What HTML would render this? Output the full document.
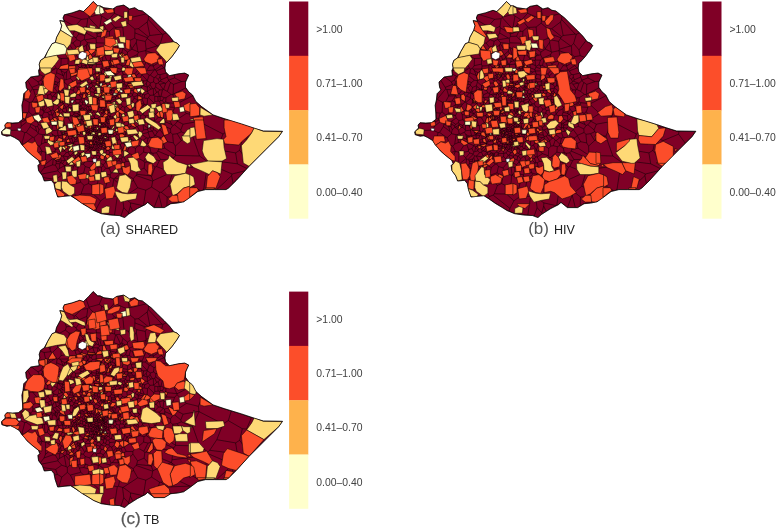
<!DOCTYPE html>
<html lang="en"><head><meta charset="utf-8"><title>Relative risk maps</title>
<style>
html,body{margin:0;padding:0;background:#fff;}
body{width:778px;height:529px;overflow:hidden;}
svg{display:block;}
text{font-family:"Liberation Sans",Arial,Helvetica,sans-serif;}
.lab{font-size:10.4px;fill:#424242;}
.cap1{font-size:17px;fill:#555;}
.cap2{font-size:12.6px;fill:#222;}
.bd{stroke:#555;stroke-width:0.25;}
.pp polygon{stroke:#000;stroke-width:0.5;stroke-linejoin:round;}
</style></head><body>
<svg width="778" height="529" viewBox="0 0 778 529">
<defs>
<clipPath id="clipEth"><polygon points="93.2,1.5 97.7,5.8 100.0,5.8 103.9,7.7 112.9,9.0 116.7,6.4 123.8,5.1 129.6,9.0 134.7,7.7 138.6,10.3 142.4,10.9 151.4,18.0 157.8,24.4 164.3,30.8 169.4,36.0 173.9,41.8 177.1,43.1 179.4,45.6 177.1,49.5 172.0,56.6 166.8,62.3 165.6,63.0 164.9,68.0 165.6,71.9 169.4,75.7 178.4,73.8 184.8,73.1 188.7,75.1 185.5,82.1 185.5,87.3 188.7,91.8 192.5,95.0 195.8,101.4 201.6,106.6 213.1,114.9 224.7,118.8 241.4,123.9 253.0,127.8 263.3,131.0 282.5,131.3 278.7,136.7 265.8,149.6 249.1,166.3 236.3,180.4 228.6,188.0 226.1,189.6 214.6,189.6 205.6,189.6 197.8,191.5 190.1,197.3 183.7,201.8 177.3,203.1 170.8,203.7 164.4,207.6 154.1,207.6 147.7,202.4 145.1,204.7 137.4,208.6 128.4,214.3 124.6,217.6 119.4,215.6 110.4,215.0 101.4,213.7 93.7,210.5 88.6,207.3 82.1,203.4 75.7,198.9 70.6,195.7 64.1,196.3 57.7,197.0 55.1,189.3 54.0,183.6 51.4,180.3 44.3,181.0 42.4,175.8 38.6,170.7 37.9,165.6 39.8,163.6 38.6,160.4 32.1,155.3 27.0,150.8 25.0,148.2 21.7,144.4 19.3,140.5 14.5,137.6 10.6,135.7 6.8,136.2 1.9,134.7 1.4,131.8 5.3,128.0 4.8,125.1 6.8,122.7 12.5,123.1 18.3,122.7 22.7,119.3 22.5,113.0 21.9,105.3 23.1,100.1 23.8,93.7 27.6,89.9 26.3,87.3 25.7,82.1 30.8,77.0 39.2,75.7 38.6,70.6 39.8,68.0 39.2,64.3 40.5,60.4 44.3,57.8 47.6,51.4 52.0,43.7 55.3,42.4 56.6,37.3 60.4,30.2 61.7,25.7 59.8,20.6 64.3,21.2 63.0,18.0 64.3,14.8 72.0,12.9 79.7,10.3 83.5,11.6 88.7,6.4"/></clipPath>
<path id="mesh" d="M119.3 165.7L121.8 163.1M119.3 165.7L120.5 167.2M120.5 167.2L124.8 166.2M124.0 162.7L124.8 166.2M122.5 162.8L124.0 162.7M121.8 163.1L122.5 162.8M124.0 157.0L129.2 153.6M124.0 157.0L126.2 161.4M126.2 161.4L132.9 161.6M132.9 161.6L135.8 157.3M135.0 155.8L135.8 157.3M129.2 153.6L135.0 155.8M63.1 90.7L63.9 91.8M62.8 90.5L63.1 90.7M58.2 91.8L62.8 90.5M57.7 92.4L58.2 91.8M57.6 92.6L57.7 92.4M57.6 92.6L57.8 92.8M57.8 92.8L62.3 93.4M62.3 93.4L63.9 92.1M63.9 91.8L63.9 92.1M64.2 97.6L66.1 96.5M65.6 95.3L66.1 96.5M64.3 94.6L65.6 95.3M63.1 94.9L64.3 94.6M63.0 95.0L63.1 94.9M61.8 97.3L63.0 95.0M61.8 97.3L61.9 97.7M61.9 97.7L64.2 97.6M63.5 49.9L67.7 49.1M63.5 49.9L67.8 58.2M67.8 58.2L68.2 58.3M68.2 58.3L69.4 57.7M68.0 49.5L69.4 57.7M67.7 49.1L68.0 49.5M132.6 61.8L134.3 67.0M130.5 60.4L132.6 61.8M129.2 65.4L130.5 60.4M129.2 65.4L132.6 67.7M132.6 67.7L134.3 67.0M163.6 89.4L167.3 91.4M167.3 91.4L170.5 82.5M168.6 80.7L170.5 82.5M165.7 83.3L168.6 80.7M163.6 89.4L165.7 83.3M162.4 100.4L164.3 97.7M162.4 100.4L164.1 103.1M164.1 103.1L164.5 102.9M164.5 102.9L165.7 101.9M165.7 101.9L166.0 97.7M164.3 97.7L166.0 97.7M159.4 96.5L160.1 96.6M160.1 96.6L161.0 96.2M161.0 96.2L162.5 89.8M160.0 89.9L162.5 89.8M158.1 91.6L160.0 89.9M158.1 91.6L159.4 96.5M54.7 111.3L58.1 108.5M54.7 111.3L54.8 111.6M54.8 111.6L55.5 112.2M55.5 112.2L56.7 112.1M56.7 112.1L58.5 111.0M58.1 108.5L58.5 111.0M102.6 77.1L103.2 76.3M100.7 74.7L103.2 76.3M100.2 75.2L100.7 74.7M100.2 75.2L100.4 76.1M100.4 76.1L102.6 77.1M94.2 103.0L94.2 103.1M90.7 103.6L94.2 103.0M90.7 103.6L91.0 105.1M91.0 105.1L94.2 104.0M94.2 103.1L94.2 104.0M107.4 93.1L107.5 92.5M107.4 93.1L109.7 93.5M109.7 93.5L111.4 92.3M110.7 90.4L111.4 92.3M110.6 90.3L110.7 90.4M107.5 92.5L110.6 90.3M66.7 142.5L66.8 142.3M66.2 140.4L66.8 142.3M64.7 138.8L66.2 140.4M63.1 138.9L64.7 138.8M62.7 139.1L63.1 138.9M62.0 141.6L62.7 139.1M62.0 141.6L62.1 142.5M62.1 142.5L65.4 143.1M65.4 143.1L66.7 142.5M113.0 54.0L113.8 52.7M113.0 54.0L116.7 59.0M116.7 59.0L119.8 56.7M118.8 54.5L119.8 56.7M113.8 52.7L118.8 54.5M147.2 80.7L147.5 81.0M143.5 80.9L147.2 80.7M143.0 85.9L143.5 80.9M143.0 85.9L143.6 85.8M143.6 85.8L146.1 83.3M146.1 83.3L147.5 81.0M164.3 30.8L166.3 32.8M157.8 24.4L164.3 30.8M151.4 18.0L157.8 24.4M148.6 15.8L151.4 18.0M148.3 19.5L148.6 15.8M148.3 19.5L161.9 34.1M161.9 34.1L163.0 34.3M163.0 34.3L166.3 32.8M161.2 56.7L166.9 55.7M165.7 49.9L166.9 55.7M160.3 43.5L165.7 49.9M158.1 45.8L160.3 43.5M158.1 45.8L158.6 54.6M158.6 54.6L161.2 56.7M66.7 160.9L66.9 164.1M66.9 164.1L69.1 164.6M69.1 164.6L70.4 162.5M67.3 160.5L70.4 162.5M66.7 160.9L67.3 160.5M24.3 143.9L32.8 137.1M24.3 143.9L32.7 146.4M32.7 146.4L36.0 144.5M34.0 137.5L36.0 144.5M32.8 137.1L34.0 137.5M85.4 130.2L85.4 130.3M84.5 128.9L85.4 130.2M83.0 129.3L84.5 128.9M82.2 130.8L83.0 129.3M82.2 130.8L82.6 131.3M82.6 131.3L84.6 131.6M84.6 131.6L85.4 130.3M71.9 122.7L73.4 117.7M71.9 122.7L72.4 122.9M72.4 122.9L74.2 123.0M74.2 123.0L75.7 121.7M75.4 118.2L75.7 121.7M74.2 117.8L75.4 118.2M73.4 117.7L74.2 117.8M110.3 68.3L110.7 68.6M110.7 68.6L112.8 68.6M112.8 68.3L112.8 68.6M110.8 66.4L112.8 68.3M110.3 68.3L110.8 66.4M85.4 73.8L88.2 75.3M85.9 72.3L88.2 75.3M85.4 73.8L85.9 72.3M164.2 135.3L170.8 132.5M170.5 128.9L170.8 132.5M165.1 126.4L170.5 128.9M161.0 127.7L165.1 126.4M160.0 128.7L161.0 127.7M160.0 128.7L160.0 129.7M160.0 129.7L164.2 135.3M22.7 118.1L25.1 119.1M22.7 118.1L22.7 119.3M20.0 121.4L22.7 119.3M20.0 121.4L20.8 122.2M20.8 122.2L25.7 120.1M25.1 119.1L25.7 120.1M137.6 170.9L144.1 168.1M136.7 174.3L137.6 170.9M136.7 174.3L150.8 175.9M144.1 168.1L150.8 175.9M110.6 72.4L111.2 74.7M111.2 74.7L112.1 76.0M112.1 76.0L115.9 74.9M114.8 73.5L115.9 74.9M111.9 72.0L114.8 73.5M110.6 72.4L111.9 72.0M118.3 122.0L121.0 123.7M114.8 122.6L118.3 122.0M114.8 122.6L115.1 123.6M115.1 123.6L116.7 125.7M116.7 125.7L116.8 125.7M116.8 125.7L120.8 124.0M120.8 124.0L121.0 123.7M98.6 28.1L99.6 28.0M96.9 33.4L98.6 28.1M96.9 33.4L97.0 34.0M97.0 34.0L104.4 31.4M101.3 27.8L104.4 31.4M99.6 28.0L101.3 27.8M115.1 135.8L116.6 134.5M115.4 131.5L116.6 134.5M113.4 132.9L115.4 131.5M113.0 134.3L113.4 132.9M113.0 134.3L114.2 136.2M114.2 136.2L115.1 135.8M143.9 105.1L144.5 104.5M144.3 104.3L144.5 104.5M140.9 103.4L144.3 104.3M138.0 105.4L140.9 103.4M138.0 105.4L138.2 106.1M138.2 106.1L143.9 105.1M47.9 54.6L50.0 59.2M50.0 59.2L52.8 52.8M50.2 53.1L52.8 52.8M47.9 54.6L50.2 53.1M156.5 166.5L159.4 160.6M156.5 166.5L171.2 172.5M171.2 172.5L171.5 172.5M171.5 172.5L172.0 169.8M172.0 169.8L173.0 159.3M160.7 159.6L173.0 159.3M159.4 160.6L160.7 159.6M49.5 76.3L49.7 73.7M47.3 70.0L49.7 73.7M46.7 76.8L47.3 70.0M46.7 76.8L47.2 76.8M47.2 76.8L49.5 76.3M73.7 164.6L73.8 164.2M72.6 162.5L73.8 164.2M71.4 161.9L72.6 162.5M70.4 162.5L71.4 161.9M69.1 164.6L69.9 165.3M69.9 165.3L73.7 164.6M53.2 96.2L57.1 97.5M57.1 97.5L57.6 92.6M56.1 92.9L57.6 92.6M53.2 96.2L56.1 92.9M78.7 126.6L80.0 127.0M77.1 128.5L78.7 126.6M77.1 128.5L78.3 129.5M78.3 129.5L79.4 129.7M79.4 129.7L80.0 127.0M159.7 84.3L163.2 89.4M163.2 89.4L163.6 89.4M164.9 83.1L165.7 83.3M159.7 84.3L164.9 83.1M87.5 110.4L89.0 108.9M87.5 110.4L87.7 111.1M87.7 111.1L90.5 109.8M89.0 108.9L90.5 109.8M123.8 100.9L126.8 101.6M126.8 101.6L128.5 100.1M128.5 99.2L128.5 100.1M126.8 97.2L128.5 99.2M126.5 97.1L126.8 97.2M124.1 97.4L126.5 97.1M123.8 100.9L124.1 97.4M140.0 145.7L141.9 140.3M139.9 137.9L141.9 140.3M139.5 138.0L139.9 137.9M139.0 138.1L139.5 138.0M136.5 140.9L139.0 138.1M136.4 141.4L136.5 140.9M136.4 141.4L137.6 146.1M137.6 146.1L140.0 145.7M150.4 82.9L153.5 82.0M153.5 82.0L154.0 77.7M150.3 75.1L154.0 77.7M149.2 75.2L150.3 75.1M147.3 80.5L149.2 75.2M147.2 80.7L147.3 80.5M147.5 81.0L150.4 82.9M109.7 93.5L111.2 95.1M111.2 95.1L113.2 94.3M113.2 94.3L113.3 94.0M111.4 92.3L113.3 94.0M137.4 100.6L138.6 102.4M134.9 103.4L137.4 100.6M134.9 103.4L137.6 104.8M137.6 104.8L138.6 102.4M100.4 143.0L101.0 144.4M101.0 144.4L102.0 144.8M102.0 144.8L102.4 143.8M101.6 143.3L102.4 143.8M100.4 143.0L101.6 143.3M76.2 132.9L76.8 135.0M76.8 135.0L78.6 134.3M77.8 132.7L78.6 134.3M77.3 132.2L77.8 132.7M76.2 132.9L77.3 132.2M55.3 135.9L56.3 135.9M53.3 137.0L55.3 135.9M53.3 137.0L53.4 139.2M53.4 139.2L53.4 139.3M53.4 139.3L56.3 135.9M39.4 146.2L41.9 151.1M36.0 144.5L39.4 146.2M29.6 153.1L32.7 146.4M29.6 153.1L31.9 155.1M31.9 155.1L41.9 151.1M111.3 107.7L111.6 109.3M111.6 109.3L115.8 109.3M115.7 108.9L115.8 109.3M114.8 107.9L115.7 108.9M111.3 107.7L114.8 107.9M130.9 129.9L134.1 128.6M134.1 128.6L135.3 127.3M131.6 125.7L135.3 127.3M128.7 127.7L131.6 125.7M128.7 127.7L129.6 130.1M129.6 130.1L130.9 129.9M86.7 26.4L87.8 18.7M81.3 19.3L87.8 18.7M75.5 25.5L81.3 19.3M75.5 25.5L79.6 29.5M79.6 29.5L86.7 26.4M156.2 114.4L158.5 117.0M158.5 117.0L160.5 117.1M159.5 111.7L160.5 117.1M158.5 111.5L159.5 111.7M156.2 114.4L158.5 111.5M98.9 91.7L99.1 92.1M99.1 92.1L101.7 90.4M100.4 89.4L101.7 90.4M99.5 90.2L100.4 89.4M98.9 91.7L99.5 90.2M111.7 157.1L112.9 161.6M110.0 156.5L111.7 157.1M107.3 158.8L110.0 156.5M106.0 161.3L107.3 158.8M106.0 161.3L112.9 161.6M84.9 79.8L87.6 76.8M84.9 76.7L87.6 76.8M83.7 77.3L84.9 76.7M83.5 78.2L83.7 77.3M83.5 78.2L84.1 79.7M84.1 79.7L84.9 79.8M92.8 69.5L96.2 69.0M91.2 71.0L92.8 69.5M91.2 71.0L92.6 74.0M92.6 74.0L93.4 74.4M93.4 74.4L95.0 73.9M95.0 73.9L96.3 69.4M96.2 69.0L96.3 69.4M159.3 61.2L161.2 56.7M156.5 54.6L158.6 54.6M153.0 58.6L156.5 54.6M153.0 58.6L153.3 60.0M153.3 60.0L159.3 61.2M73.5 136.8L75.2 139.9M75.2 139.9L76.6 138.7M76.6 138.7L77.3 138.0M76.5 136.8L77.3 138.0M73.5 136.8L76.5 136.8M112.7 138.7L113.1 140.6M113.1 140.6L117.5 140.3M117.5 140.3L118.8 139.9M115.1 135.8L118.8 139.9M112.7 138.7L114.2 136.2M84.8 112.9L85.0 111.0M84.8 112.9L86.3 113.7M86.3 113.7L86.6 113.7M86.6 113.7L87.7 113.1M87.7 111.7L87.7 113.1M87.7 111.1L87.7 111.7M86.5 109.6L87.5 110.4M85.0 111.0L86.5 109.6M98.0 100.7L98.7 99.7M98.4 98.8L98.7 99.7M98.2 98.8L98.4 98.8M95.4 99.1L98.2 98.8M92.9 100.0L95.4 99.1M92.9 100.0L93.1 100.2M93.1 100.2L98.0 100.7M103.1 91.1L103.1 91.9M103.1 90.8L103.1 91.1M101.7 90.4L103.1 90.8M99.1 92.1L99.5 93.1M99.5 93.1L101.3 93.3M101.3 93.3L101.7 93.0M101.7 93.0L103.1 91.9M154.1 115.8L155.4 114.4M154.1 115.8L154.7 121.0M154.7 121.0L158.5 117.0M155.4 114.4L156.2 114.4M110.1 148.7L111.4 148.6M111.4 148.6L112.4 144.6M112.1 141.9L112.4 144.6M110.8 142.2L112.1 141.9M110.1 142.8L110.8 142.2M109.1 146.5L110.1 142.8M109.1 146.5L110.1 148.7M75.7 121.7L76.9 121.3M76.9 121.3L78.2 119.5M77.8 118.8L78.2 119.5M76.4 116.9L77.8 118.8M76.2 116.8L76.4 116.9M75.4 118.2L76.2 116.8M151.7 131.2L152.5 131.2M148.4 131.9L151.7 131.2M148.2 132.5L148.4 131.9M148.2 132.5L149.8 137.3M149.8 137.3L152.6 137.7M152.6 137.7L154.8 135.7M152.5 131.2L154.8 135.7M88.1 106.5L90.6 106.2M88.1 106.5L89.0 108.9M90.5 109.8L91.1 110.0M91.1 110.0L92.3 109.2M91.5 107.1L92.3 109.2M90.6 106.2L91.5 107.1M86.0 133.0L88.5 134.7M84.7 135.3L86.0 133.0M84.7 135.3L84.9 135.3M84.9 135.3L88.5 136.4M88.5 134.7L88.5 136.4M96.9 131.8L97.3 131.3M96.9 131.8L98.1 132.2M97.3 131.3L98.1 132.2M86.1 9.0L89.1 17.2M83.5 11.6L86.1 9.0M79.7 10.3L83.5 11.6M72.0 12.9L79.7 10.3M65.5 14.5L72.0 12.9M65.5 14.5L81.3 19.3M87.8 18.7L88.9 17.6M88.9 17.6L89.1 17.2M122.3 119.2L123.3 118.6M122.3 119.2L122.8 120.2M122.8 120.2L123.2 120.3M123.2 120.3L124.4 119.5M123.3 118.6L124.4 119.5M78.3 114.3L78.8 115.0M76.1 116.6L78.3 114.3M76.1 116.6L76.2 116.8M76.4 116.9L78.0 116.7M78.0 116.7L79.4 116.2M79.4 116.2L79.5 116.1M79.2 115.7L79.5 116.1M78.8 115.0L79.2 115.7M141.9 74.8L147.3 80.5M140.3 77.9L141.9 74.8M140.3 77.9L141.7 80.0M141.7 80.0L143.5 80.9M160.0 76.8L161.0 79.8M158.3 79.4L160.0 76.8M158.3 79.4L159.2 81.7M159.2 81.7L160.3 81.2M160.3 81.2L161.0 79.8M122.6 81.0L124.3 81.9M121.4 82.7L122.6 81.0M121.4 82.7L124.2 84.1M124.2 84.1L124.3 81.9M127.5 117.7L127.6 117.3M125.6 116.7L127.6 117.3M124.7 117.5L125.6 116.7M124.7 117.5L124.8 119.5M124.8 119.5L124.9 119.6M124.9 119.6L127.5 117.7M44.2 83.5L44.3 83.3M43.1 81.5L44.3 83.3M42.8 81.7L43.1 81.5M41.2 84.6L42.8 81.7M41.2 84.6L44.2 83.5M152.4 88.6L153.3 88.8M153.3 88.8L154.5 88.0M154.5 88.0L155.7 87.1M155.7 87.1L155.9 83.7M153.5 82.0L155.9 83.7M150.0 84.6L150.4 82.9M150.0 84.6L152.4 88.6M82.3 90.8L82.4 90.5M82.0 89.5L82.4 90.5M78.2 89.8L82.0 89.5M76.1 93.6L78.2 89.8M76.1 93.6L76.5 94.2M76.5 94.2L78.8 94.6M78.8 94.6L82.3 90.8M89.6 116.5L90.0 115.9M89.6 116.5L90.0 118.0M90.0 118.0L90.8 118.4M90.8 118.4L93.3 118.8M93.3 118.8L94.6 117.9M94.3 116.4L94.6 117.9M92.7 115.5L94.3 116.4M90.0 115.9L92.7 115.5M142.5 93.7L145.3 91.1M141.3 88.0L145.3 91.1M141.0 88.2L141.3 88.0M140.4 90.9L141.0 88.2M140.4 90.9L141.2 93.0M141.2 93.0L142.5 93.7M110.9 84.3L111.1 84.1M110.9 84.3L113.2 87.1M113.2 87.1L113.9 87.2M113.9 87.2L114.5 83.7M114.0 83.3L114.5 83.7M111.4 83.8L114.0 83.3M111.1 84.1L111.4 83.8M101.7 64.1L101.8 63.7M101.8 63.7L102.2 61.5M100.6 60.8L102.2 61.5M97.4 61.7L100.6 60.8M96.0 64.4L97.4 61.7M96.0 64.4L96.2 64.7M96.2 64.7L101.7 64.1M42.3 115.5L42.8 118.0M41.4 115.3L42.3 115.5M32.9 119.2L41.4 115.3M32.7 121.0L32.9 119.2M32.7 121.0L37.2 121.8M37.2 121.8L38.2 121.3M38.2 121.3L42.8 118.0M70.3 78.5L72.9 81.0M66.1 79.6L70.3 78.5M64.4 80.1L66.1 79.6M64.0 80.6L64.4 80.1M64.0 80.6L64.1 82.0M64.1 82.0L68.2 85.7M68.2 85.7L68.6 85.6M68.6 85.6L72.9 81.0M59.4 99.3L59.6 99.3M59.1 103.2L59.4 99.3M59.1 103.2L60.7 102.8M59.7 99.5L60.7 102.8M59.6 99.3L59.7 99.5M60.4 113.7L60.9 113.6M60.9 113.6L62.8 111.3M62.1 109.4L62.8 111.3M61.7 109.2L62.1 109.4M58.9 111.2L61.7 109.2M58.9 111.2L60.4 113.7M134.1 135.1L135.9 135.8M135.9 135.8L137.8 134.1M137.8 134.1L138.4 132.1M135.2 132.9L138.4 132.1M134.3 134.1L135.2 132.9M134.1 135.1L134.3 134.1M21.8 144.2L24.3 143.9M21.6 144.3L21.8 144.2M21.6 144.3L21.7 144.4M21.7 144.4L25.0 148.2M25.0 148.2L27.0 150.8M27.0 150.8L29.6 153.1M120.1 130.9L121.3 127.5M120.1 130.9L123.1 129.9M123.1 129.9L123.8 128.0M123.8 127.6L123.8 128.0M121.3 127.5L123.8 127.6M102.9 121.0L104.0 119.3M102.9 121.0L106.3 121.8M106.3 121.2L106.3 121.8M105.1 119.6L106.3 121.2M104.0 119.3L105.1 119.6M136.0 175.4L136.7 174.3M136.0 175.4L152.7 181.2M152.7 181.2L152.9 180.7M151.5 176.6L152.9 180.7M150.8 175.9L151.5 176.6M47.0 69.1L47.3 70.0M45.5 68.7L47.0 69.1M44.8 69.5L45.5 68.7M44.8 69.5L45.1 76.4M45.1 76.4L46.0 76.8M46.0 76.8L46.7 76.8M35.4 96.0L42.1 95.7M32.1 102.1L35.4 96.0M32.1 102.1L32.9 102.4M32.9 102.4L38.8 101.0M38.8 101.0L42.1 95.8M42.1 95.7L42.1 95.8M76.9 39.7L80.8 41.3M72.9 43.0L76.9 39.7M72.9 43.0L76.3 47.4M76.3 47.4L78.5 46.6M78.5 46.6L80.2 45.3M80.2 45.3L80.8 41.3M139.8 84.7L141.7 80.0M138.1 78.5L140.3 77.9M135.8 82.9L138.1 78.5M135.8 82.9L135.9 83.3M135.9 83.3L139.8 84.7M50.6 145.4L53.5 144.6M46.0 152.2L50.6 145.4M46.0 152.2L47.6 152.9M47.6 152.9L55.1 151.3M55.1 151.3L55.3 149.5M53.5 144.6L55.3 149.5M119.2 152.2L119.8 154.4M119.8 154.4L122.6 156.9M122.6 156.9L123.9 156.9M123.7 150.9L123.9 156.9M123.0 150.6L123.7 150.9M119.2 152.2L123.0 150.6M87.9 132.4L89.3 132.7M89.3 132.7L89.4 131.8M88.2 131.8L89.4 131.8M87.9 132.4L88.2 131.8M121.7 143.0L124.5 143.8M124.5 143.8L126.2 142.7M124.2 139.1L126.2 142.7M120.9 141.1L124.2 139.1M120.9 141.1L121.7 143.0M168.6 80.2L168.6 80.7M167.3 77.1L168.6 80.2M161.0 79.8L167.3 77.1M160.3 81.2L164.9 83.1M119.0 112.3L119.1 117.5M119.1 117.5L120.0 118.0M120.0 118.0L121.6 116.0M121.6 116.0L122.2 114.2M119.0 112.3L122.2 114.2M70.9 86.0L71.1 86.9M68.6 85.6L70.9 86.0M68.2 85.7L68.3 89.5M68.3 89.5L68.4 89.7M68.4 89.7L69.8 89.4M69.8 89.4L71.1 86.9M87.2 106.2L88.1 106.5M86.2 108.5L87.2 106.2M86.2 108.5L86.5 109.6M89.9 130.8L90.8 133.1M90.8 133.1L91.4 133.0M91.4 133.0L91.6 132.9M91.6 132.9L91.8 132.7M90.5 130.6L91.8 132.7M89.9 130.5L90.5 130.6M89.9 130.5L89.9 130.8M84.2 118.5L85.3 120.1M81.9 119.8L84.2 118.5M81.9 119.8L83.5 121.7M83.5 121.7L83.9 121.9M83.9 121.9L85.3 120.1M106.6 48.8L108.6 54.5M104.2 53.7L106.6 48.8M104.2 53.7L104.3 55.2M104.3 55.2L104.5 55.2M104.5 55.2L108.6 54.5M145.6 110.6L149.8 108.7M142.9 114.1L145.6 110.6M142.8 114.7L142.9 114.1M142.8 114.7L145.5 115.9M145.5 115.9L148.7 115.5M148.7 115.5L149.8 112.2M149.8 108.7L149.8 112.2M100.0 5.8L102.4 7.0M97.7 5.8L100.0 5.8M93.2 1.5L97.7 5.8M88.7 6.4L93.2 1.5M86.1 9.0L88.7 6.4M89.1 17.2L99.2 14.4M99.2 14.4L102.4 7.0M154.8 101.4L158.2 101.1M157.8 96.6L158.2 101.1M154.7 96.2L157.8 96.6M154.7 96.2L154.8 101.4M99.1 129.8L99.8 129.0M99.7 128.6L99.8 129.0M98.5 128.0L99.7 128.6M97.3 129.9L98.5 128.0M97.3 129.9L97.4 129.9M97.4 129.9L97.5 130.0M97.5 130.0L99.1 129.8M56.1 163.6L56.2 161.3M56.1 163.6L59.9 163.8M59.9 163.8L60.8 162.7M60.8 162.6L60.8 162.7M58.8 161.5L60.8 162.6M56.2 161.3L58.8 161.5M61.2 58.5L67.8 58.2M60.9 65.7L61.2 58.5M60.9 65.7L68.1 64.1M68.1 64.1L68.2 58.3M118.8 54.5L120.4 53.9M119.8 56.7L122.0 56.9M122.0 56.9L122.3 56.4M120.4 53.9L122.3 56.4M127.3 79.4L127.8 75.2M127.3 79.4L127.9 80.3M127.9 80.3L130.5 79.1M130.5 79.1L132.0 77.3M131.1 74.2L132.0 77.3M130.2 73.6L131.1 74.2M127.8 75.2L130.2 73.6M87.4 93.1L87.9 95.0M87.9 95.0L90.1 94.3M90.1 94.3L90.5 91.8M90.1 91.4L90.5 91.8M87.4 93.1L90.1 91.4M93.0 85.9L94.9 86.2M91.4 87.5L93.0 85.9M91.4 87.5L94.8 90.9M94.8 90.9L95.3 90.5M95.3 90.5L95.4 87.4M94.9 86.2L95.4 87.4M132.6 113.1L133.0 110.7M132.6 113.1L132.6 113.2M132.6 113.2L135.2 115.7M135.2 115.7L138.0 114.5M137.2 109.9L138.0 114.5M133.0 110.7L137.2 109.9M142.4 10.9L146.2 13.9M138.6 10.3L142.4 10.9M134.7 7.7L138.6 10.3M129.6 9.0L134.7 7.7M127.9 7.9L129.6 9.0M127.9 7.9L129.2 17.9M129.2 17.9L146.2 13.9M102.8 121.1L102.9 121.0M102.8 121.1L103.4 123.0M103.4 123.0L103.7 123.5M103.7 123.5L105.0 124.1M105.0 124.1L105.2 124.1M105.2 124.1L106.9 122.8M106.3 121.8L106.9 122.8M136.6 88.9L137.9 92.4M134.6 88.5L136.6 88.9M133.8 90.4L134.6 88.5M133.8 90.4L134.0 92.0M134.0 92.0L137.3 93.4M137.3 93.4L137.9 92.4M55.4 75.7L56.6 72.8M56.6 72.8L57.1 69.0M56.3 68.3L57.1 69.0M54.8 68.9L56.3 68.3M50.4 71.9L54.8 68.9M49.7 73.7L50.4 71.9M49.5 76.3L52.5 77.2M52.5 77.2L55.4 75.7M83.0 136.2L84.2 137.7M82.1 137.0L83.0 136.2M82.1 137.0L82.2 138.0M82.2 138.0L82.6 139.1M82.6 139.1L82.9 139.4M82.9 139.4L84.2 139.6M84.2 137.7L84.2 139.6M101.3 142.5L102.3 142.1M101.3 142.5L101.6 143.3M102.4 143.8L102.9 143.3M102.3 142.1L102.9 143.3M91.5 76.4L92.7 76.0M89.3 77.7L91.5 76.4M89.3 77.7L89.7 78.7M89.7 78.7L91.9 80.4M91.9 80.4L94.3 79.4M92.7 76.0L94.3 79.4M115.3 97.8L115.7 98.9M114.4 96.9L115.3 97.8M111.6 97.8L114.4 96.9M111.5 98.0L111.6 97.8M111.5 98.0L111.6 100.1M111.6 100.1L115.7 98.9M159.5 111.7L163.3 110.7M163.3 110.7L163.4 109.9M160.3 105.5L163.4 109.9M155.4 107.1L160.3 105.5M155.4 107.1L158.5 111.5M45.3 130.0L45.9 134.0M45.9 134.0L46.9 134.2M46.9 134.2L51.1 132.2M51.1 132.2L52.4 130.8M52.0 130.2L52.4 130.8M49.7 127.4L52.0 130.2M47.6 127.4L49.7 127.4M45.3 130.0L47.6 127.4M48.0 106.3L50.7 110.8M50.7 110.8L50.8 110.8M50.8 110.8L52.7 110.0M52.7 110.0L53.9 104.0M52.7 102.4L53.9 104.0M51.9 102.1L52.7 102.4M49.1 104.2L51.9 102.1M48.0 106.2L49.1 104.2M48.0 106.2L48.0 106.3M61.8 187.1L67.4 182.4M58.9 196.9L61.8 187.1M58.9 196.9L64.1 196.3M64.1 196.3L70.6 195.7M70.6 195.7L74.8 198.3M74.8 198.3L76.1 196.6M70.4 185.0L76.1 196.6M67.4 182.4L70.4 185.0M122.2 186.1L126.5 174.8M122.2 186.1L133.7 180.5M133.3 178.7L133.7 180.5M126.5 174.8L133.3 178.7M110.7 95.8L111.6 97.8M107.9 96.4L110.7 95.8M107.9 96.4L108.1 97.2M108.1 97.2L110.0 98.0M110.0 98.0L111.5 98.0M118.5 196.3L120.0 188.4M118.5 196.3L122.5 197.4M122.5 197.4L123.1 197.4M123.1 197.4L137.7 187.8M133.7 180.5L137.7 187.8M120.0 188.4L122.2 186.1M45.0 79.8L45.3 81.3M43.1 81.5L45.0 79.8M44.3 83.3L45.3 81.3M84.9 125.3L87.4 126.5M84.9 125.3L85.1 126.7M85.1 126.7L87.3 128.2M87.3 128.2L87.4 126.5M140.5 99.6L141.9 98.7M141.9 98.7L142.2 98.2M141.9 97.5L142.2 98.2M139.7 96.2L141.9 97.5M138.0 95.8L139.7 96.2M137.7 99.7L138.0 95.8M137.7 99.7L140.5 99.6M148.9 115.7L154.1 115.8M148.9 115.7L150.1 119.0M150.1 119.0L153.9 120.9M153.9 120.9L154.7 121.1M154.7 121.0L154.7 121.1M90.5 130.6L91.9 130.4M91.9 130.4L92.8 128.9M90.9 128.4L92.8 128.9M89.3 129.0L90.9 128.4M89.1 129.3L89.3 129.0M89.1 129.3L89.9 130.5M134.2 86.2L134.3 87.4M134.3 87.4L134.6 88.5M136.6 88.9L141.0 88.2M141.3 88.0L141.5 86.8M139.8 84.7L141.5 86.8M134.2 86.2L135.9 83.3M59.4 47.7L63.5 49.9M56.6 51.7L59.4 47.7M56.6 51.7L57.9 57.2M57.9 57.2L61.2 58.5M102.9 129.5L103.5 130.0M102.8 130.4L102.9 129.5M102.8 130.4L103.5 130.1M103.5 130.0L103.5 130.1M27.5 80.3L31.9 87.4M25.7 82.1L27.5 80.3M25.7 82.1L26.3 87.3M26.3 87.3L27.6 89.9M23.8 93.7L27.6 89.9M23.2 99.3L23.8 93.7M23.2 99.3L23.8 99.4M23.8 99.4L32.4 88.9M31.9 87.4L32.4 88.9M123.7 117.7L124.7 117.5M123.3 118.6L123.7 117.7M124.4 119.5L124.8 119.5M30.7 123.9L35.4 126.6M30.1 126.6L30.7 123.9M30.1 126.6L36.7 131.4M35.4 126.6L36.7 131.4M39.0 74.2L43.2 76.2M39.0 74.2L39.2 75.7M31.4 76.9L39.2 75.7M31.4 76.9L38.0 81.9M38.0 81.9L40.8 80.3M40.8 80.3L43.2 76.2M66.2 107.3L68.2 106.4M66.0 107.7L66.2 107.3M66.0 107.7L66.7 111.3M66.7 111.3L68.3 111.0M68.3 111.0L69.1 107.6M68.2 106.4L69.1 107.6M154.7 124.7L155.1 121.9M154.7 121.1L155.1 121.9M149.9 123.3L153.9 120.9M149.9 123.3L151.2 125.0M151.2 125.0L154.7 124.7M116.1 83.3L118.9 82.2M118.6 79.3L118.9 82.2M116.2 79.6L118.6 79.3M116.1 83.3L116.2 79.6M216.7 189.6L231.6 175.7M216.7 189.6L226.1 189.6M226.1 189.6L228.6 188.0M228.6 188.0L233.1 183.6M231.6 175.7L233.1 183.6M69.3 139.2L70.0 142.1M70.0 142.1L73.1 143.1M73.1 143.1L73.2 143.1M71.9 138.5L73.2 143.1M69.3 139.2L71.9 138.5M134.1 128.6L135.2 132.9M130.9 129.9L134.3 134.1M88.5 134.7L88.8 133.9M87.5 132.7L88.8 133.9M86.3 132.8L87.5 132.7M86.0 133.0L86.3 132.8M158.2 83.0L159.7 84.3M155.9 83.7L158.2 83.0M155.7 87.1L160.0 89.9M162.5 89.8L163.2 89.4M152.7 60.8L153.3 60.0M146.6 56.4L153.0 58.6M146.2 60.2L146.6 56.4M146.2 60.2L152.7 60.8M135.9 135.8L139.0 138.1M132.8 136.0L134.1 135.1M132.8 136.0L136.5 140.9M125.2 134.8L125.7 133.5M125.2 134.8L129.9 135.0M129.4 131.2L129.9 135.0M125.7 133.5L129.4 131.2M83.7 172.8L85.7 174.0M85.7 174.0L90.0 176.0M90.0 176.0L92.3 174.1M92.0 172.4L92.3 174.1M89.7 167.9L92.0 172.4M85.2 166.5L89.7 167.9M83.7 172.8L85.2 166.5M37.7 126.6L39.0 129.8M39.0 129.8L41.5 127.3M41.3 125.8L41.5 127.3M38.3 124.3L41.3 125.8M37.7 126.6L38.3 124.3M40.2 172.9L41.2 174.2M41.2 174.2L57.9 170.8M57.9 170.8L58.1 169.8M55.4 165.2L58.1 169.8M52.6 164.9L55.4 165.2M44.0 168.0L52.6 164.9M40.2 172.9L44.0 168.0M122.1 121.4L122.8 120.2M121.9 123.6L122.1 121.4M121.9 123.6L123.4 124.1M123.4 124.1L124.8 121.8M123.2 120.3L124.8 121.8M67.3 177.3L67.4 182.4M70.4 185.0L80.8 182.3M79.4 178.0L80.8 182.3M77.8 174.9L79.4 178.0M76.7 174.3L77.8 174.9M71.2 175.1L76.7 174.3M69.8 175.4L71.2 175.1M67.3 177.3L69.8 175.4M168.6 80.2L174.6 77.9M174.6 74.6L174.6 77.9M169.4 75.7L174.6 74.6M166.9 73.2L169.4 75.7M166.9 73.2L167.3 77.1M89.1 65.8L89.6 67.1M87.4 64.2L89.1 65.8M86.7 64.6L87.4 64.2M86.2 65.4L86.7 64.6M86.1 65.7L86.2 65.4M86.1 65.7L87.6 70.6M87.6 70.6L87.7 70.7M87.7 70.7L89.6 67.1M95.6 64.2L96.0 64.4M95.3 64.3L95.6 64.2M92.7 65.2L95.3 64.3M91.1 68.0L92.7 65.2M91.1 68.0L92.8 69.5M96.2 64.7L96.2 69.0M50.0 59.2L50.7 61.7M46.1 54.3L47.9 54.6M44.3 57.8L46.1 54.3M40.5 60.4L44.3 57.8M40.3 60.9L40.5 60.4M40.3 60.9L44.1 62.5M44.1 62.5L50.7 61.7M76.9 78.9L78.0 74.7M77.7 74.3L78.0 74.7M70.9 76.8L77.7 74.3M70.3 78.5L70.9 76.8M72.9 81.0L73.8 81.6M73.8 81.6L76.9 78.9M129.9 70.8L132.6 67.7M126.8 65.4L129.2 65.4M126.8 65.4L128.3 69.2M128.3 69.2L129.7 70.8M129.7 70.8L129.9 70.8M147.2 38.5L157.3 45.9M145.3 41.4L147.2 38.5M145.3 41.4L146.1 49.2M146.1 49.2L157.3 45.9M146.1 61.6L149.9 65.6M149.9 65.6L153.2 66.0M152.7 60.8L153.2 66.0M145.9 61.2L146.2 60.2M145.9 61.2L146.1 61.6M115.4 83.6L116.0 83.4M115.4 83.6L117.3 88.4M117.3 88.4L119.1 87.3M118.9 86.4L119.1 87.3M116.0 83.4L118.9 86.4M166.5 105.4L167.6 102.7M165.7 101.9L167.6 102.7M164.5 102.9L166.5 105.4M95.1 105.8L97.3 106.1M97.3 106.1L97.5 104.0M94.2 103.1L97.5 104.0M94.2 104.0L94.6 105.3M94.6 105.3L95.1 105.8M108.4 134.5L109.1 136.8M108.1 134.1L108.4 134.5M106.9 133.7L108.1 134.1M106.2 134.4L106.9 133.7M106.2 134.4L106.5 136.2M106.5 136.2L107.0 137.3M107.0 137.3L108.7 137.0M108.7 137.0L109.1 136.8M68.1 64.1L68.8 66.0M68.8 66.0L75.6 65.7M75.6 65.7L76.3 64.9M75.0 60.8L76.3 64.9M70.0 57.6L75.0 60.8M69.5 57.7L70.0 57.6M69.4 57.7L69.5 57.7M60.8 162.6L61.2 161.0M60.8 162.7L62.5 163.5M62.5 163.5L65.1 160.2M65.1 160.1L65.1 160.2M61.2 161.0L65.1 160.1M154.1 207.6L158.9 195.1M154.1 207.6L162.0 207.6M158.9 195.1L162.0 207.6M89.0 116.6L89.6 116.5M88.2 118.9L89.0 116.6M88.2 118.9L88.5 118.9M88.5 118.9L90.0 118.0M237.4 163.8L247.0 168.6M247.0 168.6L249.1 166.3M249.1 166.3L250.4 165.0M239.7 150.3L250.4 165.0M235.6 152.9L239.7 150.3M235.6 152.9L237.4 163.8M67.0 89.1L68.3 89.5M63.1 85.8L64.1 82.0M63.1 85.8L63.4 86.4M63.4 86.4L67.0 89.1M143.9 109.3L145.6 110.6M142.0 110.1L143.9 109.3M142.0 110.1L142.9 114.1M80.8 78.0L83.5 78.2M80.8 78.0L81.0 81.5M81.0 81.5L82.9 81.1M82.9 81.1L84.1 79.7M44.2 83.5L45.7 84.4M40.3 85.4L41.2 84.6M40.3 85.4L40.6 86.4M40.6 86.4L45.7 84.4M122.1 77.6L123.1 74.2M122.1 77.6L122.7 78.5M122.7 78.5L127.3 79.4M123.1 74.2L127.8 75.2M74.5 30.9L77.7 31.3M72.6 35.5L74.5 30.9M72.6 35.5L76.1 37.9M76.1 37.9L78.8 33.9M77.7 31.3L78.8 33.9M110.4 106.0L111.3 107.7M114.2 105.2L114.8 107.9M111.2 104.7L114.2 105.2M110.4 106.0L111.2 104.7M123.8 127.6L124.7 125.9M123.8 128.0L126.9 130.4M126.9 130.4L129.5 130.3M129.5 130.3L129.6 130.1M127.4 125.9L128.7 127.7M124.7 125.9L127.4 125.9M153.9 102.9L154.8 101.4M153.0 106.3L153.9 102.9M153.0 106.3L153.7 106.7M153.7 106.7L155.4 107.1M160.3 105.5L160.6 104.9M159.6 101.4L160.6 104.9M158.2 101.1L159.6 101.4M70.7 159.8L72.0 157.9M71.2 156.6L72.0 157.9M70.4 155.9L71.2 156.6M69.7 155.6L70.4 155.9M68.0 156.8L69.7 155.6M67.4 160.4L68.0 156.8M67.4 160.4L70.7 159.8M98.4 88.8L98.5 87.8M98.4 88.8L99.5 90.2M100.4 89.4L100.8 86.8M100.7 86.7L100.8 86.8M98.9 87.5L100.7 86.7M98.5 87.8L98.9 87.5M112.6 87.1L113.2 87.1M110.6 84.5L110.9 84.3M110.6 84.5L111.2 86.0M111.2 86.0L111.9 87.1M111.9 87.1L112.6 87.1M80.3 54.1L81.0 58.0M79.0 53.4L80.3 54.1M75.1 53.3L79.0 53.4M75.1 53.3L78.5 58.8M78.5 58.8L81.0 58.0M132.9 164.0L137.6 170.9M126.9 170.9L132.9 164.0M125.6 174.0L126.9 170.9M125.6 174.0L126.5 174.8M133.3 178.7L136.0 175.4M115.1 178.1L120.5 178.7M120.5 178.7L123.8 174.1M119.9 173.7L123.8 174.1M115.1 178.1L119.9 173.7M101.2 154.8L103.6 153.0M101.2 154.8L104.5 156.3M104.5 156.3L105.2 156.1M105.2 156.1L106.4 154.4M105.6 153.3L106.4 154.4M103.6 153.0L105.6 153.3M124.5 143.8L124.8 145.1M120.2 145.0L121.7 143.0M120.2 145.0L123.0 150.2M123.0 150.2L124.8 145.1M103.3 164.7L103.3 165.7M103.3 165.7L105.8 168.3M105.8 168.3L109.4 168.6M109.4 168.6L110.1 166.9M105.7 162.0L110.1 166.9M103.3 164.7L105.7 162.0M62.7 135.0L66.8 135.6M66.8 135.6L67.8 134.7M67.8 133.6L67.8 134.7M63.7 133.8L67.8 133.6M63.1 133.8L63.7 133.8M62.7 135.0L63.1 133.8M62.3 93.4L63.1 94.9M63.9 92.1L64.3 94.6M263.3 131.0L265.7 131.0M253.0 127.8L263.3 131.0M251.6 127.3L253.0 127.8M246.5 139.1L251.6 127.3M246.5 139.1L249.8 140.6M249.8 140.6L265.3 134.2M265.3 134.2L265.7 131.0M96.5 129.1L97.3 129.9M97.7 127.4L98.5 128.0M96.5 128.1L97.7 127.4M96.5 128.1L96.5 129.1M80.2 76.3L80.5 77.7M78.0 74.7L80.2 76.3M76.9 78.9L78.5 79.1M78.5 79.1L80.5 77.7M132.0 77.3L133.3 78.1M133.3 78.1L136.5 77.4M135.9 76.0L136.5 77.4M134.7 73.9L135.9 76.0M131.1 74.2L134.7 73.9M86.9 123.2L86.9 123.4M86.9 123.4L90.1 123.5M88.5 121.2L90.1 123.5M86.9 123.2L88.5 121.2M87.9 60.9L89.2 59.8M87.9 60.9L88.0 62.2M88.0 62.2L94.7 63.2M92.7 57.7L94.7 63.2M89.2 59.8L92.7 57.7M145.7 50.6L146.6 56.4M138.5 52.2L145.7 50.6M137.3 54.6L138.5 52.2M137.3 54.6L137.5 56.9M137.5 56.9L140.7 62.2M140.7 62.2L145.9 61.2M91.5 113.2L92.7 115.5M90.5 112.6L91.5 113.2M88.6 113.2L90.5 112.6M88.6 113.2L90.0 115.9M101.6 94.0L102.2 95.1M99.8 97.0L101.6 94.0M99.8 97.0L101.6 96.9M101.6 96.9L102.1 96.1M102.1 96.1L102.2 95.1M93.3 128.7L93.5 128.0M93.3 128.7L93.4 128.8M93.4 128.8L93.8 129.1M93.8 129.1L95.3 129.7M95.3 129.7L96.5 129.1M95.8 127.4L96.5 128.1M93.7 127.8L95.8 127.4M93.5 128.0L93.7 127.8M56.7 112.1L60.3 113.8M60.3 113.8L60.4 113.7M58.5 111.0L58.9 111.2M74.3 50.8L76.3 47.4M69.2 43.2L72.9 43.0M69.2 43.2L69.3 44.3M69.3 44.3L73.0 49.9M73.0 49.9L74.3 50.8M146.8 162.0L149.6 162.3M149.6 162.3L153.1 159.1M152.9 153.3L153.1 159.1M151.4 152.7L152.9 153.3M146.8 162.0L151.4 152.7M119.6 44.2L124.1 40.4M122.8 27.0L124.1 40.4M115.9 27.4L122.8 27.0M114.6 44.1L115.9 27.4M114.6 44.1L115.6 44.8M115.6 44.8L116.3 44.7M116.3 44.7L119.6 44.2M49.0 69.3L50.4 71.9M48.3 68.8L49.0 69.3M47.0 69.1L48.3 68.8M72.6 136.7L73.2 136.8M72.2 136.9L72.6 136.7M71.9 138.5L72.2 136.9M73.2 143.1L74.1 142.1M74.1 142.1L75.2 139.9M73.2 136.8L73.5 136.8M43.7 126.6L45.1 128.2M45.1 128.2L45.8 125.0M45.7 124.6L45.8 125.0M43.7 126.6L45.7 124.6M118.9 82.2L119.8 82.8M119.8 82.8L121.3 82.8M121.3 82.8L121.4 82.7M122.6 81.0L122.7 78.5M119.5 78.1L122.1 77.6M118.6 79.3L119.5 78.1M156.6 152.8L157.9 151.1M156.6 152.8L160.7 159.6M173.0 159.3L173.8 157.9M157.9 151.1L173.8 157.9M64.5 151.0L64.6 150.1M64.5 151.0L66.3 152.6M66.3 152.6L68.2 152.2M68.2 152.2L68.9 151.1M68.5 149.7L68.9 151.1M67.4 148.7L68.5 149.7M65.9 148.5L67.4 148.7M64.6 150.1L65.9 148.5M88.2 147.6L88.6 147.2M87.9 149.1L88.2 147.6M87.9 149.1L88.4 149.6M88.4 149.6L89.5 148.9M89.3 147.0L89.5 148.9M88.6 147.2L89.3 147.0M22.5 112.7L27.0 113.1M22.5 112.7L22.5 113.0M22.5 113.0L22.7 118.1M25.1 119.1L27.0 113.1M123.4 124.1L124.7 125.9M127.4 125.9L129.1 122.8M127.0 121.2L129.1 122.8M125.5 121.3L127.0 121.2M124.8 121.8L125.5 121.3M107.3 31.4L109.6 31.2M105.2 31.8L107.3 31.4M103.3 36.2L105.2 31.8M103.3 36.2L109.2 42.6M109.2 42.6L109.6 31.2M135.4 60.5L138.8 64.4M132.6 61.8L135.4 60.5M134.3 67.0L137.4 67.6M137.4 67.6L138.8 64.4M65.6 95.3L66.4 93.9M65.8 91.8L66.4 93.9M63.9 91.8L65.8 91.8M83.6 49.2L85.5 51.1M85.5 51.1L87.1 50.7M86.3 45.2L87.1 50.7M82.7 47.4L86.3 45.2M82.7 47.4L83.6 49.2M140.9 108.9L143.9 105.1M138.1 108.5L138.2 106.1M138.1 108.5L140.9 108.9M110.9 195.6L117.3 196.6M117.3 196.6L118.5 196.3M118.7 183.9L120.0 188.4M113.8 179.2L118.7 183.9M110.9 195.6L113.8 179.2M63.5 76.1L64.9 72.9M61.0 70.5L64.9 72.9M61.0 70.5L63.0 75.5M63.0 75.5L63.5 76.1M128.5 212.8L128.8 214.1M128.8 214.1L132.9 211.4M130.4 206.1L132.9 211.4M128.5 212.8L130.4 206.1M108.9 68.5L110.3 68.3M109.0 66.6L110.8 66.4M108.9 68.5L109.0 66.6M71.6 111.1L71.7 111.1M69.9 111.7L71.6 111.1M69.7 113.7L69.9 111.7M69.7 113.7L70.0 116.1M70.0 116.1L72.4 115.5M72.4 115.5L73.8 114.2M73.8 114.2L74.1 113.3M71.7 111.1L74.1 113.3M81.0 58.0L82.6 59.1M77.6 59.8L78.5 58.8M77.6 59.8L80.7 63.2M80.7 63.2L81.0 63.2M81.0 63.2L81.5 62.8M81.5 62.8L82.6 59.1M41.9 89.6L43.1 93.3M41.1 89.1L41.9 89.6M39.4 89.7L41.1 89.1M37.4 93.8L39.4 89.7M37.4 93.8L42.4 94.8M42.4 94.8L43.1 93.3M92.7 76.0L93.4 74.4M94.3 79.4L96.1 79.4M96.1 79.4L96.6 79.0M96.6 79.0L96.7 76.9M95.2 74.2L96.7 76.9M95.0 73.9L95.2 74.2M73.8 81.6L75.3 83.3M70.9 86.0L73.8 81.6M71.1 86.9L74.5 87.4M74.5 87.4L75.6 86.1M75.3 83.3L75.6 86.1M94.3 116.4L95.5 114.1M95.5 114.1L95.7 113.4M93.9 111.6L95.7 113.4M91.5 113.2L93.9 111.6M94.3 162.6L96.1 164.0M96.1 164.0L100.0 163.1M100.0 163.1L101.3 159.2M100.1 157.8L101.3 159.2M97.1 159.3L100.1 157.8M94.3 162.5L97.1 159.3M94.3 162.5L94.3 162.6M155.1 126.3L160.0 128.7M160.0 123.5L161.0 127.7M159.5 122.2L160.0 123.5M155.1 121.9L159.5 122.2M154.7 124.7L155.1 126.3M145.3 91.1L147.4 91.4M142.5 93.7L142.6 94.1M142.6 94.1L144.7 94.9M144.7 94.9L148.2 93.1M147.5 91.4L148.2 93.1M147.4 91.4L147.5 91.4M47.6 152.9L52.4 157.8M52.4 157.8L56.6 153.0M55.1 151.3L56.6 153.0M116.4 128.6L119.1 129.6M116.3 128.6L116.4 128.6M115.2 131.2L116.3 128.6M115.2 131.2L115.4 131.5M115.4 131.5L119.6 130.6M119.5 130.3L119.6 130.6M119.1 129.6L119.5 130.3M109.5 63.9L110.5 65.2M108.6 64.5L109.5 63.9M108.6 64.5L108.7 65.6M108.7 65.6L110.5 65.2M60.7 102.8L61.9 102.7M59.7 99.5L61.9 102.7M109.1 81.8L110.8 81.4M109.0 81.9L109.1 81.8M109.0 81.9L111.1 84.1M110.8 81.4L111.4 83.8M45.0 129.5L45.1 128.2M45.0 129.5L45.3 130.0M45.8 125.0L47.6 127.4M59.7 130.4L66.3 130.8M59.7 130.4L60.6 131.3M60.6 131.3L63.0 133.0M63.0 133.0L64.7 131.9M64.7 131.9L66.3 130.8M85.9 96.9L87.1 96.8M84.7 98.1L85.9 96.9M84.7 98.1L85.2 99.6M85.2 99.6L87.8 100.9M87.8 100.9L88.6 99.7M88.6 97.5L88.6 99.7M88.4 97.3L88.6 97.5M87.1 96.8L88.4 97.3M231.6 175.7L232.1 174.0M233.1 183.6L236.3 180.4M236.3 180.4L245.0 170.8M232.1 174.0L245.0 170.8M30.7 123.0L32.7 121.0M30.7 123.0L30.7 123.9M35.4 126.6L37.7 126.6M37.2 121.8L38.3 124.3M107.7 110.4L108.1 106.6M107.7 110.4L111.3 110.8M111.3 110.8L111.6 109.3M108.1 106.6L110.4 106.0M160.3 43.5L163.0 34.3M149.9 35.5L161.9 34.1M148.2 36.6L149.9 35.5M147.6 37.8L148.2 36.6M147.2 38.5L147.6 37.8M157.3 45.9L158.1 45.8M84.5 124.7L84.9 125.3M82.1 127.2L84.5 124.7M82.1 127.2L83.0 129.3M84.5 128.9L84.8 128.6M84.8 128.6L85.1 126.7M87.5 143.3L89.5 143.8M89.5 143.8L89.6 142.0M89.3 141.4L89.6 142.0M88.3 140.7L89.3 141.4M86.9 141.6L88.3 140.7M86.9 141.6L87.5 143.3M69.7 97.1L70.3 97.5M68.2 97.7L69.7 97.1M67.1 100.9L68.2 97.7M67.1 100.9L70.5 102.0M70.5 102.0L70.6 102.0M70.6 102.0L72.0 100.1M70.3 97.5L72.0 100.1M122.1 60.1L127.2 60.1M121.8 60.4L122.1 60.1M121.8 60.4L122.1 65.5M122.1 65.5L122.7 66.2M122.7 66.2L125.6 64.9M125.6 64.9L127.2 60.1M116.4 74.9L119.5 78.1M115.9 74.9L116.4 74.9M114.9 77.3L115.9 74.9M114.9 77.3L115.1 79.1M115.1 79.1L115.2 79.2M115.2 79.2L116.2 79.6M167.6 102.7L176.8 103.6M172.8 94.6L176.8 103.6M171.1 94.4L172.8 94.6M166.0 97.7L171.1 94.4M102.7 138.6L103.8 140.1M103.8 140.1L105.3 139.0M105.3 139.0L105.6 138.5M104.1 137.8L105.6 138.5M102.9 138.2L104.1 137.8M102.7 138.6L102.9 138.2M126.2 142.7L126.5 142.6M126.5 142.6L126.7 142.2M126.7 139.8L126.7 142.2M124.9 138.2L126.7 139.8M124.2 139.1L124.9 138.2M82.4 104.7L86.4 105.1M86.4 105.1L86.5 105.1M86.5 105.0L86.5 105.1M84.6 101.5L86.5 105.0M82.9 102.1L84.6 101.5M82.5 102.9L82.9 102.1M82.4 104.7L82.5 102.9M100.6 200.9L108.0 195.4M96.6 208.4L100.6 200.9M96.0 211.5L96.6 208.4M96.0 211.5L101.4 213.7M101.4 213.7L110.4 215.0M110.4 215.0L114.5 215.3M114.5 215.3L117.3 196.6M108.0 195.4L110.9 195.6M143.6 85.8L147.3 87.1M141.5 86.8L143.0 85.9M147.3 87.1L147.4 91.4M45.9 93.8L49.9 88.9M45.9 93.8L47.7 95.1M47.7 95.1L50.4 94.0M50.4 94.0L51.4 92.0M49.9 88.9L51.4 92.0M130.9 141.7L132.6 142.5M129.3 143.9L130.9 141.7M129.3 143.9L130.1 145.2M130.1 145.2L131.5 146.3M131.5 146.3L132.3 146.5M132.3 146.5L132.6 142.5M87.3 88.8L88.7 86.0M87.2 89.3L87.3 88.8M87.2 89.3L87.3 89.5M87.3 89.5L89.7 90.4M89.7 90.4L90.8 87.8M88.7 86.0L90.8 87.8M121.0 123.7L121.9 123.6M120.0 125.9L120.8 124.0M120.0 125.9L120.0 126.8M120.0 126.8L120.9 127.3M120.9 127.3L121.3 127.5M120.0 87.5L120.6 89.2M119.1 87.3L120.0 87.5M116.4 89.2L117.3 88.4M116.4 89.2L118.2 91.8M118.2 91.8L119.5 91.7M119.5 91.7L120.6 89.2M150.3 75.1L154.3 69.9M146.4 70.8L154.3 69.9M145.3 72.1L146.4 70.8M145.3 72.1L149.2 75.2M89.8 102.4L90.7 103.6M94.2 102.7L94.2 103.0M93.1 100.2L94.2 102.7M92.8 99.9L92.9 100.0M89.8 102.4L92.8 99.9M134.7 38.2L136.8 39.7M136.8 39.7L145.3 41.4M134.9 32.9L147.6 37.8M134.7 38.2L134.9 32.9M81.6 66.7L81.7 66.0M81.6 66.7L83.7 68.8M83.7 68.8L86.1 65.7M81.7 66.0L86.2 65.4M82.6 59.1L83.2 59.0M81.5 62.8L86.7 64.6M87.4 64.2L87.5 63.9M87.5 63.9L88.0 62.2M86.1 59.5L87.9 60.9M83.2 59.0L86.1 59.5M122.6 67.0L128.3 69.2M121.7 69.5L122.6 67.0M121.7 69.5L121.9 70.9M121.9 70.9L121.9 71.0M121.9 71.0L129.7 70.8M42.7 104.5L43.1 103.9M42.7 104.5L42.7 110.3M42.7 110.3L43.4 110.9M43.4 110.9L44.7 105.9M43.6 103.9L44.7 105.9M43.1 103.9L43.6 103.9M121.3 158.6L122.5 162.8M119.2 158.9L121.3 158.6M119.1 160.5L119.2 158.9M119.1 160.5L121.8 163.1M94.3 135.7L95.5 137.5M93.6 136.6L94.3 135.7M93.4 137.5L93.6 136.6M93.4 137.5L94.1 137.8M94.1 137.8L95.5 137.5M110.3 72.3L110.7 68.6M110.3 72.3L110.6 72.4M111.9 72.0L113.3 69.3M112.8 68.6L113.3 69.3M41.3 125.8L42.4 124.4M38.2 121.3L42.4 124.4M116.3 44.7L120.5 53.9M113.8 52.7L115.6 44.8M120.4 53.9L120.5 53.9M124.3 90.5L125.4 89.4M124.3 90.5L125.0 93.3M125.0 93.3L126.3 93.5M126.3 93.5L127.2 92.2M126.9 90.4L127.2 92.2M125.5 89.3L126.9 90.4M125.4 89.4L125.5 89.3M126.9 85.5L127.6 85.1M127.6 85.1L127.9 84.0M127.9 84.0L128.0 81.8M128.0 81.7L128.0 81.8M124.3 81.9L128.0 81.7M124.2 84.1L126.9 85.5M88.2 50.7L90.2 48.8M88.2 50.7L90.5 54.2M90.5 54.2L91.1 54.5M91.1 54.5L95.0 51.2M95.0 51.2L96.0 47.1M95.7 46.5L96.0 47.1M90.2 48.8L95.7 46.5M136.3 42.4L136.8 39.7M128.3 41.0L134.7 38.2M128.3 41.0L131.9 48.8M131.9 48.8L136.3 42.4M96.1 53.8L98.9 55.2M92.7 57.7L96.1 53.8M92.7 57.7L98.0 57.9M98.0 57.9L98.2 57.7M98.2 57.7L99.8 55.9M98.9 55.2L99.8 55.9M43.1 93.3L45.9 93.8M42.1 95.7L42.4 94.8M42.1 95.8L44.5 98.6M44.5 98.6L47.8 99.0M47.7 95.1L47.8 99.0M127.1 112.5L128.2 112.2M128.2 112.2L129.5 109.1M126.9 106.4L129.5 109.1M124.8 107.2L126.9 106.4M124.8 107.2L124.8 112.0M124.8 112.0L124.8 112.2M124.8 112.2L127.1 112.5M41.4 144.1L42.8 134.7M41.4 144.1L45.0 142.5M44.3 134.5L45.0 142.5M42.8 134.7L44.3 134.5M141.3 123.5L142.5 123.7M139.6 124.4L141.3 123.5M139.5 124.5L139.6 124.4M137.5 126.7L139.5 124.5M137.5 126.7L139.7 131.2M139.7 131.2L141.7 132.3M141.7 132.3L143.6 129.9M143.1 124.7L143.6 129.9M142.5 123.7L143.1 124.7M128.5 100.1L132.4 101.4M132.4 101.4L134.0 98.2M133.9 97.0L134.0 98.2M132.6 95.7L133.9 97.0M130.4 96.5L132.6 95.7M128.5 99.2L130.4 96.5M87.1 81.3L89.7 78.7M87.1 81.3L87.2 82.3M87.2 82.3L90.6 83.3M90.6 83.3L91.4 83.1M91.4 83.1L91.5 82.7M91.5 82.7L91.9 80.4M59.9 69.1L61.0 70.5M58.8 68.6L59.9 69.1M57.1 69.0L58.8 68.6M56.6 72.8L63.0 75.5M114.8 73.5L115.8 70.4M115.3 69.1L115.8 70.4M113.3 69.3L115.3 69.1M134.7 73.9L138.6 69.3M137.4 67.6L138.6 69.3M129.9 70.8L130.2 73.6M88.3 75.4L89.2 73.9M88.2 76.6L88.3 75.4M88.2 76.6L89.3 77.7M90.5 74.2L91.5 76.4M89.2 73.9L90.5 74.2M111.1 134.2L113.0 134.3M111.0 134.5L111.1 134.2M110.7 137.0L111.0 134.5M110.7 137.0L112.7 138.7M97.7 167.0L101.4 167.3M97.7 167.0L98.8 174.8M98.8 174.8L101.6 173.0M101.4 167.3L101.6 173.0M108.6 54.5L111.5 54.9M104.5 55.2L107.0 60.9M107.0 60.9L110.1 60.4M110.1 60.4L111.5 54.9M121.8 52.8L122.9 48.5M119.6 44.2L122.9 48.5M120.5 53.9L121.7 52.9M121.7 52.9L121.8 52.8M141.9 98.7L144.3 104.3M144.5 104.5L146.5 104.8M146.5 104.8L147.0 104.8M147.0 104.8L147.7 98.5M144.2 98.0L147.7 98.5M142.2 98.2L144.2 98.0M84.6 131.6L86.0 133.0M82.6 131.3L82.7 134.0M82.7 134.0L83.6 135.4M83.6 135.4L84.7 135.3M37.8 107.5L42.7 110.3M37.8 107.5L42.7 104.5M88.6 97.5L92.5 98.6M92.5 98.6L92.9 96.9M90.5 95.4L92.9 96.9M88.4 97.3L90.5 95.4M67.8 133.6L68.0 132.4M66.6 130.8L68.0 132.4M66.3 130.8L66.6 130.8M63.7 133.8L64.7 131.9M120.5 167.2L124.6 173.9M124.6 173.9L125.6 174.0M124.8 166.2L126.9 170.9M153.7 106.7L154.8 113.6M154.8 113.6L155.4 114.4M146.4 70.8L149.9 65.6M154.3 69.9L154.6 69.7M153.3 66.1L154.6 69.7M153.2 66.0L153.3 66.1M141.7 132.3L142.4 133.8M142.4 133.8L148.2 132.5M147.6 129.4L148.4 131.9M143.6 129.9L147.6 129.4M110.6 89.9L114.4 88.0M113.9 87.2L114.4 88.0M110.6 89.9L112.6 87.1M58.8 68.6L60.9 65.7M52.6 62.3L57.9 57.2M52.6 62.3L56.3 68.3M128.5 148.5L131.5 146.3M126.9 146.9L130.1 145.2M126.9 146.9L128.5 148.5M61.0 80.3L64.0 80.6M58.1 82.5L61.0 80.3M57.0 84.7L58.1 82.5M57.0 84.7L57.1 85.4M57.1 85.4L59.3 87.4M59.3 87.4L63.1 85.8M132.9 102.6L134.4 103.4M131.0 104.6L132.9 102.6M131.0 104.6L132.1 108.0M132.1 108.0L134.0 106.8M134.0 106.8L134.4 103.4M90.5 153.5L90.7 153.3M90.1 151.8L90.7 153.3M88.4 149.9L90.1 151.8M84.6 152.9L88.4 149.9M84.6 152.9L85.0 153.7M85.0 153.7L90.5 153.5M122.9 48.5L127.5 52.0M127.5 52.0L132.0 49.2M131.9 48.8L132.0 49.2M124.1 40.4L128.3 41.0M100.8 86.8L101.0 86.8M101.0 86.8L102.2 85.2M102.2 83.1L102.2 85.2M100.6 83.1L102.2 83.1M99.9 84.2L100.6 83.1M99.9 84.2L100.1 85.6M100.1 85.6L100.7 86.7M114.5 27.1L115.9 27.4M109.6 31.2L114.5 27.1M109.2 42.6L114.6 44.1M50.5 120.0L51.2 122.4M51.2 122.4L54.0 123.5M54.0 123.5L55.4 122.5M55.4 122.5L55.5 122.3M55.1 121.3L55.5 122.3M53.0 118.8L55.1 121.3M50.5 120.0L53.0 118.8M136.5 77.4L138.1 78.5M141.9 74.8L142.7 71.9M142.0 71.2L142.7 71.9M141.4 70.9L142.0 71.2M135.9 76.0L141.4 70.9M137.4 100.6L137.6 99.7M134.0 98.2L137.6 99.7M132.4 101.4L132.9 102.6M134.4 103.4L134.9 103.4M120.0 87.5L121.2 87.0M120.6 89.2L122.9 91.3M122.9 91.3L124.3 90.5M121.2 87.0L125.4 89.4M79.0 53.4L80.0 50.7M80.3 54.1L84.5 52.8M84.5 52.8L85.5 51.1M80.0 50.7L83.6 49.2M32.4 88.9L33.5 89.5M23.8 99.4L29.3 102.3M29.3 102.3L32.1 102.1M35.4 95.8L35.4 96.0M33.5 89.5L35.4 95.8M63.5 103.9L63.9 105.0M63.9 105.0L66.2 107.3M68.2 106.4L68.4 105.5M66.0 102.0L68.4 105.5M65.9 102.0L66.0 102.0M63.5 103.6L65.9 102.0M63.5 103.6L63.5 103.9M138.4 132.1L139.7 131.2M136.1 126.8L137.5 126.7M135.3 127.3L136.1 126.8M98.4 71.8L101.5 73.2M98.4 71.8L98.6 74.1M98.6 74.1L99.2 75.1M99.2 75.1L100.2 75.2M100.7 74.7L101.5 73.2M80.3 122.3L81.4 119.7M80.3 122.3L83.5 121.7M81.5 119.7L81.9 119.8M81.4 119.7L81.5 119.7M55.7 179.4L57.4 184.4M43.1 177.6L55.7 179.4M43.1 177.6L44.3 181.0M44.3 181.0L51.4 180.3M51.4 180.3L54.0 183.6M54.0 183.6L54.3 185.2M54.3 185.2L57.4 184.4M108.8 78.1L108.9 77.5M108.1 73.7L108.9 77.5M105.1 76.2L108.1 73.7M105.1 76.2L105.9 77.7M105.9 77.7L108.3 78.3M108.3 78.3L108.8 78.1M103.6 80.2L105.9 77.7M103.6 80.2L104.4 82.0M104.4 82.0L105.9 83.2M105.9 83.2L106.5 82.7M106.5 82.7L108.3 78.3M145.8 190.2L151.6 187.1M143.4 205.6L145.8 190.2M143.4 205.6L145.1 204.7M145.1 204.7L147.7 202.4M147.7 202.4L154.1 207.6M158.9 195.1L159.5 192.1M151.6 187.1L159.5 192.1M89.7 90.4L90.1 91.4M90.5 91.8L93.9 92.2M93.9 92.2L94.8 90.9M90.8 87.8L91.4 87.5M121.8 86.0L126.6 86.1M121.2 87.0L121.8 86.0M125.5 89.3L126.6 86.1M68.3 111.0L69.9 111.7M71.1 109.5L71.6 111.1M69.1 107.7L71.1 109.5M69.1 107.6L69.1 107.7M92.8 152.9L94.9 155.1M90.7 153.3L92.8 152.9M90.3 156.7L90.5 153.5M90.3 156.7L92.6 158.9M92.6 158.9L94.9 155.1M142.7 71.9L145.3 72.1M142.0 71.2L146.1 61.6M122.4 106.5L124.8 107.2M119.9 109.3L122.4 106.5M119.9 109.3L124.8 112.0M38.0 81.9L39.3 84.4M30.8 77.0L31.4 76.9M27.5 80.3L30.8 77.0M31.9 87.4L39.3 84.4M96.9 85.3L100.1 85.6M96.9 85.3L98.9 87.5M73.2 143.4L76.8 145.0M73.0 143.7L73.2 143.4M72.2 145.9L73.0 143.7M72.2 145.9L72.9 147.9M72.9 147.9L73.4 148.5M73.4 148.5L76.3 149.7M76.3 149.7L76.8 145.0M129.9 90.4L133.8 90.4M130.0 88.3L134.3 87.4M129.7 90.3L130.0 88.3M129.7 90.3L129.9 90.4M117.0 165.8L119.3 165.7M116.7 167.2L117.0 165.8M116.7 167.2L118.5 172.9M118.5 172.9L119.9 173.7M123.8 174.1L124.6 173.9M54.9 81.3L54.9 84.4M52.8 79.9L54.9 81.3M52.0 82.2L52.8 79.9M52.0 82.2L53.0 84.5M53.0 84.5L54.9 84.4M153.7 95.1L156.7 92.4M154.5 88.0L156.7 92.4M153.3 88.8L153.5 95.1M153.5 95.1L153.7 95.1M191.1 136.2L192.6 136.2M192.6 136.2L199.0 121.6M198.9 121.3L199.0 121.6M183.1 124.2L198.9 121.3M180.8 129.9L183.1 124.2M180.8 129.9L181.3 131.8M181.3 131.8L191.1 136.2M109.5 120.6L111.0 118.4M110.7 116.7L111.0 118.4M110.0 116.1L110.7 116.7M109.7 116.1L110.0 116.1M108.5 119.6L109.7 116.1M108.5 119.6L109.2 120.6M109.2 120.6L109.5 120.6M164.5 119.0L164.8 121.6M163.2 118.4L164.5 119.0M159.5 122.2L163.2 118.4M160.0 123.5L164.8 123.3M164.8 121.6L164.8 123.3M58.1 169.8L59.1 168.6M57.9 170.8L61.7 175.2M61.7 175.2L66.2 176.7M64.3 165.8L66.2 176.7M59.1 168.6L64.3 165.8M146.1 83.3L147.4 87.0M147.4 87.0L148.5 86.2M148.5 86.2L150.0 84.6M106.1 110.6L107.5 110.7M104.7 111.7L106.1 110.6M104.6 111.8L104.7 111.7M104.6 111.8L105.6 114.0M105.6 114.0L107.3 114.6M107.3 114.6L107.8 113.0M107.5 110.7L107.8 113.0M123.9 131.1L125.1 131.4M122.8 134.1L123.9 131.1M122.8 134.1L124.7 135.2M124.7 135.2L125.2 134.8M125.1 131.4L125.7 133.5M76.0 103.3L76.2 102.9M76.0 103.3L77.9 106.5M77.9 106.5L79.0 106.5M79.0 106.5L80.3 106.1M80.3 106.1L80.7 105.8M78.8 103.1L80.7 105.8M76.2 102.9L78.8 103.1M54.9 81.3L58.1 82.5M54.9 84.4L57.0 84.7M94.7 134.5L95.1 133.6M94.7 134.5L94.7 134.6M94.7 134.6L95.6 135.4M95.6 135.4L98.2 135.1M98.0 133.8L98.2 135.1M95.1 133.6L98.0 133.8M121.3 158.6L122.6 156.9M118.2 157.8L119.8 154.4M118.2 157.8L119.2 158.9M100.5 114.9L100.5 115.9M100.5 115.9L102.0 116.6M102.0 116.6L102.8 116.7M102.8 116.7L104.3 114.6M102.7 113.3L104.3 114.6M102.2 113.3L102.7 113.3M100.5 114.9L102.2 113.3M120.0 118.0L120.0 118.3M120.0 118.3L122.3 119.2M121.6 116.0L123.7 117.7M92.6 123.9L95.5 120.8M95.5 120.8L96.0 118.7M94.6 117.9L96.0 118.7M91.7 121.8L93.3 118.8M91.5 123.6L91.7 121.8M91.5 123.6L92.6 123.9M114.7 122.5L114.8 122.6M118.3 122.0L119.8 119.1M119.8 119.1L120.0 118.3M117.1 117.0L119.1 117.5M115.3 119.3L117.1 117.0M114.7 122.5L115.3 119.3M136.3 42.4L138.0 51.8M132.0 49.2L138.0 51.8M125.5 151.1L127.4 151.9M127.4 151.9L128.5 148.5M126.7 146.9L126.9 146.9M125.5 151.1L126.7 146.9M161.3 192.3L167.2 197.0M167.2 197.0L190.0 196.1M168.5 186.2L190.0 196.1M161.3 192.3L168.5 186.2M159.6 101.4L160.1 100.8M160.1 96.6L160.1 100.8M157.8 96.6L159.4 96.5M70.4 155.9L73.5 152.5M72.5 151.7L73.5 152.5M69.9 151.0L72.5 151.7M68.9 151.1L69.9 151.0M68.2 152.2L69.7 155.6M100.9 129.6L101.0 129.8M101.0 129.8L101.5 130.3M101.5 130.3L102.3 130.4M102.2 129.0L102.3 130.4M100.9 129.6L102.2 129.0M108.4 134.5L111.0 134.5M110.6 132.2L111.1 134.2M108.1 134.1L110.6 132.2M172.7 125.7L174.6 124.8M174.6 124.8L177.5 121.4M169.3 117.0L177.5 121.4M168.4 118.1L169.3 117.0M168.4 118.1L171.9 124.6M171.9 124.6L172.7 125.7M87.4 117.3L87.8 118.9M86.4 117.1L87.4 117.3M85.9 117.6L86.4 117.1M85.9 117.6L86.9 119.8M86.9 119.8L87.8 118.9M127.6 85.1L128.7 85.8M128.7 85.8L133.5 86.0M131.5 83.8L133.5 86.0M127.9 84.0L131.5 83.8M147.3 87.1L147.4 87.0M121.0 103.8L122.4 106.5M126.9 106.4L127.3 105.5M126.8 101.6L127.3 105.5M122.1 101.6L123.8 100.9M121.0 103.8L122.1 101.6M84.2 112.9L84.8 112.9M83.8 109.0L85.0 111.0M83.6 109.0L83.8 109.0M82.4 111.3L83.6 109.0M82.4 111.3L84.2 112.9M124.9 119.6L125.5 121.3M32.5 115.0L35.8 113.1M32.5 115.0L32.9 119.2M35.8 113.1L41.4 115.3M119.7 109.5L119.9 109.3M118.0 111.5L119.7 109.5M118.0 111.5L119.0 112.3M122.2 114.2L123.7 113.6M123.7 113.6L124.8 112.2M126.5 142.6L129.3 143.9M124.8 145.1L126.7 146.9M146.3 145.7L150.0 148.2M150.0 148.2L155.4 144.0M153.9 141.8L155.4 144.0M146.7 143.9L153.9 141.8M146.5 144.2L146.7 143.9M146.3 145.7L146.5 144.2M77.9 110.0L79.7 109.0M77.9 110.0L79.0 112.1M79.0 112.1L80.0 112.0M80.0 112.0L81.2 111.2M81.0 109.8L81.2 111.2M79.9 109.1L81.0 109.8M79.7 109.0L79.9 109.1M82.9 116.6L83.7 116.9M83.7 116.9L85.8 114.9M85.8 114.9L86.3 113.7M82.6 114.2L84.2 112.9M82.6 114.2L82.9 116.6M28.8 112.0L29.3 102.3M28.8 112.0L32.5 115.0M35.8 113.1L37.0 107.3M32.9 102.4L37.0 107.3M132.9 161.6L132.9 164.0M144.1 168.1L144.9 162.3M143.8 161.3L144.9 162.3M137.1 157.5L143.8 161.3M135.8 157.3L137.1 157.5M115.2 101.4L116.1 100.2M115.2 101.4L115.4 104.6M115.4 104.6L117.4 104.7M117.4 104.7L118.7 104.1M118.7 104.1L118.9 103.9M116.1 100.2L118.9 103.9M117.7 96.1L118.9 94.8M117.7 93.5L118.9 94.8M117.2 93.7L117.7 93.5M116.8 94.5L117.2 93.7M116.4 96.5L116.8 94.5M116.4 96.5L117.7 96.1M100.1 157.8L100.2 156.3M96.0 155.0L100.2 156.3M95.5 155.2L96.0 155.0M95.5 155.2L97.1 159.3M53.4 139.3L55.0 142.4M55.0 142.4L56.5 141.1M56.5 141.1L58.8 137.7M58.5 135.8L58.8 137.7M58.1 135.2L58.5 135.8M56.3 135.9L58.1 135.2M117.3 157.9L118.2 157.8M116.3 161.5L117.3 157.9M116.3 161.5L119.1 160.5M99.8 129.0L100.9 129.6M99.1 129.8L99.3 130.6M99.3 130.6L100.7 130.8M100.7 130.8L101.0 129.8M86.4 33.0L95.1 38.1M95.1 38.1L96.0 38.4M96.0 38.4L97.1 36.4M97.0 34.0L97.1 36.4M87.0 27.8L96.9 33.4M86.4 33.0L87.0 27.8M68.4 69.0L68.8 66.0M59.9 69.1L68.4 69.0M83.8 109.0L86.2 108.5M140.0 145.7L144.0 146.7M135.5 148.5L137.6 146.1M135.0 155.8L135.5 148.5M137.1 157.5L143.6 152.1M143.6 152.1L144.0 146.7M116.4 128.6L117.0 127.1M116.7 125.7L117.0 127.1M114.7 124.7L115.1 123.6M114.4 127.6L114.7 124.7M114.4 127.6L116.3 128.6M172.0 169.8L207.3 165.5M207.3 165.5L207.7 163.5M207.7 163.5L207.8 161.9M199.5 156.0L207.8 161.9M175.6 155.4L199.5 156.0M173.8 157.9L175.6 155.4M63.5 76.1L64.4 80.1M66.1 79.6L66.7 71.5M64.9 72.9L66.7 71.5M96.1 90.6L98.9 91.7M96.1 90.6L98.4 88.8M99.5 100.1L100.7 102.7M98.7 99.7L99.5 100.1M97.5 101.8L98.0 100.7M97.5 101.8L98.0 103.0M98.0 103.0L100.5 104.0M100.5 104.0L100.7 102.7M116.1 62.4L117.0 60.2M116.7 59.0L117.0 60.2M111.5 54.9L113.0 54.0M110.1 60.4L110.6 61.0M110.6 61.0L116.1 62.4M147.3 122.5L150.1 119.0M147.3 122.5L147.8 122.9M147.8 122.9L149.9 123.3M80.5 77.7L80.8 78.0M78.5 79.1L81.0 81.5M55.4 75.7L61.0 80.3M93.2 132.0L94.2 132.2M93.8 129.1L94.2 132.2M93.2 132.0L93.4 128.8M158.2 83.0L159.2 81.7M100.4 127.4L102.3 129.0M99.7 128.6L100.4 127.4M102.2 129.0L102.3 129.0M141.9 140.3L142.8 140.5M144.0 146.7L146.3 145.7M142.8 140.5L146.5 144.2M113.6 81.5L115.2 79.2M113.6 81.5L114.0 83.3M114.5 83.7L115.4 83.6M116.0 83.4L116.1 83.3M52.5 134.5L55.3 135.9M52.5 134.5L53.3 137.0M76.1 196.6L79.8 195.1M79.8 195.1L81.0 193.8M81.0 193.8L84.1 185.4M80.8 182.3L84.1 185.4M94.9 155.1L95.5 155.2M92.6 158.9L93.4 161.7M93.4 161.7L94.3 162.5M48.3 68.8L52.3 62.3M50.7 61.7L52.3 62.3M44.1 62.5L45.5 68.7M73.8 164.2L77.5 160.4M75.7 158.4L77.5 160.4M74.6 158.5L75.7 158.4M72.6 162.5L74.6 158.5M108.3 126.9L108.6 127.9M105.5 125.0L108.3 126.9M105.2 126.7L105.5 125.0M105.2 126.7L108.6 127.9M117.0 145.9L117.3 146.5M117.3 146.5L120.2 145.0M119.6 139.7L120.9 141.1M118.8 139.9L119.6 139.7M117.0 145.9L117.5 140.3M165.6 71.9L166.7 73.0M165.0 68.5L165.6 71.9M163.8 67.9L165.0 68.5M156.1 70.9L163.8 67.9M156.1 70.9L157.9 74.3M157.9 74.3L160.0 74.7M160.0 74.7L166.7 73.0M84.8 35.5L86.4 33.0M86.7 26.4L87.0 27.8M77.7 31.3L79.6 29.5M78.8 33.9L84.8 35.5M97.1 36.4L103.3 36.2M96.0 38.4L96.4 42.8M96.4 42.8L108.1 43.2M108.1 43.2L109.2 42.6M88.5 118.9L89.6 120.3M89.6 120.3L90.8 118.4M249.8 140.6L257.3 158.1M257.3 158.1L265.8 149.6M265.8 149.6L272.1 143.3M265.3 134.2L272.1 143.3M43.4 110.9L43.9 111.6M43.9 111.6L48.0 106.3M44.7 105.9L48.0 106.2M70.7 159.8L71.4 161.9M67.3 160.5L67.4 160.4M83.7 177.5L85.7 174.0M83.7 177.5L89.1 178.9M89.1 178.9L90.0 176.0M126.0 95.0L126.5 97.1M126.8 97.2L128.3 94.9M126.5 94.4L128.3 94.9M126.0 95.0L126.5 94.4M26.3 132.4L30.1 126.6M26.3 132.4L32.8 137.1M34.0 137.5L38.2 133.7M38.1 132.8L38.2 133.7M36.7 131.4L38.1 132.8M133.5 86.0L134.2 86.2M133.6 81.5L135.8 82.9M133.2 81.5L133.6 81.5M131.7 82.1L133.2 81.5M131.5 83.8L131.7 82.1M96.0 136.0L96.1 137.4M95.6 135.4L96.0 136.0M94.3 135.7L94.7 134.6M95.5 137.5L96.0 137.6M96.0 137.6L96.1 137.4M137.5 94.0L137.5 95.3M137.5 95.3L138.0 95.8M139.7 96.2L140.6 93.5M137.5 94.0L140.6 93.5M101.5 73.1L101.5 73.2M101.5 73.1L101.7 71.2M96.9 69.9L101.7 71.2M96.9 69.9L98.4 71.8M68.4 89.7L68.4 89.8M68.4 89.8L69.2 93.1M69.2 93.1L70.5 94.6M70.5 94.6L74.5 92.8M73.3 90.3L74.5 92.8M69.8 89.4L73.3 90.3M76.6 138.7L77.3 141.2M77.3 141.2L79.3 141.0M79.2 140.6L79.3 141.0M78.3 138.3L79.2 140.6M77.3 138.0L78.3 138.3M140.1 102.2L140.9 103.4M140.1 102.2L140.5 99.6M64.7 138.8L66.8 135.6M66.2 140.4L68.9 138.9M68.4 135.3L68.9 138.9M67.8 134.7L68.4 135.3M147.2 22.0L149.9 35.5M138.4 28.7L147.2 22.0M138.4 28.7L148.2 36.6M45.7 84.4L47.5 84.9M45.3 81.3L47.5 84.9M98.7 96.8L98.9 97.1M94.5 95.1L98.7 96.8M94.2 95.6L94.5 95.1M94.2 95.6L95.6 97.4M95.6 97.4L98.2 98.8M98.4 98.8L98.9 97.1M143.8 161.3L148.0 153.1M143.6 152.1L148.0 153.1M63.1 90.7L67.0 89.1M62.8 90.5L63.4 86.4M101.7 16.1L107.0 19.4M99.6 28.0L101.7 16.1M101.3 27.8L103.7 25.0M103.7 25.0L107.0 19.4M89.7 144.1L91.6 144.6M89.3 144.6L89.7 144.1M89.3 144.6L89.4 147.0M89.4 147.0L90.7 147.3M90.7 147.3L90.9 147.2M90.9 147.2L91.6 144.6M148.2 124.4L148.2 128.0M148.2 128.0L149.7 127.6M149.7 127.6L150.6 125.5M148.2 124.4L150.6 125.5M55.5 112.2L56.4 116.5M56.4 116.5L57.8 116.5M57.8 116.5L58.8 115.6M58.8 115.6L60.3 113.8M105.3 103.9L105.6 104.3M105.6 104.3L107.9 101.6M104.8 100.9L107.9 101.6M104.4 100.9L104.8 100.9M104.3 101.0L104.4 100.9M104.3 101.0L105.3 103.9M39.3 84.4L40.3 85.4M33.5 89.5L39.4 89.7M40.6 86.4L41.1 89.1M77.8 155.8L78.5 155.8M75.8 158.0L77.8 155.8M75.7 158.4L75.8 158.0M77.5 160.4L78.2 160.7M78.2 160.7L79.1 159.3M79.1 159.3L79.3 156.1M78.5 155.8L79.3 156.1M114.2 155.3L116.5 157.6M116.5 157.6L117.3 157.9M116.4 151.1L119.2 152.2M115.7 151.9L116.4 151.1M114.2 155.3L115.7 151.9M111.0 118.4L113.6 121.7M112.4 116.8L113.6 121.7M110.7 116.7L112.4 116.8M137.8 134.1L139.5 138.0M139.9 137.9L142.4 134.8M142.4 133.8L142.4 134.8M147.8 122.9L148.2 124.4M150.6 125.5L151.2 125.0M54.7 88.1L57.1 85.4M54.7 88.1L57.7 92.4M58.2 91.8L59.3 87.4M74.2 26.2L75.5 25.5M73.9 29.9L74.2 26.2M73.9 29.9L74.5 30.9M79.2 153.1L79.4 154.7M77.7 152.6L79.2 153.1M77.6 153.3L77.7 152.6M77.6 153.3L77.8 155.8M78.5 155.8L79.4 154.7M103.7 25.0L107.3 31.4M104.4 31.4L105.2 31.8M57.1 130.1L58.1 135.2M58.5 135.8L62.2 135.0M60.6 131.3L62.2 135.0M58.0 129.6L59.7 130.4M57.5 129.8L58.0 129.6M57.1 130.1L57.5 129.8M80.1 122.5L80.3 122.3M80.1 122.5L80.5 123.7M80.5 123.7L80.6 123.8M80.6 123.8L84.3 124.2M83.9 121.9L84.3 124.2M55.7 179.4L61.7 175.2M57.4 184.4L61.8 187.1M66.2 176.7L67.3 177.3M83.0 86.7L85.4 84.7M83.0 86.7L87.2 89.3M86.4 85.1L87.3 88.8M85.6 84.6L86.4 85.1M85.4 84.7L85.6 84.6M67.7 49.1L69.3 44.3M68.0 49.5L69.8 49.7M69.8 49.7L73.0 49.9M130.7 137.0L131.0 139.1M131.0 139.1L134.7 141.3M134.7 141.3L136.4 141.4M130.9 136.5L132.8 136.0M130.7 137.0L130.9 136.5M119.7 98.7L122.1 101.6M116.2 99.5L119.7 98.7M116.1 100.2L116.2 99.5M118.9 103.9L121.0 103.8M78.3 138.3L80.4 136.8M79.2 140.6L82.2 138.0M80.4 136.8L82.1 137.0M148.7 115.5L148.9 115.7M144.8 122.4L145.5 115.9M144.8 122.4L147.3 122.5M47.3 142.3L50.6 145.4M53.5 144.6L54.9 143.1M48.2 139.3L54.9 143.1M47.3 142.3L48.2 139.3M115.3 69.1L116.3 68.0M113.6 65.9L116.3 68.0M112.8 68.3L113.6 65.9M190.0 196.1L191.5 196.3M191.5 196.3L197.8 191.5M197.8 191.5L200.5 190.8M172.2 173.5L200.5 190.8M168.5 186.2L172.2 173.5M132.9 211.4L137.4 208.6M137.4 208.6L143.1 205.7M130.6 202.9L143.1 205.7M130.4 206.1L130.6 202.9M119.5 91.7L121.9 92.7M121.9 92.7L122.9 91.3M101.5 146.4L101.8 146.3M101.0 149.7L101.5 146.4M101.0 149.7L103.2 149.8M103.2 149.8L104.4 149.1M101.8 146.3L104.4 149.1M137.7 187.8L145.8 190.2M151.6 187.1L152.7 181.2M108.7 150.1L109.6 152.6M109.6 152.6L115.7 151.9M116.1 150.3L116.4 151.1M111.4 148.6L116.1 150.3M108.7 150.1L110.1 148.7M100.7 130.8L100.9 131.9M100.9 131.9L101.8 131.2M101.5 130.3L101.8 131.2M52.7 102.4L57.1 98.7M53.9 104.0L57.0 105.0M57.0 105.0L59.1 103.2M57.1 98.7L59.4 99.3M126.7 139.8L128.8 137.7M126.7 142.2L130.9 139.2M130.9 139.2L131.0 139.1M128.8 137.7L130.7 137.0M59.3 158.9L60.6 157.7M58.8 161.5L59.3 158.9M60.6 157.7L61.2 161.0M43.7 100.0L44.8 102.2M44.8 102.2L48.3 99.5M47.8 99.0L48.3 99.5M43.7 100.0L44.5 98.6M90.1 123.5L91.1 123.8M91.1 123.8L91.5 123.6M89.6 120.3L91.7 121.8M88.5 121.0L89.6 120.3M88.5 121.0L88.5 121.2M140.7 115.5L142.8 114.7M140.3 119.1L140.7 115.5M140.3 119.1L141.3 123.5M142.5 123.7L144.8 122.4M57.8 92.8L58.1 93.0M58.1 93.0L63.0 95.0M115.7 108.9L116.4 107.3M114.3 105.2L116.4 107.3M114.2 105.2L114.3 105.2M2.5 130.7L19.4 130.1M1.4 131.8L2.5 130.7M1.4 131.8L1.9 134.7M1.9 134.7L6.8 136.2M6.8 136.2L10.6 135.7M10.6 135.7L14.5 137.6M14.5 137.6L19.3 140.5M19.3 140.5L21.6 144.3M21.8 144.2L24.8 132.6M19.4 130.1L24.8 132.6M54.7 159.4L59.9 154.4M54.7 159.4L55.6 160.1M55.6 160.1L59.3 158.9M60.6 157.7L61.3 155.9M59.9 154.4L61.3 155.9M39.4 146.2L41.4 144.1M41.9 151.1L42.1 151.3M42.1 151.3L45.6 152.3M45.6 152.3L46.0 152.2M45.0 142.5L47.3 142.3M37.0 107.3L37.8 107.5M42.3 115.5L44.0 112.1M43.9 111.6L44.0 112.1M120.9 216.2L123.8 207.7M120.9 216.2L124.6 217.6M124.6 217.6L128.4 214.3M128.4 214.3L128.8 214.1M123.8 207.7L128.5 212.8M166.9 55.7L171.4 57.3M171.4 57.3L172.0 56.6M172.0 56.6L177.1 49.5M177.1 49.5L179.4 45.6M177.1 43.1L179.4 45.6M173.9 41.8L177.1 43.1M172.8 40.4L173.9 41.8M165.7 49.9L172.8 40.4M66.4 93.9L69.2 93.1M65.8 91.8L68.4 89.8M83.2 59.0L84.8 53.9M86.1 59.5L86.7 56.1M84.8 53.9L86.7 56.1M86.5 123.6L86.9 123.4M86.5 123.6L88.4 126.0M88.4 126.0L89.4 126.0M89.4 126.0L90.8 124.7M90.8 124.7L91.1 123.8M72.5 131.7L73.7 132.7M73.7 132.7L75.0 132.3M75.0 132.3L76.1 130.6M75.2 129.2L76.1 130.6M73.1 130.2L75.2 129.2M72.5 131.7L73.1 130.2M150.4 107.0L153.0 106.3M149.8 108.7L150.4 107.0M149.8 112.2L154.8 113.6M169.4 36.0L172.8 40.4M166.3 32.8L169.4 36.0M84.8 39.8L95.1 38.1M84.8 39.8L87.2 42.6M87.2 42.6L96.0 43.5M96.0 43.5L96.4 42.8M118.5 107.6L118.7 104.1M118.5 107.6L119.7 109.5M38.1 132.8L39.0 129.8M127.4 151.9L129.2 153.6M132.3 146.5L135.5 148.5M148.5 86.2L150.9 89.2M150.9 89.2L152.4 88.6M170.5 82.5L173.5 84.4M173.5 84.4L181.6 81.6M174.6 77.9L181.6 81.6M59.1 168.6L59.9 163.8M64.3 165.7L64.3 165.8M62.5 163.5L64.3 165.7M166.7 73.0L166.9 73.2M160.0 74.7L160.0 76.8M147.0 104.8L150.4 107.0M148.5 97.8L153.9 102.9M147.7 98.5L148.5 97.8M38.2 133.7L42.8 134.7M106.5 46.3L108.1 43.2M95.7 46.5L96.0 43.5M96.0 47.1L96.6 47.5M96.6 47.5L99.7 49.3M99.7 49.3L102.9 49.1M102.9 49.1L106.5 46.3M100.9 107.9L101.1 108.6M101.1 108.6L103.2 109.5M103.2 109.5L104.2 109.2M104.2 109.2L105.0 108.6M105.0 108.6L105.5 106.4M104.9 106.4L105.5 106.4M100.9 107.9L104.9 106.4M163.0 118.1L163.2 118.4M160.5 117.1L163.0 118.1M136.2 119.4L140.3 119.1M136.2 119.4L139.6 124.4M52.3 125.1L54.5 125.1M54.0 123.5L54.5 125.1M51.2 122.4L51.2 123.5M51.2 123.5L52.3 125.1M48.7 83.3L52.0 82.2M47.6 85.0L48.7 83.3M47.6 85.0L48.0 87.4M48.0 87.4L49.8 88.5M49.8 88.5L51.9 87.4M51.9 87.4L53.0 84.5M47.6 51.4L48.6 49.6M46.1 54.3L47.6 51.4M48.6 49.6L50.2 53.1M55.5 122.3L57.8 122.9M55.4 122.5L55.9 126.1M55.9 126.1L56.6 126.9M56.6 126.9L57.8 122.9M129.0 58.5L129.1 58.3M129.0 58.5L130.5 60.4M135.4 60.5L137.5 56.9M129.1 58.3L137.3 54.6M120.3 95.3L120.4 97.3M120.4 97.3L123.9 97.3M123.6 94.9L123.9 97.3M122.0 93.9L123.6 94.9M120.3 95.3L122.0 93.9M51.9 87.4L54.7 88.1M161.4 65.5L163.8 67.9M164.9 68.0L165.0 68.5M164.9 68.0L165.6 63.0M165.6 63.0L166.8 62.3M166.8 62.3L171.4 57.3M159.2 62.2L159.3 61.2M159.2 62.2L161.4 65.5M71.7 111.1L74.3 107.9M74.2 107.0L74.3 107.9M73.7 106.3L74.2 107.0M71.9 107.4L73.7 106.3M71.1 109.5L71.9 107.4M137.9 92.4L140.4 90.9M137.3 93.4L137.5 94.0M140.6 93.5L141.2 93.0M138.0 51.8L138.5 52.2M145.7 50.6L146.1 49.2M58.8 137.7L62.7 139.1M62.6 135.0L63.1 138.9M62.2 135.0L62.6 135.0M46.9 134.2L48.4 137.4M44.3 134.5L45.9 134.0M48.2 139.3L48.4 137.4M70.0 57.6L74.5 53.2M74.3 50.8L74.5 53.2M69.5 57.7L69.8 49.7M161.3 137.9L164.0 135.7M164.0 135.7L164.2 135.3M157.5 131.9L160.0 129.7M155.3 135.5L157.5 131.9M155.3 135.5L161.3 137.9M49.0 69.3L54.8 68.9M115.7 98.9L116.2 99.5M119.7 98.7L119.9 98.2M117.7 96.1L119.9 98.2M115.3 97.8L116.4 96.5M102.1 172.9L105.8 168.3M101.4 167.3L103.3 165.7M101.6 173.0L102.1 172.9M98.6 79.1L100.4 80.2M100.4 80.2L102.7 79.7M102.4 78.1L102.7 79.7M100.3 77.2L102.4 78.1M98.6 79.1L100.3 77.2M49.5 125.6L49.7 127.4M45.7 123.8L49.5 125.6M45.7 123.8L45.7 124.6M53.0 118.8L53.4 118.2M52.4 115.4L53.4 118.2M52.2 115.1L52.4 115.4M48.9 114.6L52.2 115.1M48.9 114.6L49.5 119.8M49.5 119.8L50.5 120.0M68.9 138.9L69.3 139.2M68.4 135.3L72.2 136.9M52.5 77.2L52.8 79.9M47.2 76.8L48.7 83.3M27.1 121.6L30.7 123.0M21.3 126.2L27.1 121.6M19.4 130.1L21.3 126.2M24.8 132.6L26.3 132.4M103.1 91.9L106.5 94.2M106.5 94.2L107.4 93.1M106.9 90.9L107.5 92.5M103.1 91.1L106.9 90.9M130.4 122.3L131.6 125.7M129.1 122.8L130.4 122.3M95.0 51.2L96.1 53.8M91.1 54.5L92.7 57.7M74.8 198.3L75.7 198.9M75.7 198.9L82.1 203.4M82.1 203.4L88.6 207.3M88.6 207.3L93.7 210.5M93.7 210.5L96.0 211.5M79.8 195.1L96.6 208.4M124.7 135.2L124.7 136.5M124.7 136.5L124.8 136.7M124.8 136.7L128.8 137.7M129.9 135.0L130.9 136.5M89.6 142.0L91.4 141.4M91.1 139.4L91.4 141.4M89.3 141.4L91.1 139.4M153.7 95.1L154.7 96.2M149.9 95.3L153.5 95.1M148.5 97.8L149.9 95.3M177.0 103.8L192.8 95.6M192.5 95.0L192.8 95.6M188.7 91.8L192.5 95.0M185.9 87.8L188.7 91.8M173.1 94.3L185.9 87.8M172.8 94.6L173.1 94.3M176.8 103.6L177.0 103.8M84.4 93.6L85.2 94.3M83.9 93.4L84.4 93.6M83.4 94.0L83.9 93.4M82.3 97.9L83.4 94.0M82.3 97.9L84.7 98.1M85.2 94.3L85.9 96.9M123.6 94.9L123.7 94.9M123.9 97.3L124.1 97.4M123.7 94.9L126.0 95.0M163.0 118.1L163.8 111.3M163.3 110.7L163.8 111.3M133.9 97.0L137.5 95.3M137.6 99.7L137.7 99.7M130.5 79.1L133.2 81.5M133.3 78.1L133.6 81.5M70.5 73.3L70.9 76.8M77.7 74.3L78.1 72.0M78.0 72.0L78.1 72.0M70.5 73.3L78.0 72.0M79.9 133.6L82.7 134.0M80.3 130.8L82.2 130.8M80.1 131.2L80.3 130.8M79.9 133.6L80.1 131.2M106.3 121.2L106.4 121.0M106.4 121.0L106.8 119.2M106.1 119.0L106.8 119.2M105.1 119.6L106.1 119.0M155.3 77.1L157.9 74.3M155.3 77.1L158.3 79.4M98.6 175.0L98.8 174.8M98.6 175.0L107.2 181.2M107.2 181.2L110.4 177.4M110.2 174.9L110.4 177.4M102.1 172.9L110.2 174.9M128.4 94.9L130.4 96.5M128.3 94.9L128.4 94.9M57.0 105.0L58.9 106.9M58.9 106.9L59.4 107.1M59.4 107.1L63.5 103.9M62.2 102.8L63.5 103.6M61.9 102.7L62.2 102.8M95.4 99.1L95.6 97.4M92.9 96.9L94.2 95.6M92.5 98.6L92.7 99.8M92.7 99.8L92.8 99.9M44.0 168.0L45.4 164.4M52.6 164.9L53.2 158.9M52.7 158.5L53.2 158.9M45.4 164.4L52.7 158.5M106.2 99.1L107.8 98.9M107.8 98.9L108.1 97.2M106.5 94.9L107.9 96.4M105.2 96.2L106.5 94.9M104.5 97.9L105.2 96.2M104.5 97.9L106.2 99.1M123.0 150.2L123.0 150.6M123.7 150.9L125.5 151.1M86.5 105.0L88.4 102.4M86.5 105.1L87.2 106.2M90.6 106.2L91.0 105.1M88.4 102.4L89.8 102.4M110.2 174.9L111.0 173.0M109.4 168.6L111.0 173.0M82.0 89.5L82.6 86.9M82.0 86.4L82.6 86.9M77.0 87.2L82.0 86.4M77.0 87.2L78.2 89.8M65.5 112.3L66.7 111.3M65.5 112.3L65.7 113.1M65.7 113.1L69.7 113.7M162.0 207.6L164.4 207.6M164.4 207.6L166.9 206.1M166.9 206.1L167.2 197.0M159.5 192.1L161.3 192.3M55.3 149.5L58.7 148.6M58.7 148.6L60.4 145.7M54.9 143.1L60.4 145.7M138.0 114.5L140.7 115.5M133.9 118.5L135.2 115.7M133.9 118.5L136.2 119.4M128.2 112.2L129.1 112.9M129.1 112.9L132.6 113.1M131.6 109.0L133.0 110.7M129.5 109.1L131.6 109.0M98.4 82.0L100.1 81.8M98.4 82.0L98.8 82.7M98.8 82.7L100.1 81.8M70.6 102.0L72.3 103.2M72.3 103.2L74.3 100.6M72.0 100.1L74.3 100.6M54.3 185.2L55.1 189.3M55.1 189.3L57.7 197.0M57.7 197.0L58.9 196.9M80.0 83.0L82.0 86.4M75.3 83.3L80.0 83.0M75.6 86.1L77.0 87.2M96.8 166.0L97.7 167.0M100.0 163.1L103.3 164.7M96.1 164.0L96.8 166.0M124.0 162.7L126.2 161.4M123.9 156.9L124.0 157.0M75.3 134.6L76.7 135.1M73.2 136.8L75.3 134.6M76.5 136.8L76.7 135.1M123.1 197.4L130.6 202.9M143.1 205.7L143.4 205.6M88.1 55.7L89.2 59.8M86.7 56.1L88.1 55.7M170.8 132.5L172.6 134.3M172.6 134.3L177.2 133.7M177.2 133.7L181.3 131.8M174.6 124.8L180.8 129.9M170.5 128.9L172.7 125.7M122.8 27.0L127.8 23.2M127.8 23.2L128.4 19.4M114.3 13.3L128.4 19.4M108.6 19.7L114.3 13.3M108.6 19.7L114.5 27.1M272.1 143.3L278.7 136.7M278.7 136.7L282.5 131.3M265.7 131.0L282.5 131.3M45.4 164.4L45.6 152.3M52.4 157.8L52.7 158.5M80.1 116.2L80.6 116.5M80.6 116.5L82.2 116.8M82.2 116.8L82.9 116.6M81.8 114.1L82.6 114.2M80.1 116.2L81.8 114.1M114.3 105.2L115.4 104.6M116.4 107.3L116.9 106.8M116.9 106.8L117.4 104.7M93.7 140.2L94.7 139.3M93.7 140.2L93.9 140.6M93.9 140.6L96.0 141.8M96.0 141.8L96.2 139.2M94.7 139.3L96.2 139.2M44.0 112.1L47.7 112.4M47.7 112.4L50.7 110.8M132.7 119.5L139.5 124.5M132.6 119.6L132.7 119.5M132.0 121.1L132.6 119.6M132.0 121.1L136.1 126.8M83.7 70.2L86.0 71.0M81.8 71.5L83.7 70.2M81.8 71.5L83.1 74.3M83.1 74.3L84.6 74.4M84.6 74.4L85.4 73.8M85.9 72.3L86.0 71.0M68.4 105.5L69.8 104.9M69.8 104.9L70.5 102.0M66.0 102.0L67.1 100.9M113.7 178.9L113.8 179.2M118.7 183.9L120.5 178.7M113.7 178.9L115.1 178.1M103.8 140.1L103.8 140.7M103.8 140.7L103.9 140.9M103.9 140.9L104.6 141.4M104.6 141.4L105.5 141.3M105.3 139.0L105.5 141.3M110.1 166.9L114.0 163.6M112.9 161.6L114.0 163.6M105.8 161.4L106.0 161.3M105.7 162.0L105.8 161.4M108.7 128.0L109.4 128.7M109.4 128.7L109.6 128.6M109.6 128.6L112.0 123.4M107.7 123.5L112.0 123.4M107.7 123.5L108.3 126.9M108.6 127.9L108.7 128.0M55.6 160.1L56.2 161.3M106.9 122.8L109.2 120.6M108.3 119.6L108.5 119.6M106.4 121.0L108.3 119.6M102.7 113.3L104.3 111.7M103.6 111.3L104.3 111.7M102.9 111.3L103.6 111.3M102.0 112.2L102.9 111.3M102.0 112.2L102.2 113.3M88.9 136.8L88.9 137.7M88.5 136.4L88.9 136.8M84.9 135.3L86.1 138.8M86.1 138.8L88.3 138.6M88.3 138.6L88.9 137.7M90.1 133.4L90.8 133.1M90.1 133.4L90.6 135.3M90.6 135.3L91.1 135.1M91.1 135.1L91.4 133.0M111.0 173.0L112.3 172.6M112.3 172.6L116.7 167.2M114.1 163.6L117.0 165.8M114.0 163.6L114.1 163.6M105.2 124.1L105.5 125.0M106.9 122.8L107.7 123.5M116.8 125.7L120.0 125.9M117.0 127.1L119.1 127.7M119.1 127.7L120.0 126.8M242.3 138.7L246.5 139.1M241.4 123.9L251.6 127.3M231.3 120.8L241.4 123.9M228.3 130.6L231.3 120.8M228.3 130.6L242.3 138.7M137.6 108.9L138.1 108.5M137.6 104.8L138.0 105.4M134.0 106.8L137.6 108.9M198.4 116.3L198.9 121.3M186.4 113.4L198.4 116.3M178.2 118.8L186.4 113.4M177.5 121.3L178.2 118.8M177.5 121.3L183.1 124.2M74.5 92.8L76.1 93.6M69.7 97.1L70.5 94.6M70.3 97.5L75.6 97.1M75.6 97.1L76.5 94.2M192.6 136.2L199.5 156.0M181.3 140.6L191.1 136.2M175.3 146.1L181.3 140.6M175.3 146.1L175.6 155.3M175.6 155.3L175.6 155.4M113.2 116.7L115.3 119.3M115.7 114.2L117.1 117.0M113.2 116.7L115.7 114.2M239.7 150.3L242.3 138.7M250.4 165.0L257.3 158.1M123.1 129.9L123.9 131.1M120.1 130.9L120.4 133.9M120.4 133.9L122.8 134.1M164.8 123.3L165.1 126.4M140.9 108.9L142.0 110.1M137.2 109.9L137.6 108.9M76.1 37.9L76.9 39.7M80.8 41.3L84.3 39.4M84.3 39.4L84.8 35.5M155.0 69.9L161.4 65.5M155.0 69.9L156.1 70.9M127.8 23.2L134.9 29.0M134.9 29.0L134.9 32.9M111.6 77.8L112.1 76.0M111.6 77.8L114.9 77.3M64.3 165.7L65.5 165.3M65.5 165.3L66.9 164.1M65.1 160.2L66.7 160.9M76.9 121.3L80.1 122.5M80.5 119.3L81.4 119.7M78.9 119.1L80.5 119.3M78.2 119.5L78.9 119.1M107.2 119.0L108.3 119.6M106.8 119.2L107.2 119.0M122.6 67.0L122.7 66.2M125.6 64.9L126.8 65.4M91.6 144.6L92.6 144.3M90.9 147.2L92.1 147.8M92.1 147.8L93.6 145.7M93.6 145.7L93.9 144.5M92.6 144.3L93.9 144.5M108.8 72.7L110.1 72.3M108.3 73.1L108.8 72.7M108.1 73.7L108.3 73.1M108.9 77.5L111.2 74.7M110.1 72.3L110.3 72.3M127.2 60.1L129.0 58.5M105.2 156.1L107.3 158.8M109.0 155.0L110.0 156.5M106.4 154.4L109.0 155.0M147.5 91.4L150.9 89.2M148.2 93.1L149.9 95.3M164.8 121.6L171.9 124.6M144.2 98.0L144.7 94.9M112.1 65.1L113.4 65.2M113.4 65.2L116.1 62.5M116.1 62.4L116.1 62.5M110.5 61.6L110.6 61.0M110.5 61.6L112.1 65.1M80.0 83.0L81.0 81.5M82.6 86.9L83.0 86.7M82.9 81.1L85.4 84.7M147.2 22.0L148.3 19.5M112.3 172.6L118.5 172.9M110.4 177.4L113.7 178.9M38.8 101.0L40.6 101.6M40.6 101.6L43.7 100.0M45.0 79.8L46.0 76.8M47.5 84.9L47.6 85.0M85.8 114.9L86.4 117.1M87.4 117.3L88.1 116.5M86.6 113.7L88.1 116.5M78.2 160.7L82.1 164.1M82.1 164.1L83.4 164.1M83.4 164.1L84.7 162.2M81.7 156.9L84.7 162.2M81.6 156.8L81.7 156.9M81.3 156.9L81.6 156.8M79.1 159.3L81.3 156.9M73.7 105.9L73.7 106.3M72.9 105.3L73.7 105.9M69.8 104.9L72.9 105.3M69.1 107.7L71.9 107.4M101.8 63.7L106.4 63.1M101.7 64.1L102.3 65.0M102.3 65.0L105.8 65.8M105.8 65.8L106.6 64.0M106.4 63.1L106.6 64.0M85.9 90.6L87.3 89.5M82.4 90.5L85.9 90.6M89.6 67.1L91.1 68.0M89.1 65.8L92.7 65.2M102.7 55.7L104.3 55.2M102.6 60.9L102.7 55.7M102.6 60.9L106.7 61.2M106.7 61.2L107.0 60.9M78.5 46.6L80.0 50.7M80.2 45.3L82.7 47.4M53.2 158.9L54.7 159.4M59.7 154.1L59.9 154.4M56.6 153.0L59.7 154.1M152.6 137.7L153.9 141.8M148.1 138.2L149.8 137.3M146.7 143.9L148.1 138.2M141.9 97.5L142.6 94.1M62.1 109.4L62.9 108.8M62.8 111.3L65.5 112.3M62.9 108.8L66.0 107.7M199.0 121.6L223.0 134.0M207.8 161.9L209.7 160.3M209.7 160.3L216.8 149.7M216.8 149.7L223.0 134.0M110.7 95.8L111.2 95.1M106.5 94.2L106.5 94.8M106.5 94.8L106.5 94.9M98.2 57.7L100.6 60.8M97.4 61.7L98.0 57.9M84.3 39.4L84.8 39.8M41.6 127.3L45.0 129.5M41.6 127.3L43.7 126.6M119.6 139.7L119.8 138.6M119.3 135.1L119.8 138.6M116.6 134.5L119.3 135.1M160.6 104.9L163.3 103.8M163.3 103.8L164.1 103.1M160.1 100.8L162.4 100.4M48.3 99.5L51.6 101.6M51.6 101.6L52.2 96.9M50.4 94.0L52.2 96.9M115.8 70.4L119.4 72.1M119.4 72.1L121.9 70.9M116.6 67.9L121.7 69.5M116.3 68.0L116.6 67.9M65.4 40.1L69.2 43.2M59.7 43.2L65.4 40.1M59.4 47.7L59.7 43.2M54.5 125.1L55.9 126.1M72.6 136.5L73.8 133.2M73.7 132.7L73.8 133.2M71.1 132.1L72.5 131.7M71.1 132.1L72.6 136.5M144.9 162.3L146.8 162.0M150.9 152.3L151.4 152.7M148.0 153.1L150.9 152.3M154.0 77.7L155.3 77.1M154.6 69.7L155.0 69.9M153.3 66.1L159.2 62.2M110.8 81.4L111.3 79.7M111.1 79.0L111.3 79.7M110.9 78.7L111.1 79.0M109.6 78.4L110.9 78.7M109.1 81.8L109.6 78.4M51.1 132.2L52.5 134.5M52.4 130.8L57.1 130.1M155.4 144.0L156.6 144.4M156.6 144.4L160.7 141.8M160.7 141.8L161.3 137.9M154.8 135.7L155.3 135.5M146.5 137.8L148.1 138.2M142.8 140.5L146.5 137.8M35.4 95.8L37.4 93.8M132.6 94.4L132.6 95.7M130.1 93.0L132.6 94.4M128.8 93.6L130.1 93.0M128.4 94.9L128.8 93.6M102.2 61.5L102.6 60.9M106.4 63.1L106.7 61.2M117.3 111.6L118.0 111.5M115.8 113.1L117.3 111.6M115.7 114.2L115.8 113.1M56.5 141.1L62.0 141.6M84.9 79.8L87.1 81.3M85.6 84.6L87.2 82.3M63.3 156.0L68.0 156.8M63.0 156.1L63.3 156.0M63.0 156.1L65.1 160.1M43.2 76.2L45.1 76.4M40.8 80.3L42.8 81.7M118.9 86.4L119.8 82.8M121.8 85.9L121.8 86.0M121.3 82.8L121.8 85.9M42.4 124.4L45.2 122.5M45.2 122.5L45.6 120.5M42.8 118.0L45.6 120.5M122.5 197.4L123.8 207.7M95.8 109.3L98.1 106.7M97.3 106.1L98.1 106.7M94.2 109.0L95.1 105.8M94.2 109.0L95.8 109.3M58.1 108.5L58.9 106.9M59.4 107.1L61.7 109.2M88.9 17.6L98.6 28.1M99.2 14.4L101.7 16.1M149.6 162.3L155.0 167.2M155.0 167.2L156.5 166.5M153.1 159.1L159.4 160.6M81.5 119.7L82.2 116.8M84.2 117.8L84.2 118.5M83.7 116.9L84.2 117.8M79.5 116.1L80.1 116.2M81.2 113.6L81.8 114.1M79.2 115.7L81.2 113.6M161.0 96.2L164.3 97.7M52.3 62.3L52.6 62.3M92.0 172.4L96.8 166.0M89.7 167.9L94.3 162.6M112.0 123.4L112.6 122.9M109.5 120.6L112.6 122.9M88.4 183.6L89.1 178.9M88.4 183.6L91.9 185.3M91.9 185.3L97.7 184.1M97.7 184.1L98.3 175.2M92.3 174.1L98.3 175.2M64.2 97.6L65.1 101.1M61.4 98.5L61.9 97.7M61.4 98.5L61.9 99.1M61.9 99.1L65.1 101.1M86.0 91.8L87.4 93.1M84.4 93.6L86.0 91.8M85.2 94.3L87.4 93.1M119.3 135.1L120.4 133.9M119.6 130.6L120.1 130.9M158.5 149.3L164.8 148.2M157.9 151.1L158.5 149.3M164.8 148.2L175.6 155.3M132.6 94.4L134.0 92.0M129.9 90.4L130.1 93.0M130.9 139.2L130.9 141.7M164.5 119.0L168.4 118.1M65.1 101.1L65.9 102.0M61.9 99.1L62.2 102.8M176.9 104.7L186.4 113.4M174.7 107.3L176.9 104.7M173.0 111.7L174.7 107.3M173.0 111.7L178.2 118.8M80.2 126.9L80.6 123.8M80.2 126.9L82.1 127.2M84.5 124.4L84.5 124.7M84.3 124.2L84.5 124.4M74.2 107.0L77.1 107.0M77.1 107.0L77.9 106.5M73.7 105.9L76.0 103.3M78.0 113.5L79.0 112.1M78.0 113.5L78.3 114.3M78.8 115.0L81.2 113.6M80.0 112.0L81.2 113.6M104.3 98.0L104.4 100.9M102.6 98.1L104.3 98.0M101.9 99.8L102.6 98.1M101.9 99.8L103.2 101.1M103.2 101.1L104.3 101.0M66.8 142.3L70.0 142.1M59.6 99.3L61.4 98.5M87.1 43.7L87.2 42.6M87.1 43.7L90.2 48.8M121.9 92.7L122.0 93.9M123.7 94.9L125.0 93.3M153.4 129.3L157.5 131.9M152.5 131.2L153.4 129.3M87.7 70.7L89.1 71.6M89.1 71.6L91.2 71.0M23.1 100.1L23.2 99.3M21.9 105.3L23.1 100.1M21.9 105.3L22.5 112.7M27.0 113.1L28.8 112.0M111.1 65.7L112.1 65.1M109.5 63.9L110.5 61.6M110.5 65.2L111.1 65.7M82.3 90.8L83.9 93.4M78.8 94.6L79.2 95.0M79.2 95.0L83.4 94.0M143.9 109.3L146.5 104.8M147.6 129.4L148.0 128.2M143.1 124.7L148.0 128.2M164.0 135.7L167.4 141.7M167.4 141.7L173.4 142.9M172.6 134.3L173.4 142.9M58.2 129.4L64.9 125.5M60.3 123.1L64.9 125.5M58.2 129.4L60.3 123.1M138.8 64.4L140.7 62.2M138.6 69.3L141.4 70.9M127.3 54.8L127.5 52.0M121.8 52.8L125.5 55.2M125.5 55.2L127.3 54.8M132.6 142.5L134.7 141.3M169.3 117.0L171.0 113.2M163.8 111.3L171.0 113.2M102.9 69.2L104.1 69.5M101.7 71.2L102.9 69.2M101.5 73.1L103.9 73.6M103.9 73.6L105.1 72.3M104.1 69.5L105.1 72.3M63.9 20.2L64.3 21.2M59.8 20.6L64.3 21.2M59.8 20.6L61.7 25.7M61.6 26.1L61.7 25.7M61.6 26.1L63.9 29.5M63.9 29.5L73.9 29.9M63.9 20.2L74.2 26.2M142.4 134.8L146.5 137.8M105.3 188.8L107.2 181.2M105.3 188.8L108.0 195.4M112.4 144.6L116.2 149.6M116.1 150.3L116.2 149.6M38.3 160.1L42.1 151.3M38.3 160.1L38.6 160.4M38.6 160.4L39.8 163.6M37.9 165.6L39.8 163.6M37.9 165.6L38.6 170.7M38.6 170.7L40.2 172.9M41.5 127.3L41.6 127.3M79.4 178.0L83.7 177.5M77.8 174.9L83.7 172.8M160.7 141.8L163.6 143.7M156.6 144.4L158.5 149.3M163.6 143.7L164.8 148.2M88.1 55.7L90.5 54.2M87.1 50.7L88.2 50.7M84.5 52.8L84.8 53.9M41.9 89.6L48.0 87.4M49.8 88.5L49.9 88.9M91.9 185.3L93.2 194.0M93.2 194.0L100.6 200.9M97.7 184.1L105.3 188.8M151.5 176.6L155.0 167.2M171.0 113.2L173.0 111.7M166.9 107.0L174.7 107.3M165.8 107.5L166.9 107.0M163.4 109.9L165.8 107.5M74.3 100.6L75.3 100.5M75.3 100.5L75.8 99.5M75.6 97.1L75.8 99.5M148.0 128.2L148.2 128.0M117.7 93.5L118.2 91.8M118.9 94.8L120.3 95.3M81.2 111.2L82.4 111.3M129.5 117.3L129.7 116.6M129.1 112.9L129.7 116.6M127.1 112.5L127.6 117.3M127.6 117.3L129.5 117.3M86.3 45.2L87.1 43.7M84.8 128.6L87.5 128.8M85.4 130.2L87.5 130.1M87.5 130.1L87.6 130.0M87.6 130.0L88.1 129.3M87.5 128.8L88.1 129.3M149.7 127.6L151.7 131.2M52.2 96.9L53.2 96.2M51.4 92.0L56.1 92.9M74.4 154.4L75.0 155.3M71.2 156.6L74.4 154.4M72.0 157.9L74.6 158.5M75.0 155.3L75.8 158.0M91.5 107.1L94.6 105.3M52.0 130.2L52.3 125.1M49.5 125.6L51.2 123.5M103.5 125.9L105.0 124.1M102.3 124.8L103.7 123.5M102.3 124.8L103.5 125.9M75.3 100.5L76.2 102.9M78.8 103.1L79.9 101.5M79.9 101.5L80.2 99.6M75.8 99.5L80.2 99.6M209.7 160.3L237.4 163.8M216.8 149.7L235.6 152.9M173.1 94.3L173.5 84.4M167.3 91.4L171.1 94.4M87.8 118.9L88.2 118.9M86.7 120.0L86.9 119.8M86.7 120.0L86.9 120.2M86.9 120.2L88.5 121.0M126.3 93.5L126.5 94.4M127.2 92.2L128.8 93.6M121.9 71.0L123.1 74.2M79.2 134.3L80.4 136.8M78.6 134.3L79.2 134.3M76.7 135.1L76.8 135.0M40.6 101.6L43.1 103.9M98.3 175.2L98.6 175.0M112.9 161.6L116.5 157.6M111.7 157.1L114.2 155.3M177.5 121.3L177.5 121.4M72.2 128.5L72.3 128.2M72.3 128.2L72.4 122.9M70.9 122.6L71.9 122.7M68.3 124.7L70.9 122.6M68.3 124.7L70.5 128.5M70.5 128.5L72.2 128.5M97.5 152.6L99.4 152.0M96.0 155.0L97.5 152.6M100.2 156.3L101.1 154.8M99.4 152.0L101.1 154.8M152.9 153.3L156.6 152.8M150.0 148.2L150.9 152.3M109.5 88.1L110.8 87.5M110.8 87.5L111.2 86.0M107.1 86.2L110.6 84.5M107.0 86.3L107.1 86.2M107.0 86.3L109.5 88.1M119.5 130.3L120.9 127.3M146.2 13.9L148.6 15.8M128.4 19.4L129.2 17.9M134.9 29.0L138.4 28.7M107.4 140.0L108.4 140.3M108.4 140.3L108.7 137.0M106.7 137.6L107.0 137.3M106.3 138.3L106.7 137.6M106.3 138.3L107.4 140.0M95.9 85.0L96.9 85.3M94.9 86.2L95.9 85.0M95.4 87.4L98.5 87.8M106.5 46.3L106.6 48.8M127.3 105.5L131.0 104.6M131.6 109.0L132.1 108.0M224.7 118.8L231.3 120.8M213.1 114.9L224.7 118.8M202.2 107.0L213.1 114.9M198.4 116.3L202.2 107.0M223.0 134.0L228.3 130.6M98.1 106.7L99.4 107.1M95.8 109.3L97.4 110.9M97.4 110.9L99.4 107.1M114.1 163.6L116.3 161.5M107.8 115.6L109.7 116.1M107.4 116.1L107.8 115.6M107.2 119.0L107.4 116.1M171.5 172.5L172.2 173.5M152.9 180.7L171.2 172.5M83.7 152.0L84.6 152.9M81.1 153.3L83.7 152.0M80.9 153.9L81.1 153.3M80.9 153.9L81.6 156.8M81.7 156.9L85.0 154.4M85.0 153.7L85.0 154.4M200.5 190.8L203.6 190.1M203.6 190.1L207.3 165.5M44.4 103.5L49.1 104.2M43.6 103.9L44.4 103.5M81.0 63.2L81.7 66.0M99.0 83.8L99.9 84.2M96.4 83.6L99.0 83.8M95.9 85.0L96.4 83.6M110.4 101.9L111.6 100.1M110.0 98.0L110.1 101.8M110.1 101.8L110.4 101.9M18.3 122.7L20.0 121.4M12.5 123.1L18.3 122.7M6.8 122.7L12.5 123.1M4.8 125.1L6.8 122.7M4.8 125.1L5.3 128.0M2.5 130.7L5.3 128.0M20.8 122.2L21.3 126.2M74.2 123.0L75.2 124.5M75.2 124.5L77.1 125.2M77.1 125.2L80.5 123.7M99.8 123.0L101.0 124.8M101.0 124.8L101.5 123.7M101.5 121.4L101.5 123.7M99.8 122.7L101.5 121.4M99.8 122.7L99.8 123.0M153.4 129.3L153.5 128.1M153.5 128.1L155.1 126.3M81.0 193.8L93.2 194.0M129.4 131.2L129.5 130.3M122.0 56.9L122.1 60.1M127.3 54.8L129.1 58.3M123.2 55.9L125.5 55.2M122.3 56.4L123.2 55.9M80.7 105.8L80.9 105.8M80.9 105.8L82.4 104.7M79.9 101.5L82.5 102.9M80.2 155.0L80.9 153.9M80.0 156.1L80.2 155.0M80.0 156.1L81.3 156.9M60.4 30.2L61.6 26.1M56.6 37.3L60.4 30.2M55.7 40.8L56.6 37.3M55.7 40.8L59.7 43.2M65.4 40.1L66.3 36.9M63.9 29.5L66.3 36.9M126.9 90.4L129.7 90.3M106.5 82.7L109.0 81.9M105.9 83.2L106.1 83.9M106.1 83.9L107.1 86.2M79.4 154.7L80.2 155.0M79.3 156.1L80.0 156.1M138.6 102.4L140.1 102.2M130.4 122.3L132.0 121.1M129.5 117.3L132.6 119.6M127.0 121.2L127.5 117.7M114.1 93.1L117.2 93.7M115.9 89.3L116.4 89.2M114.5 90.9L115.9 89.3M114.1 93.1L114.5 90.9M185.5 87.3L185.9 87.8M185.5 82.1L185.5 87.3M185.5 82.1L185.9 81.2M181.6 81.6L185.9 81.2M128.7 85.8L130.0 88.3M126.6 86.1L126.9 85.5M156.7 92.4L158.1 91.6M101.8 131.2L102.6 131.1M102.6 130.8L102.6 131.1M102.3 130.4L102.6 130.8M108.7 66.3L109.0 66.6M110.8 66.4L111.1 65.7M108.7 65.6L108.7 66.3M107.0 19.4L108.6 19.7M96.4 81.4L98.4 82.0M96.3 83.1L96.4 81.4M96.3 83.1L96.4 83.6M98.8 82.7L99.0 83.8M98.3 138.6L98.6 137.3M96.5 138.7L98.6 137.3M96.5 138.7L96.5 138.9M96.5 138.9L97.9 139.6M97.9 139.6L98.3 138.6M85.9 90.6L86.0 91.8M92.3 109.2L93.3 109.5M93.3 109.5L94.2 109.0M108.8 78.1L109.6 78.4M110.9 78.7L111.6 77.8M106.7 68.7L107.1 69.9M107.1 69.9L108.8 72.7M108.7 68.7L110.1 72.3M106.7 68.7L108.7 68.7M85.7 161.2L93.4 161.7M84.7 162.2L85.7 161.2M83.4 164.1L85.2 166.5M52.8 52.8L56.6 51.7M49.8 47.5L56.6 51.7M48.6 49.6L49.8 47.5M100.2 81.8L100.6 83.1M100.1 81.8L100.2 81.8M69.5 170.4L69.8 175.4M65.5 165.3L69.5 170.4M79.4 144.7L80.2 145.8M76.8 145.0L79.4 144.7M76.3 149.7L76.9 150.8M76.9 150.8L77.4 150.6M77.4 150.6L80.2 145.8M173.4 142.9L175.3 146.1M177.2 133.7L181.3 140.6M78.0 167.6L82.1 164.1M76.7 174.3L78.0 167.6M104.3 111.7L104.6 111.8M104.3 114.6L105.6 114.0M111.4 113.7L112.3 112.4M111.4 111.0L112.3 112.4M108.7 112.6L111.4 111.0M108.7 112.6L111.4 113.7M116.2 149.6L117.3 146.5M55.3 42.4L55.7 40.8M52.0 43.7L55.3 42.4M49.8 47.5L52.0 43.7M149.7 127.6L153.5 128.1M105.0 108.6L106.1 110.6M107.5 110.7L107.7 110.4M105.9 106.1L108.1 106.6M105.5 106.4L105.9 106.1M38.6 70.6L44.8 69.5M38.6 70.6L39.0 74.2M79.2 71.5L81.8 71.5M78.1 72.0L79.2 71.5M80.2 76.3L82.6 75.5M82.6 75.5L83.1 74.3M73.3 90.3L74.5 87.4M87.7 76.7L88.2 76.6M87.6 76.8L87.7 76.7M185.9 81.2L188.7 75.1M184.8 73.1L188.7 75.1M178.4 73.8L184.8 73.1M174.6 74.6L178.4 73.8M39.2 64.3L40.3 60.9M39.2 64.3L39.8 68.0M38.6 70.6L39.8 68.0M50.8 110.8L52.2 115.1M47.7 112.4L48.9 114.6M105.6 153.3L106.9 150.0M109.0 155.0L109.6 152.6M106.9 150.0L108.7 150.1M25.7 120.1L27.1 121.6M66.7 71.5L68.6 69.7M68.4 69.0L68.6 69.7M176.9 104.7L177.0 103.8M166.5 105.4L166.9 107.0M207.7 163.5L232.1 174.0M203.6 190.1L205.6 189.6M205.6 189.6L214.6 189.6M214.6 189.6L216.7 189.6M119.8 138.6L124.7 136.5M163.3 103.8L165.8 107.5M86.5 132.1L87.5 130.1M86.3 132.8L86.5 132.1M87.5 132.7L87.9 132.4M87.6 130.0L88.2 131.8M106.6 64.0L108.6 64.5M75.0 60.8L77.6 59.8M74.5 53.2L75.1 53.3M114.5 215.3L119.4 215.6M119.4 215.6L120.9 216.2M90.9 128.4L91.5 126.6M92.8 128.9L93.3 128.7M91.5 126.6L93.5 128.0M102.9 49.1L104.2 53.7M62.9 108.8L63.9 105.0M84.1 185.4L88.4 183.6M163.6 143.7L167.4 141.7M84.2 117.8L85.9 117.6M85.3 120.1L86.7 120.0M99.7 49.3L101.2 55.5M96.6 47.5L98.9 55.2M99.8 55.9L101.2 55.5M88.1 116.5L89.0 116.6M87.7 113.1L88.6 113.2M110.7 90.4L114.5 90.9M114.4 88.0L115.9 89.3M110.6 89.9L110.6 90.3M52.7 110.0L54.7 111.3M52.4 115.4L54.8 111.6M124.8 136.7L124.9 138.2M84.6 74.4L84.7 74.6M84.7 74.6L87.7 76.7M88.2 75.3L88.3 75.4M80.0 127.0L80.2 126.9M79.4 129.7L79.7 130.3M79.7 130.3L80.3 130.8M51.6 101.6L51.9 102.1M44.4 103.5L44.8 102.2M31.9 155.1L32.1 155.3M32.1 155.3L38.3 160.1M101.9 104.3L103.0 103.5M101.9 104.3L104.9 106.4M105.6 104.3L105.9 106.1M103.0 103.5L105.3 103.9M125.1 131.4L126.9 130.4M110.8 87.5L111.9 87.1M123.8 5.1L127.9 7.9M116.7 6.4L123.8 5.1M114.3 8.0L116.7 6.4M114.3 8.0L114.3 13.3M132.7 119.5L133.9 118.5M104.1 127.0L104.4 127.1M104.4 127.1L105.2 126.7M103.5 125.9L103.5 126.3M103.5 126.3L104.1 127.0M94.7 63.2L95.6 64.2M73.8 133.2L75.3 134.6M72.6 136.5L72.6 136.7M58.8 115.6L64.0 118.4M64.0 118.4L64.4 118.0M60.9 113.6L64.4 118.0M81.5 98.0L82.3 97.9M79.2 95.0L81.5 98.0M121.8 85.9L124.2 84.1M119.8 119.1L122.1 121.4M101.4 134.6L101.6 134.9M101.6 134.9L104.0 135.3M104.0 135.3L104.6 134.7M104.2 134.1L104.6 134.7M103.8 133.5L104.2 134.1M101.4 134.4L103.8 133.5M101.4 134.4L101.4 134.6M48.4 137.4L53.4 139.2M54.9 143.1L55.0 142.4M119.1 127.7L119.1 129.6M127.9 80.3L128.0 81.7M128.0 81.8L131.7 82.1M86.0 71.0L87.6 70.6M89.1 71.6L89.2 73.9M145.7 50.6L156.5 54.6M88.4 149.6L88.4 149.9M90.1 151.8L91.0 149.4M90.3 148.7L91.0 149.4M89.5 148.9L90.3 148.7M64.3 14.8L65.5 14.5M63.0 18.0L64.3 14.8M63.0 18.0L63.9 20.2M87.1 96.8L87.9 95.0M73.1 143.1L73.2 143.4M66.7 142.5L67.5 145.2M67.5 145.2L73.0 143.7M84.7 74.6L84.9 76.7M66.3 36.9L72.6 35.5M69.7 70.8L70.5 73.3M75.7 69.5L78.0 72.0M69.7 70.8L75.7 69.5M103.9 94.8L106.5 94.8M102.2 95.1L103.9 94.8M102.1 96.1L105.2 96.2M121.7 52.9L123.2 55.9M201.6 106.6L202.2 107.0M195.8 101.4L201.6 106.6M192.8 95.6L195.8 101.4M166.9 206.1L170.8 203.7M170.8 203.7L177.3 203.1M177.3 203.1L183.7 201.8M183.7 201.8L190.1 197.3M190.1 197.3L191.5 196.3M101.3 120.5L102.0 116.6M101.3 120.5L101.8 121.0M101.8 121.0L102.8 121.1M103.9 117.5L104.0 119.3M102.8 116.7L103.9 117.5M72.3 103.2L72.9 105.3M68.6 69.7L69.7 70.8M79.2 134.3L79.9 133.6M77.8 132.7L80.1 131.2M57.1 97.5L57.1 98.7M112.9 9.0L114.3 8.0M103.9 7.7L112.9 9.0M102.4 7.0L103.9 7.7M105.6 138.5L106.3 138.3M104.6 136.4L106.7 137.6M104.3 136.3L104.6 136.4M104.1 137.8L104.3 136.3M66.1 96.5L68.2 97.7M85.0 154.4L86.5 158.5M86.5 158.5L90.3 156.7M41.2 174.2L42.4 175.8M42.4 175.8L43.1 177.6M58.1 93.0L61.8 97.3M101.2 55.5L102.7 55.7M102.6 130.8L102.8 130.4M102.6 131.1L103.1 131.5M103.1 131.5L103.8 131.4M103.5 130.1L103.8 131.4M77.1 107.0L77.7 109.8M74.3 107.9L75.9 109.9M75.9 109.9L77.7 109.8M84.6 101.5L85.2 99.6M81.1 98.7L81.5 98.0M81.1 98.7L82.9 102.1M245.0 170.8L247.0 168.6M91.2 138.8L92.0 138.7M91.1 139.4L91.2 138.8M91.4 141.4L91.8 141.6M91.8 141.6L91.9 141.5M91.9 141.5L93.3 140.0M92.0 138.7L93.3 140.0M92.6 134.5L94.7 134.5M94.9 132.6L95.1 133.6M94.2 132.2L94.9 132.6M92.9 132.0L93.2 132.0M91.8 132.7L92.9 132.0M91.6 132.9L92.6 134.5M96.0 131.7L96.9 131.8M95.3 132.0L96.0 131.7M94.9 132.6L95.3 132.0M98.0 133.8L98.9 132.8M98.3 132.3L98.9 132.8M98.1 132.2L98.3 132.3M100.8 149.7L101.0 149.7M99.5 151.5L100.8 149.7M99.4 152.0L99.5 151.5M101.1 154.8L101.2 154.8M103.2 149.8L103.6 153.0M92.8 152.9L94.2 150.8M94.2 150.8L97.5 152.6M96.0 136.0L98.4 136.1M96.1 137.4L98.4 136.1M91.9 136.6L92.2 135.7M91.9 136.6L92.6 137.9M92.6 137.9L93.4 137.5M92.2 135.7L93.6 136.6M102.6 128.4L104.1 127.0M101.8 126.9L103.5 126.3M101.8 126.9L102.6 128.4M96.2 139.2L96.5 138.9M96.0 141.8L96.1 141.8M96.1 141.8L96.7 141.9M96.7 141.9L98.7 140.3M97.9 139.6L98.7 140.3M87.7 145.6L89.3 144.6M87.7 145.6L88.6 147.2M89.3 147.0L89.4 147.0M92.1 147.9L92.4 149.0M92.4 149.0L94.3 150.3M94.3 150.3L95.0 149.5M93.9 147.5L95.0 149.5M92.1 147.9L93.9 147.5M99.5 125.7L100.4 125.8M97.9 126.7L99.5 125.7M97.7 127.4L97.9 126.7M100.4 127.4L100.7 126.4M100.4 125.8L100.7 126.4M104.4 133.8L105.5 132.5M104.9 132.5L105.5 132.5M104.4 133.8L104.9 132.5M109.1 136.8L110.7 137.0M104.7 143.5L107.5 143.4M104.4 143.6L104.7 143.5M104.4 143.6L104.8 144.4M104.8 144.4L106.3 145.0M106.3 145.0L107.5 143.4M94.0 144.6L96.8 144.3M96.8 144.3L96.9 144.3M96.1 141.8L96.9 144.3M94.0 144.3L96.0 141.8M93.9 144.5L94.0 144.3M93.9 144.5L94.0 144.6M104.9 147.4L106.3 145.4M104.9 147.4L104.9 148.2M104.9 148.2L104.9 148.9M104.9 148.9L105.6 149.1M105.6 149.1L107.6 146.3M106.3 145.4L107.6 146.3M91.9 130.4L92.9 132.0M77.4 150.6L83.1 149.6M83.1 149.6L83.3 148.6M80.2 145.8L83.3 148.6M102.9 143.3L104.1 143.2M104.1 143.2L104.6 141.4M102.3 142.1L103.9 140.9M103.7 159.8L105.8 161.4M101.3 159.2L103.7 159.8M104.2 134.1L104.4 133.8M104.1 132.3L104.9 132.5M103.7 133.2L104.1 132.3M103.7 133.2L103.8 133.5M96.9 144.3L97.9 144.0M97.7 142.7L97.9 144.0M96.7 141.9L97.7 142.7M103.8 131.4L104.1 132.3M105.5 132.5L106.7 132.4M106.7 132.4L106.8 131.4M104.1 131.2L106.8 131.4M103.8 131.4L104.1 131.2M106.7 132.4L106.9 133.7M104.6 134.7L106.2 134.4M95.8 127.4L95.9 125.1M93.8 124.7L95.9 125.1M93.7 127.8L93.8 124.7M89.3 129.0L89.4 126.0M90.8 124.7L91.5 126.6M90.3 148.7L90.7 147.3M95.7 113.4L97.7 112.1M97.4 110.9L97.7 112.1M93.3 109.5L93.9 111.6M91.0 149.4L92.4 149.0M92.1 147.8L92.1 147.9M96.0 131.7L97.1 130.4M97.1 130.4L97.3 131.3M88.8 133.9L89.6 133.3M89.3 132.7L89.6 133.3M85.4 130.3L86.5 132.1M84.5 124.4L86.5 123.6M86.9 120.2L86.9 123.2M98.6 137.3L98.9 137.0M98.3 138.6L99.5 139.1M99.5 139.1L99.6 138.7M98.9 137.0L99.6 138.7M107.5 130.1L109.4 128.7M104.6 128.1L108.7 128.0M104.5 128.6L104.6 128.1M104.5 128.6L105.1 129.5M105.1 129.5L107.5 130.1M98.4 124.4L99.8 123.0M98.0 121.7L99.8 122.7M97.1 123.7L98.0 121.7M97.1 123.7L97.1 123.9M97.1 123.9L98.4 124.4M105.5 141.3L105.8 141.3M105.8 141.3L107.4 140.0M85.2 145.9L88.2 147.6M83.6 148.3L85.2 145.9M83.6 148.3L87.9 149.1M104.4 149.1L104.9 148.9M105.6 149.1L106.9 150.0M89.6 133.3L90.1 133.4M89.4 131.8L89.9 130.8M101.8 146.3L102.1 145.8M102.1 145.8L102.2 145.5M102.0 144.8L102.2 145.5M99.1 144.9L101.0 144.4M99.1 144.9L99.6 146.2M99.6 146.2L101.5 146.4M98.9 142.3L99.7 143.0M97.7 142.7L98.9 142.3M97.9 144.0L98.8 144.7M98.8 144.7L99.7 143.0M93.5 141.7L94.0 144.3M91.9 141.5L93.5 141.7M91.8 141.6L92.6 144.3M98.8 147.6L99.6 146.2M98.8 147.6L100.8 149.7M93.6 145.7L93.9 147.5M95.0 149.5L95.6 149.2M95.6 149.2L96.0 148.4M95.8 146.3L96.0 148.4M94.0 144.6L95.8 146.3M95.8 146.3L97.0 145.9M96.0 148.4L97.9 147.9M97.9 147.9L98.5 147.6M97.2 145.9L98.5 147.6M97.0 145.9L97.2 145.9M85.2 145.8L87.7 145.6M85.2 145.8L85.2 145.9M98.4 124.4L99.5 125.7M100.4 125.8L101.0 124.8M112.4 116.8L113.2 116.7M112.3 112.4L115.8 113.1M110.0 116.1L111.4 113.7M87.3 128.2L87.5 128.8M96.8 144.3L97.0 145.9M97.2 145.9L98.8 144.7M102.1 145.8L104.9 148.2M89.5 143.8L89.7 144.1M99.6 138.7L101.0 138.4M100.7 136.8L101.0 138.4M98.9 137.0L100.7 136.8M88.9 137.7L91.2 138.8M92.0 138.7L92.6 137.9M89.7 136.2L91.9 136.6M88.9 136.8L89.7 136.2M95.9 125.1L96.2 124.9M96.2 124.9L97.1 123.9M95.5 122.4L97.1 123.7M93.3 124.2L95.5 122.4M93.3 124.2L93.8 124.7M101.2 140.5L102.0 139.0M101.2 140.5L101.4 140.7M101.4 140.7L103.8 140.7M102.0 139.0L102.7 138.6M105.8 141.3L106.4 142.4M104.1 143.2L104.4 143.6M104.7 143.5L106.4 142.4M101.4 136.3L101.6 134.9M98.5 135.8L101.4 134.6M98.4 136.1L98.5 135.8M98.4 136.1L98.9 137.0M100.7 136.8L101.4 136.3M98.5 147.6L98.8 147.6M98.8 144.7L99.1 144.9M101.0 138.4L102.0 139.0M102.3 137.1L102.9 138.2M101.4 136.3L102.3 137.1M103.7 159.8L104.5 156.3M88.3 138.6L88.3 140.7M95.3 129.7L95.3 132.0M97.1 130.4L97.4 129.9M98.7 140.3L99.2 140.3M99.2 140.3L99.5 139.1M102.2 145.5L103.8 145.5M103.8 145.5L104.8 144.4M109.6 128.6L111.3 128.7M111.3 128.7L114.7 124.7M114.1 122.5L114.7 122.5M112.6 122.9L114.1 122.5M99.2 132.7L99.3 130.6M99.2 132.7L100.5 132.9M100.5 132.9L100.9 131.9M107.6 146.3L109.1 146.5M104.1 135.6L104.3 136.3M104.6 136.4L106.5 136.2M104.0 135.3L104.1 135.6M102.5 132.7L103.7 133.2M101.0 133.4L102.5 132.7M101.0 133.4L101.4 134.4M106.3 145.0L106.3 145.4M103.8 145.5L104.9 147.4M92.0 135.1L92.6 134.5M92.0 135.1L92.2 135.7M89.7 136.2L90.6 135.3M91.1 135.1L92.0 135.1M98.4 150.7L99.5 151.5M95.6 149.2L98.4 150.7M94.2 150.8L94.3 150.3M95.5 120.8L95.5 122.4M92.6 123.9L93.3 124.2M97.5 130.0L98.3 132.3M96.2 124.9L97.9 126.7M102.5 132.7L103.1 131.5M106.4 142.4L107.6 143.3M107.5 143.4L107.6 143.3M85.2 145.1L87.5 143.3M85.2 145.1L85.2 145.8M102.3 137.1L104.1 135.6M104.7 129.8L105.1 129.5M103.5 128.8L104.5 128.6M103.5 128.8L103.9 129.8M103.9 129.8L104.7 129.8M84.2 137.7L85.5 139.3M84.2 139.6L85.2 139.7M85.2 139.7L85.5 139.3M93.3 140.0L93.7 140.2M94.1 137.8L94.7 139.3M84.1 142.9L85.2 145.1M85.4 141.4L86.9 141.6M84.1 142.9L85.4 141.4M100.5 132.9L101.0 133.4M93.5 141.7L93.9 140.6M85.5 139.3L86.1 138.8M85.2 139.7L85.4 141.4M112.4 141.7L113.1 140.6M108.4 140.3L110.8 142.2M112.1 141.9L112.4 141.7M83.3 148.6L83.6 148.3M83.1 149.6L83.7 152.0M96.0 137.6L96.5 138.7M98.9 142.3L99.2 140.3M100.3 142.8L100.4 142.5M100.3 142.8L100.4 143.0M100.4 142.5L101.3 142.5M102.3 129.0L102.5 128.9M102.5 128.9L102.6 128.7M102.6 128.4L102.6 128.7M100.7 126.4L101.8 126.9M111.1 132.1L114.5 130.7M111.1 132.1L113.4 132.9M114.5 130.7L115.2 131.2M100.4 142.5L100.5 140.7M99.2 140.3L100.5 140.7M99.7 143.0L100.3 142.8M111.3 128.7L112.6 129.0M112.6 129.0L114.4 127.6M98.2 135.1L98.5 135.8M110.6 132.1L110.6 132.2M110.6 132.1L111.1 132.1M112.4 141.7L117.0 145.9M104.1 131.2L104.7 129.8M103.5 130.0L103.9 129.8M107.6 143.3L110.1 142.8M98.9 132.8L99.2 132.7M97.9 147.9L98.4 150.7M106.8 131.4L107.5 130.1M109.4 128.7L110.6 132.1M83.2 142.7L84.1 142.9M80.2 143.1L83.2 142.7M79.4 144.7L80.2 143.1M102.6 128.7L103.5 128.8M102.5 128.9L102.9 129.5M101.4 140.7L102.3 142.1M82.9 139.4L83.2 142.7M100.5 140.7L101.2 140.5M111.1 103.3L115.2 101.4M111.1 103.3L111.2 104.7M80.5 119.3L80.6 116.5M113.6 121.7L114.1 122.5M101.7 93.0L103.9 94.8M101.3 93.3L101.6 94.0M101.5 123.7L103.4 123.0M101.0 124.8L102.3 124.8M113.3 94.0L114.1 93.1M113.2 94.3L113.8 95.4M113.8 95.4L116.8 94.5M100.5 104.0L100.7 104.4M97.5 104.0L98.0 103.0M99.4 107.1L99.8 107.0M99.8 107.0L100.7 104.4M109.5 88.1L110.6 89.9M106.2 87.3L107.0 86.3M106.2 87.3L106.9 90.9M129.7 116.6L132.6 113.2M77.8 118.8L78.0 116.7M104.1 88.1L106.2 87.3M103.1 90.8L104.1 88.1M94.2 102.7L97.5 101.8M119.9 98.2L120.4 97.3M112.6 129.0L114.5 130.7M113.8 95.4L114.4 96.9M99.0 93.7L99.5 93.1M98.7 96.8L99.0 93.7M98.9 97.1L99.8 97.0M105.4 117.2L107.4 116.1M107.3 114.6L107.8 115.6M103.9 117.5L105.4 117.2M115.8 109.3L117.3 111.6M111.3 110.8L111.4 111.0M101.5 121.4L101.8 121.0M123.7 113.6L125.6 116.7M111.3 79.7L113.6 81.5M99.8 107.0L100.9 107.9M100.7 104.4L101.9 104.3M105.4 117.2L106.1 119.0M97.5 119.1L101.3 120.5M97.5 119.1L98.0 121.7M104.2 109.2L104.7 111.7M103.2 109.5L103.6 111.3M104.8 100.9L106.2 99.1M104.3 98.0L104.5 97.9M101.0 86.8L104.1 88.1M107.9 101.6L108.7 101.2M107.8 98.9L108.7 101.2M104.4 127.1L104.6 128.1M87.8 100.9L88.4 102.4M116.9 106.8L118.5 107.6M107.8 113.0L108.7 112.6M110.4 101.9L111.1 103.3M108.7 101.2L110.1 101.8M94.5 93.9L94.5 95.1M94.5 93.9L99.0 93.7M88.6 99.7L92.7 99.8M93.9 92.2L94.5 93.9M95.3 90.5L96.1 90.6M103.0 101.5L103.0 103.5M100.7 102.7L103.0 101.5M100.9 110.2L101.1 108.6M100.9 110.2L102.9 111.3M100.4 111.0L100.9 110.2M100.4 111.0L102.0 112.2M97.7 112.1L98.7 112.4M98.7 112.4L100.4 111.0M83.1 108.3L83.6 109.0M82.3 107.9L83.1 108.3M81.0 109.8L82.3 107.9M98.7 112.4L100.5 114.9M90.5 112.6L91.1 110.0M87.7 111.7L91.1 110.0M99.5 100.1L101.9 99.8M103.0 101.5L103.2 101.1M102.7 79.7L103.6 80.2M100.2 81.8L100.4 80.2M102.2 83.1L104.4 82.0M100.0 116.2L100.5 115.9M95.5 114.1L100.0 116.2M97.3 118.9L97.5 119.1M97.3 118.9L100.0 116.2M55.1 117.5L56.4 116.5M53.4 118.2L55.1 117.5M88.1 129.3L89.1 129.3M64.9 125.5L65.2 125.5M63.4 119.2L65.2 125.5M60.7 119.9L63.4 119.2M59.6 121.5L60.7 119.9M59.5 121.7L59.6 121.5M59.5 121.7L60.3 123.1M76.1 130.6L76.5 130.7M75.0 132.3L76.2 132.9M77.3 131.7L77.3 132.2M76.5 130.7L77.3 131.7M63.0 133.0L63.1 133.8M83.1 108.3L86.4 105.1M96.0 118.7L97.3 118.9M68.2 117.8L70.0 116.1M68.2 117.8L70.9 122.6M72.4 115.5L73.4 117.7M64.4 118.0L66.2 117.3M65.7 113.1L66.2 117.3M75.2 129.2L75.6 128.3M75.4 127.5L75.6 128.3M72.3 128.2L75.4 127.5M72.2 128.5L73.1 130.2M62.6 135.0L62.7 135.0M79.9 141.8L80.2 143.1M79.3 141.0L79.9 141.8M74.1 142.1L77.3 141.2M80.9 105.8L82.2 107.8M82.2 107.8L82.3 107.9M74.2 117.8L75.2 115.7M73.8 114.2L75.2 115.7M57.8 122.9L59.5 121.7M58.1 120.8L59.6 121.5M55.1 121.3L58.1 120.8M78.9 119.1L79.4 116.2M66.2 117.3L68.2 117.8M63.4 119.2L64.0 118.4M65.2 125.5L65.9 125.8M65.9 125.8L68.3 124.7M79.7 109.0L80.3 106.1M79.9 109.1L82.2 107.8M75.2 115.7L76.1 116.6M87.4 126.5L88.4 126.0M55.1 117.5L58.1 120.8M77.1 125.2L78.7 126.6M83.0 136.2L83.6 135.4M57.8 116.5L60.7 119.9M65.9 125.8L66.6 130.8M58.0 129.6L58.2 129.4M79.9 141.8L82.6 139.1M75.6 128.3L77.1 128.5M76.5 130.7L78.3 129.5M45.6 120.5L49.5 119.8M45.2 122.5L45.7 123.8M67.4 148.7L67.5 145.7M67.4 145.7L67.5 145.7M63.7 146.5L67.4 145.7M63.7 146.5L65.9 148.5M56.6 126.9L57.5 129.8M75.2 124.5L75.4 127.5M77.3 131.7L79.7 130.3M80.2 99.6L81.1 98.7M77.8 109.8L77.9 110.0M77.8 109.8L79.0 106.5M77.7 109.8L77.8 109.8M74.4 113.1L75.9 109.9M74.4 113.1L78.0 113.5M74.1 113.3L74.4 113.1M87.5 63.9L95.3 64.3M91.5 82.7L96.3 83.1M91.4 83.1L93.0 85.9M103.2 76.3L104.4 75.7M103.9 73.6L104.4 75.7M116.9 63.5L122.1 65.5M116.6 67.9L116.9 63.5M82.6 75.5L83.7 77.3M86.4 85.1L88.6 85.8M88.6 85.8L90.6 83.3M101.6 96.9L102.6 98.1M96.3 69.4L96.9 69.9M102.1 68.3L102.9 69.2M96.2 69.0L102.1 68.3M90.5 74.2L92.6 74.0M105.8 65.8L106.2 66.7M106.2 66.7L108.7 66.3M102.2 85.2L106.1 83.9M102.1 68.3L102.3 65.0M88.6 85.8L88.7 86.0M116.4 74.9L119.4 72.1M113.4 65.2L113.6 65.9M111.1 79.0L115.1 79.1M96.7 76.9L99.2 75.1M96.6 79.0L98.6 79.1M100.3 77.2L100.4 76.1M75.6 65.7L75.7 69.5M79.2 71.5L79.8 67.7M76.7 64.9L79.8 67.7M76.3 64.9L76.7 64.9M105.1 72.3L105.2 72.3M105.2 72.3L107.1 69.9M106.0 68.3L106.7 68.7M104.1 69.5L106.0 68.3M108.7 68.7L108.9 68.5M76.7 64.9L80.7 63.2M79.8 67.7L81.6 66.7M83.7 68.8L83.7 70.2M90.1 94.3L90.5 95.4M104.4 75.7L105.1 76.2M102.4 78.1L102.6 77.1M105.2 72.3L108.3 73.1M106.0 68.3L106.2 66.7M117.0 60.2L121.8 60.4M116.1 62.5L116.9 63.5M96.1 79.4L96.4 81.4M95.2 74.2L98.6 74.1M75.0 155.3L77.6 153.3M60.4 145.7L60.6 145.7M58.7 148.6L60.5 152.4M60.5 152.4L61.4 151.5M61.4 151.5L62.2 147.8M62.2 146.7L62.2 147.8M60.6 145.7L62.2 146.7M55.4 165.2L56.1 163.6M61.4 151.5L64.5 151.0M62.2 147.8L64.6 150.1M72.5 151.7L73.4 148.5M73.5 152.5L74.0 152.6M74.0 152.6L76.9 151.1M76.9 150.8L76.9 151.1M69.5 170.4L70.0 168.2M69.9 165.3L70.0 168.2M63.7 146.5L65.4 143.1M60.6 145.7L62.1 142.5M62.2 146.7L63.7 146.5M68.0 132.4L68.5 132.2M68.5 132.2L70.5 128.5M67.5 145.7L70.6 146.8M70.6 146.8L72.2 145.9M67.4 145.7L67.5 145.2M70.0 168.2L73.7 166.4M73.7 166.4L74.3 165.5M73.7 164.6L74.3 165.5M69.9 151.0L72.9 147.9M63.3 156.0L66.3 152.6M59.7 154.1L60.5 152.4M61.3 155.9L63.0 156.1M76.9 151.1L77.7 152.6M79.2 153.1L81.1 153.3M85.7 161.2L86.5 158.5M74.0 152.6L74.4 154.4M68.5 132.2L71.1 132.1M68.5 149.7L70.6 146.8M74.3 165.5L78.0 167.6M71.2 175.1L73.7 166.4" fill="none" stroke="#000" stroke-width="0.5"/>
<filter id="soft" x="-2%" y="-2%" width="104%" height="104%"><feGaussianBlur stdDeviation="0.35"/></filter>
</defs>
<rect width="778" height="529" fill="#fff"/>
<g class="pp" filter="url(#soft)">
<g transform="translate(0,0)">
<polygon points="93.2,1.5 97.7,5.8 100.0,5.8 103.9,7.7 112.9,9.0 116.7,6.4 123.8,5.1 129.6,9.0 134.7,7.7 138.6,10.3 142.4,10.9 151.4,18.0 157.8,24.4 164.3,30.8 169.4,36.0 173.9,41.8 177.1,43.1 179.4,45.6 177.1,49.5 172.0,56.6 166.8,62.3 165.6,63.0 164.9,68.0 165.6,71.9 169.4,75.7 178.4,73.8 184.8,73.1 188.7,75.1 185.5,82.1 185.5,87.3 188.7,91.8 192.5,95.0 195.8,101.4 201.6,106.6 213.1,114.9 224.7,118.8 241.4,123.9 253.0,127.8 263.3,131.0 282.5,131.3 278.7,136.7 265.8,149.6 249.1,166.3 236.3,180.4 228.6,188.0 226.1,189.6 214.6,189.6 205.6,189.6 197.8,191.5 190.1,197.3 183.7,201.8 177.3,203.1 170.8,203.7 164.4,207.6 154.1,207.6 147.7,202.4 145.1,204.7 137.4,208.6 128.4,214.3 124.6,217.6 119.4,215.6 110.4,215.0 101.4,213.7 93.7,210.5 88.6,207.3 82.1,203.4 75.7,198.9 70.6,195.7 64.1,196.3 57.7,197.0 55.1,189.3 54.0,183.6 51.4,180.3 44.3,181.0 42.4,175.8 38.6,170.7 37.9,165.6 39.8,163.6 38.6,160.4 32.1,155.3 27.0,150.8 25.0,148.2 21.7,144.4 19.3,140.5 14.5,137.6 10.6,135.7 6.8,136.2 1.9,134.7 1.4,131.8 5.3,128.0 4.8,125.1 6.8,122.7 12.5,123.1 18.3,122.7 22.7,119.3 22.5,113.0 21.9,105.3 23.1,100.1 23.8,93.7 27.6,89.9 26.3,87.3 25.7,82.1 30.8,77.0 39.2,75.7 38.6,70.6 39.8,68.0 39.2,64.3 40.5,60.4 44.3,57.8 47.6,51.4 52.0,43.7 55.3,42.4 56.6,37.3 60.4,30.2 61.7,25.7 59.8,20.6 64.3,21.2 63.0,18.0 64.3,14.8 72.0,12.9 79.7,10.3 83.5,11.6 88.7,6.4" fill="#800026" stroke="#000" stroke-width="0.55" stroke-linejoin="round"/>
<g clip-path="url(#clipEth)">
<use href="#mesh"/>
<polygon points="121.8,163.1 119.3,165.7 120.5,167.2 124.8,166.2 124.0,162.7 122.5,162.8" fill="#FC4E2A"/>
<polygon points="67.7,49.1 63.5,49.9 67.8,58.2 68.2,58.3 69.4,57.7 68.0,49.5" fill="#FC4E2A"/>
<polygon points="134.3,67.0 132.6,61.8 130.5,60.4 129.2,65.4 132.6,67.7" fill="#FED976"/>
<polygon points="58.1,108.5 54.7,111.3 54.8,111.6 55.5,112.2 56.7,112.1 58.5,111.0" fill="#FC4E2A"/>
<polygon points="94.2,103.1 94.2,103.0 90.7,103.6 91.0,105.1 94.2,104.0" fill="#FFFFCC"/>
<polygon points="73.7,164.6 73.8,164.2 72.6,162.5 71.4,161.9 70.4,162.5 69.1,164.6 69.9,165.3" fill="#FED976"/>
<polygon points="156.2,114.4 158.5,117.0 160.5,117.1 159.5,111.7 158.5,111.5" fill="#FC4E2A"/>
<polygon points="112.9,161.6 112.9,161.6 111.7,157.1 110.0,156.5 107.3,158.8 106.0,161.3" fill="#FED976"/>
<polygon points="97.3,131.3 96.9,131.8 98.1,132.2" fill="#FED976"/>
<polygon points="82.3,90.8 82.4,90.5 82.0,89.5 78.2,89.8 76.1,93.6 76.5,94.2 78.8,94.6" fill="#FC4E2A"/>
<polygon points="142.5,93.7 145.3,91.1 141.3,88.0 141.0,88.2 140.4,90.9 141.2,93.0" fill="#FED976"/>
<polygon points="71.1,86.9 70.9,86.0 68.6,85.6 68.2,85.7 68.3,89.5 68.4,89.7 69.8,89.4" fill="#FED976"/>
<polygon points="89.9,130.8 90.8,133.1 91.4,133.0 91.6,132.9 91.8,132.7 90.5,130.6 89.9,130.5" fill="#FC4E2A"/>
<polygon points="120.4,53.9 118.8,54.5 119.8,56.7 122.0,56.9 122.3,56.4" fill="#FED976"/>
<polygon points="127.8,75.2 127.3,79.4 127.9,80.3 130.5,79.1 132.0,77.3 131.1,74.2 130.2,73.6" fill="#FFFFCC"/>
<polygon points="87.4,93.1 87.4,93.1 87.9,95.0 90.1,94.3 90.5,91.8 90.1,91.4" fill="#FC4E2A"/>
<polygon points="137.9,92.4 136.6,88.9 134.6,88.5 133.8,90.4 134.0,92.0 137.3,93.4" fill="#FC4E2A"/>
<polygon points="92.7,76.0 91.5,76.4 89.3,77.7 89.7,78.7 91.9,80.4 94.3,79.4" fill="#FED976"/>
<polygon points="159.5,111.7 163.3,110.7 163.4,109.9 160.3,105.5 155.4,107.1 158.5,111.5" fill="#FED976"/>
<polygon points="45.3,130.0 45.9,134.0 46.9,134.2 51.1,132.2 52.4,130.8 52.0,130.2 49.7,127.4 47.6,127.4" fill="#FED976"/>
<polygon points="87.4,126.5 84.9,125.3 85.1,126.7 87.3,128.2" fill="#FED976"/>
<polygon points="140.5,99.6 141.9,98.7 142.2,98.2 141.9,97.5 139.7,96.2 138.0,95.8 137.7,99.7" fill="#FC4E2A"/>
<polygon points="136.5,140.9 139.0,138.1 135.9,135.8 134.1,135.1 132.8,136.0" fill="#FED976"/>
<polygon points="124.7,125.9 123.8,127.6 123.8,128.0 126.9,130.4 129.5,130.3 129.6,130.1 128.7,127.7 127.4,125.9" fill="#FC4E2A"/>
<polygon points="103.6,153.0 101.2,154.8 104.5,156.3 105.2,156.1 106.4,154.4 105.6,153.3" fill="#FED976"/>
<polygon points="96.5,129.1 97.3,129.9 98.5,128.0 97.7,127.4 96.5,128.1" fill="#FED976"/>
<polygon points="131.1,74.2 132.0,77.3 133.3,78.1 136.5,77.4 135.9,76.0 134.7,73.9" fill="#FC4E2A"/>
<polygon points="89.2,59.8 87.9,60.9 88.0,62.2 94.7,63.2 92.7,57.7 92.7,57.7 92.7,57.7" fill="#FED976"/>
<polygon points="90.0,115.9 92.7,115.5 91.5,113.2 90.5,112.6 88.6,113.2" fill="#FED976"/>
<polygon points="27.0,113.1 22.5,112.7 22.5,113.0 22.7,118.1 25.1,119.1" fill="#FC4E2A"/>
<polygon points="82.6,59.1 81.0,58.0 78.5,58.8 77.6,59.8 80.7,63.2 81.0,63.2 81.5,62.8" fill="#FC4E2A"/>
<polygon points="119.1,129.6 116.4,128.6 116.3,128.6 115.2,131.2 115.4,131.5 115.4,131.5 119.6,130.6 119.5,130.3" fill="#FED976"/>
<polygon points="123.4,124.1 121.9,123.6 121.0,123.7 120.8,124.0 120.0,125.9 120.0,126.8 120.9,127.3 121.3,127.5 123.8,127.6 124.7,125.9" fill="#FED976"/>
<polygon points="120.6,89.2 120.0,87.5 119.1,87.3 117.3,88.4 116.4,89.2 118.2,91.8 119.5,91.7" fill="#FED976"/>
<polygon points="83.2,59.0 82.6,59.1 81.5,62.8 86.7,64.6 87.4,64.2 87.5,63.9 88.0,62.2 87.9,60.9 86.1,59.5" fill="#FED976"/>
<polygon points="128.3,69.2 122.6,67.0 121.7,69.5 121.9,70.9 121.9,71.0 129.7,70.8" fill="#FED976"/>
<polygon points="90.2,48.8 88.2,50.7 90.5,54.2 91.1,54.5 95.0,51.2 96.0,47.1 95.7,46.5" fill="#FC4E2A"/>
<polygon points="86.0,133.0 84.6,131.6 82.6,131.3 82.7,134.0 83.6,135.4 84.7,135.3 86.0,133.0" fill="#FED976"/>
<polygon points="134.4,103.4 132.9,102.6 131.0,104.6 132.1,108.0 134.0,106.8" fill="#FED976"/>
<polygon points="100.8,86.8 101.0,86.8 102.2,85.2 102.2,83.1 100.6,83.1 99.9,84.2 100.1,85.6 100.7,86.7" fill="#FFFFCC"/>
<polygon points="50.5,120.0 51.2,122.4 54.0,123.5 55.4,122.5 55.5,122.3 55.1,121.3 53.0,118.8" fill="#FC4E2A"/>
<polygon points="69.1,107.6 68.3,111.0 69.9,111.7 71.6,111.1 71.1,109.5 69.1,107.7" fill="#FED976"/>
<polygon points="164.8,121.6 164.5,119.0 163.2,118.4 159.5,122.2 160.0,123.5 164.8,123.3" fill="#FED976"/>
<polygon points="107.5,110.7 106.1,110.6 104.7,111.7 104.6,111.8 105.6,114.0 107.3,114.6 107.8,113.0" fill="#FC4E2A"/>
<polygon points="114.7,122.5 114.8,122.6 118.3,122.0 119.8,119.1 120.0,118.3 120.0,118.0 119.1,117.5 117.1,117.0 115.3,119.3" fill="#FC4E2A"/>
<polygon points="127.9,84.0 127.6,85.1 128.7,85.8 133.5,86.0 131.5,83.8" fill="#FC4E2A"/>
<polygon points="124.8,112.0 119.9,109.3 119.7,109.5 118.0,111.5 119.0,112.3 122.2,114.2 123.7,113.6 124.8,112.2" fill="#FC4E2A"/>
<polygon points="68.4,69.0 68.8,66.0 68.1,64.1 60.9,65.7 58.8,68.6 59.9,69.1" fill="#FC4E2A"/>
<polygon points="142.8,140.5 141.9,140.3 140.0,145.7 144.0,146.7 146.3,145.7 146.5,144.2" fill="#FED976"/>
<polygon points="85.7,174.0 83.7,177.5 89.1,178.9 90.0,176.0" fill="#FED976"/>
<polygon points="148.2,124.4 148.2,128.0 149.7,127.6 149.7,127.6 150.6,125.5" fill="#FFFFCC"/>
<polygon points="56.7,112.1 55.5,112.2 56.4,116.5 57.8,116.5 58.8,115.6 60.3,113.8" fill="#FC4E2A"/>
<polygon points="114.2,155.3 116.5,157.6 117.3,157.9 118.2,157.8 119.8,154.4 119.2,152.2 116.4,151.1 115.7,151.9" fill="#FED976"/>
<polygon points="142.4,133.8 141.7,132.3 139.7,131.2 138.4,132.1 137.8,134.1 139.5,138.0 139.9,137.9 142.4,134.8" fill="#FED976"/>
<polygon points="121.0,103.8 122.1,101.6 119.7,98.7 116.2,99.5 116.1,100.2 118.9,103.9" fill="#FED976"/>
<polygon points="47.3,142.3 50.6,145.4 53.5,144.6 54.9,143.1 48.2,139.3" fill="#FED976"/>
<polygon points="122.9,91.3 120.6,89.2 119.5,91.7 121.9,92.7" fill="#FFFFCC"/>
<polygon points="57.1,98.7 52.7,102.4 53.9,104.0 57.0,105.0 59.1,103.2 59.4,99.3" fill="#FED976"/>
<polygon points="114.2,105.2 114.8,107.9 115.7,108.9 116.4,107.3 114.3,105.2" fill="#FED976"/>
<polygon points="59.9,154.4 54.7,159.4 55.6,160.1 59.3,158.9 60.6,157.7 61.3,155.9" fill="#FC4E2A"/>
<polygon points="153.7,106.7 153.0,106.3 150.4,107.0 149.8,108.7 149.8,112.2 154.8,113.6" fill="#FED976"/>
<polygon points="85.2,94.3 84.4,93.6 83.9,93.4 83.4,94.0 82.3,97.9 84.7,98.1 85.9,96.9" fill="#FC4E2A"/>
<polygon points="160.5,117.1 163.0,118.1 163.8,111.3 163.3,110.7 159.5,111.7" fill="#FC4E2A"/>
<polygon points="70.5,73.3 70.9,76.8 77.7,74.3 78.1,72.0 78.0,72.0" fill="#FC4E2A"/>
<polygon points="141.0,88.2 136.6,88.9 137.9,92.4 140.4,90.9" fill="#FFFFCC"/>
<polygon points="124.8,145.1 123.0,150.2 123.0,150.6 123.7,150.9 125.5,151.1 126.7,146.9" fill="#FC4E2A"/>
<polygon points="72.0,100.1 70.6,102.0 72.3,103.2 74.3,100.6" fill="#FFFFCC"/>
<polygon points="76.7,135.1 75.3,134.6 73.2,136.8 73.5,136.8 76.5,136.8" fill="#FED976"/>
<polygon points="86.1,59.5 87.9,60.9 89.2,59.8 88.1,55.7 86.7,56.1" fill="#FED976"/>
<polygon points="115.4,104.6 114.3,105.2 116.4,107.3 116.9,106.8 117.4,104.7" fill="#FED976"/>
<polygon points="76.1,93.6 74.5,92.8 70.5,94.6 69.7,97.1 70.3,97.5 75.6,97.1 76.5,94.2" fill="#FED976"/>
<polygon points="113.2,116.7 115.3,119.3 117.1,117.0 115.7,114.2" fill="#FED976"/>
<polygon points="110.1,72.3 108.8,72.7 108.3,73.1 108.1,73.7 108.9,77.5 111.2,74.7 110.6,72.4 110.3,72.3" fill="#FED976"/>
<polygon points="129.2,65.4 130.5,60.4 129.0,58.5 127.2,60.1 125.6,64.9 126.8,65.4" fill="#FC4E2A"/>
<polygon points="105.2,156.1 107.3,158.8 110.0,156.5 109.0,155.0 106.4,154.4" fill="#FC4E2A"/>
<polygon points="112.1,65.1 113.4,65.2 116.1,62.5 116.1,62.4 110.6,61.0 110.5,61.6" fill="#FC4E2A"/>
<polygon points="106.5,94.9 107.9,96.4 110.7,95.8 111.2,95.1 109.7,93.5 107.4,93.1 106.5,94.2 106.5,94.8" fill="#FC4E2A"/>
<polygon points="100.6,60.8 98.2,57.7 98.0,57.9 97.4,61.7" fill="#FC4E2A"/>
<polygon points="42.4,94.8 37.4,93.8 35.4,95.8 35.4,96.0 42.1,95.7" fill="#FC4E2A"/>
<polygon points="115.7,114.2 117.1,117.0 119.1,117.5 119.0,112.3 118.0,111.5 117.3,111.6 115.8,113.1" fill="#FC4E2A"/>
<polygon points="58.8,137.7 56.5,141.1 62.0,141.6 62.7,139.1" fill="#FC4E2A"/>
<polygon points="89.7,167.9 92.0,172.4 96.8,166.0 96.1,164.0 94.3,162.6" fill="#FC4E2A"/>
<polygon points="125.5,151.1 123.7,150.9 123.9,156.9 124.0,157.0 129.2,153.6 127.4,151.9" fill="#FED976"/>
<polygon points="130.9,139.2 126.7,142.2 126.5,142.6 129.3,143.9 130.9,141.7" fill="#FED976"/>
<polygon points="66.2,140.4 66.8,142.3 70.0,142.1 69.3,139.2 68.9,138.9" fill="#FC4E2A"/>
<polygon points="61.4,98.5 59.6,99.3 59.7,99.5 61.9,102.7 62.2,102.8 61.9,99.1" fill="#FC4E2A"/>
<polygon points="116.2,149.6 112.4,144.6 111.4,148.6 116.1,150.3" fill="#FED976"/>
<polygon points="88.1,55.7 90.5,54.2 88.2,50.7 87.1,50.7 85.5,51.1 84.5,52.8 84.8,53.9 86.7,56.1" fill="#FC4E2A"/>
<polygon points="49.8,88.5 48.0,87.4 41.9,89.6 43.1,93.3 45.9,93.8 49.9,88.9" fill="#FED976"/>
<polygon points="41.1,89.1 41.9,89.6 48.0,87.4 47.6,85.0 47.5,84.9 45.7,84.4 40.6,86.4" fill="#FED976"/>
<polygon points="109.5,88.1 110.8,87.5 111.2,86.0 110.6,84.5 107.1,86.2 107.0,86.3" fill="#FFFFCC"/>
<polygon points="96.9,85.3 95.9,85.0 94.9,86.2 95.4,87.4 98.5,87.8 98.9,87.5" fill="#FED976"/>
<polygon points="131.0,104.6 127.3,105.5 126.9,106.4 129.5,109.1 131.6,109.0 132.1,108.0" fill="#FC4E2A"/>
<polygon points="84.6,152.9 83.7,152.0 81.1,153.3 80.9,153.9 81.6,156.8 81.7,156.9 85.0,154.4 85.0,153.7" fill="#FED976"/>
<polygon points="122.3,56.4 122.0,56.9 122.1,60.1 127.2,60.1 129.0,58.5 129.1,58.3 127.3,54.8 125.5,55.2 123.2,55.9" fill="#FC4E2A"/>
<polygon points="81.3,156.9 81.6,156.8 80.9,153.9 80.2,155.0 80.0,156.1" fill="#FC4E2A"/>
<polygon points="114.1,93.1 117.2,93.7 117.7,93.5 118.2,91.8 116.4,89.2 115.9,89.3 114.5,90.9" fill="#FC4E2A"/>
<polygon points="98.4,82.0 96.4,81.4 96.3,83.1 96.4,83.6 99.0,83.8 98.8,82.7" fill="#FC4E2A"/>
<polygon points="111.6,77.8 112.1,76.0 111.2,74.7 108.9,77.5 108.8,78.1 109.6,78.4 110.9,78.7" fill="#FED976"/>
<polygon points="122.8,134.1 120.4,133.9 119.3,135.1 119.8,138.6 124.7,136.5 124.7,135.2" fill="#FC4E2A"/>
<polygon points="63.5,103.9 59.4,107.1 61.7,109.2 62.1,109.4 62.9,108.8 63.9,105.0" fill="#FC4E2A"/>
<polygon points="163.6,143.7 167.4,141.7 164.0,135.7 161.3,137.9 160.7,141.8" fill="#FC4E2A"/>
<polygon points="123.8,128.0 123.1,129.9 123.9,131.1 125.1,131.4 126.9,130.4" fill="#FC4E2A"/>
<polygon points="130.4,122.3 131.6,125.7 135.3,127.3 136.1,126.8 132.0,121.1" fill="#FC4E2A"/>
<polygon points="139.6,124.4 136.2,119.4 133.9,118.5 132.7,119.5 139.5,124.5" fill="#FED976"/>
<polygon points="112.3,172.6 118.5,172.9 116.7,167.2" fill="#FED976"/>
<polygon points="128.7,85.8 130.0,88.3 134.3,87.4 134.2,86.2 133.5,86.0" fill="#FC4E2A"/>
<polygon points="60.3,113.8 58.8,115.6 64.0,118.4 64.4,118.0 60.9,113.6 60.4,113.7" fill="#FED976"/>
<polygon points="105.2,96.2 106.5,94.9 106.5,94.8 103.9,94.8 102.2,95.1 102.1,96.1" fill="#FC4E2A"/>
<polygon points="121.7,52.9 120.5,53.9 120.4,53.9 122.3,56.4 123.2,55.9" fill="#FC4E2A"/>
<polygon points="125.5,55.2 121.8,52.8 121.7,52.9 123.2,55.9" fill="#FC4E2A"/>
<polygon points="78.6,134.3 79.2,134.3 79.9,133.6 80.1,131.2 77.8,132.7" fill="#FC4E2A"/>
<polygon points="104.1,137.8 105.6,138.5 106.3,138.3 106.7,137.6 104.6,136.4 104.3,136.3" fill="#FED976"/>
<polygon points="90.3,156.7 90.5,153.5 85.0,153.7 85.0,154.4 86.5,158.5" fill="#FFFFCC"/>
<polygon points="61.9,97.7 61.8,97.3 58.1,93.0 57.8,92.8 57.6,92.6 57.1,97.5 57.1,98.7 59.4,99.3 59.6,99.3 61.4,98.5" fill="#FED976"/>
<polygon points="92.6,134.5 94.7,134.5 95.1,133.6 94.9,132.6 94.2,132.2 93.2,132.0 92.9,132.0 91.8,132.7 91.6,132.9" fill="#FED976"/>
<polygon points="101.0,149.7 100.8,149.7 99.5,151.5 99.4,152.0 101.1,154.8 101.2,154.8 103.6,153.0 103.2,149.8" fill="#FED976"/>
<polygon points="89.4,126.0 89.3,129.0 90.9,128.4 91.5,126.6 90.8,124.7" fill="#FC4E2A"/>
<polygon points="86.9,120.2 86.7,120.0 85.3,120.1 83.9,121.9 84.3,124.2 84.5,124.4 86.5,123.6 86.9,123.4 86.9,123.2" fill="#FC4E2A"/>
<polygon points="101.0,124.8 101.0,124.8 99.8,123.0 98.4,124.4 99.5,125.7 100.4,125.8" fill="#FED976"/>
<polygon points="91.8,141.6 91.4,141.4 89.6,142.0 89.5,143.8 89.7,144.1 91.6,144.6 92.6,144.3" fill="#FC4E2A"/>
<polygon points="105.6,149.1 106.9,150.0 108.7,150.1 110.1,148.7 109.1,146.5 107.6,146.3" fill="#FC4E2A"/>
<polygon points="101.3,159.2 103.7,159.8 104.5,156.3 101.2,154.8 101.1,154.8 100.2,156.3 100.1,157.8" fill="#FC4E2A"/>
<polygon points="100.4,142.5 100.3,142.8 100.4,143.0 101.6,143.3 101.3,142.5" fill="#FC4E2A"/>
<polygon points="103.8,145.5 102.2,145.5 102.1,145.8 104.9,148.2 104.9,147.4" fill="#FC4E2A"/>
<polygon points="91.4,133.0 91.1,135.1 92.0,135.1 92.6,134.5 91.6,132.9" fill="#FED976"/>
<polygon points="114.5,130.7 111.1,132.1 113.4,132.9 115.4,131.5 115.2,131.2" fill="#FC4E2A"/>
<polygon points="114.4,127.6 114.7,124.7 111.3,128.7 112.6,129.0" fill="#FED976"/>
<polygon points="101.0,133.4 100.5,132.9 99.2,132.7 98.9,132.8 98.0,133.8 98.2,135.1 98.5,135.8 101.4,134.6 101.4,134.4" fill="#FED976"/>
<polygon points="101.4,140.7 101.2,140.5 100.5,140.7 100.4,142.5 101.3,142.5 102.3,142.1" fill="#FC4E2A"/>
<polygon points="111.2,104.7 114.2,105.2 114.3,105.2 115.4,104.6 115.2,101.4 111.1,103.3" fill="#FED976"/>
<polygon points="103.9,94.8 101.7,93.0 101.3,93.3 101.6,94.0 102.2,95.1" fill="#FC4E2A"/>
<polygon points="106.5,94.2 103.1,91.9 101.7,93.0 103.9,94.8 106.5,94.8" fill="#FC4E2A"/>
<polygon points="116.8,94.5 117.2,93.7 114.1,93.1 113.3,94.0 113.2,94.3 113.8,95.4" fill="#FFFFCC"/>
<polygon points="76.4,116.9 77.8,118.8 78.0,116.7" fill="#FC4E2A"/>
<polygon points="120.4,97.3 120.3,95.3 118.9,94.8 117.7,96.1 119.9,98.2" fill="#FC4E2A"/>
<polygon points="101.6,94.0 101.3,93.3 99.5,93.1 99.0,93.7 98.7,96.8 98.9,97.1 99.8,97.0" fill="#FC4E2A"/>
<polygon points="105.4,117.2 107.4,116.1 107.8,115.6 107.3,114.6 105.6,114.0 104.3,114.6 102.8,116.7 103.9,117.5" fill="#FC4E2A"/>
<polygon points="113.1,140.6 112.4,141.7 117.0,145.9 117.5,140.3" fill="#FC4E2A"/>
<polygon points="104.8,100.9 106.2,99.1 104.5,97.9 104.3,98.0 104.4,100.9" fill="#FED976"/>
<polygon points="85.2,99.6 84.6,101.5 86.5,105.0 88.4,102.4 87.8,100.9" fill="#FFFFCC"/>
<polygon points="117.4,104.7 116.9,106.8 118.5,107.6 118.7,104.1" fill="#FC4E2A"/>
<polygon points="115.7,108.9 115.8,109.3 117.3,111.6 118.0,111.5 119.7,109.5 118.5,107.6 116.9,106.8 116.4,107.3" fill="#FC4E2A"/>
<polygon points="94.5,93.9 94.5,95.1 98.7,96.8 99.0,93.7" fill="#FED976"/>
<polygon points="102.9,111.3 100.9,110.2 100.4,111.0 102.0,112.2" fill="#FC4E2A"/>
<polygon points="123.7,113.6 122.2,114.2 121.6,116.0 123.7,117.7 124.7,117.5 125.6,116.7" fill="#FED976"/>
<polygon points="100.0,116.2 100.5,115.9 100.5,114.9 98.7,112.4 97.7,112.1 95.7,113.4 95.5,114.1" fill="#FED976"/>
<polygon points="63.7,133.8 64.7,131.9 63.0,133.0 63.1,133.8" fill="#FED976"/>
<polygon points="79.4,116.2 78.9,119.1 80.5,119.3 80.6,116.5 80.1,116.2 79.5,116.1" fill="#FED976"/>
<polygon points="53.0,118.8 55.1,121.3 58.1,120.8 55.1,117.5 53.4,118.2" fill="#FC4E2A"/>
<polygon points="78.7,126.6 80.0,127.0 80.2,126.9 80.6,123.8 80.5,123.7 77.1,125.2" fill="#FED976"/>
<polygon points="58.0,129.6 59.7,130.4 66.3,130.8 66.6,130.8 65.9,125.8 65.2,125.5 64.9,125.5 58.2,129.4" fill="#FED976"/>
<polygon points="87.3,89.5 85.9,90.6 86.0,91.8 87.4,93.1 90.1,91.4 89.7,90.4" fill="#FC4E2A"/>
<polygon points="67.4,148.7 67.5,145.7 67.4,145.7 63.7,146.5 63.7,146.5 65.9,148.5" fill="#FC4E2A"/>
<polygon points="59.5,121.7 57.8,122.9 56.6,126.9 57.5,129.8 58.0,129.6 58.2,129.4 60.3,123.1" fill="#FC4E2A"/>
<polygon points="78.7,126.6 77.1,125.2 75.2,124.5 75.4,127.5 75.6,128.3 77.1,128.5" fill="#FC4E2A"/>
<polygon points="75.2,124.5 74.2,123.0 72.4,122.9 72.3,128.2 75.4,127.5" fill="#FC4E2A"/>
<polygon points="77.8,118.8 78.2,119.5 78.9,119.1 79.4,116.2 78.0,116.7" fill="#FC4E2A"/>
<polygon points="91.1,54.5 90.5,54.2 88.1,55.7 89.2,59.8 92.7,57.7" fill="#FC4E2A"/>
<polygon points="106.2,87.3 107.0,86.3 107.1,86.2 106.1,83.9 102.2,85.2 101.0,86.8 104.1,88.1" fill="#FC4E2A"/>
<polygon points="101.6,96.9 102.6,98.1 104.3,98.0 104.5,97.9 105.2,96.2 102.1,96.1" fill="#FED976"/>
<polygon points="78.5,46.6 76.3,47.4 74.3,50.8 74.5,53.2 75.1,53.3 79.0,53.4 80.0,50.7" fill="#FC4E2A"/>
<polygon points="112.6,87.1 111.9,87.1 110.8,87.5 109.5,88.1 110.6,89.9" fill="#FC4E2A"/>
<polygon points="95.6,64.2 94.7,63.2 88.0,62.2 87.5,63.9 95.3,64.3" fill="#FED976"/>
<polygon points="105.1,72.3 103.9,73.6 104.4,75.7 105.1,76.2 108.1,73.7 108.3,73.1 105.2,72.3" fill="#FED976"/>
<polygon points="90.5,95.4 90.1,94.3 87.9,95.0 87.1,96.8 88.4,97.3" fill="#FED976"/>
<polygon points="68.8,66.0 68.4,69.0 68.6,69.7 69.7,70.8 75.7,69.5 75.6,65.7" fill="#FC4E2A"/>
<polygon points="95.2,74.2 96.7,76.9 99.2,75.1 98.6,74.1" fill="#FC4E2A"/>
<polygon points="87.3,88.8 88.7,86.0 88.6,85.8 86.4,85.1" fill="#FFFFCC"/>
<polygon points="60.6,145.7 60.4,145.7 58.7,148.6 60.5,152.4 61.4,151.5 62.2,147.8 62.2,146.7" fill="#FED976"/>
<polygon points="67.5,145.7 70.6,146.8 72.2,145.9 73.0,143.7 67.5,145.2 67.4,145.7" fill="#FED976"/>
<polygon points="63.7,146.5 62.2,146.7 62.2,147.8 64.6,150.1 65.9,148.5" fill="#FED976"/>
<polygon points="72.9,147.9 69.9,151.0 72.5,151.7 73.4,148.5" fill="#FC4E2A"/>
<polygon points="62.6,135.0 63.1,138.9 64.7,138.8 66.8,135.6 62.7,135.0" fill="#FC4E2A"/>
<polygon points="77.7,152.6 76.9,151.1 74.0,152.6 74.4,154.4 75.0,155.3 77.6,153.3" fill="#FED976"/>
<polygon points="62.1,142.5 62.0,141.6 56.5,141.1 55.0,142.4 54.9,143.1 60.4,145.7 60.6,145.7" fill="#FED976"/>
<polygon points="69.9,151.0 72.9,147.9 72.2,145.9 70.6,146.8 68.5,149.7 68.9,151.1" fill="#FED976"/>
<polygon points="88.7,6.4 83.5,11.6 90.0,16.7 95.1,11.6 97.7,5.8 93.2,1.5" fill="#FC4E2A"/>
<polygon points="94.6,11.5 95.4,14.6 100.3,14.6 100.3,4.4 97.3,6.1" fill="#FFFFCC"/>
<polygon points="61.7,25.7 60.4,30.2 61.7,30.8 72.0,37.3 73.3,36.0 66.8,27.0 64.3,21.9 59.8,20.6" fill="#FFFFCC"/>
<polygon points="69.4,30.8 74.6,30.8 84.8,34.7 87.4,29.6 77.1,24.4 66.8,25.7" fill="#FED976"/>
<polygon points="56.6,37.3 55.3,42.4 64.3,45.0 66.8,48.8 70.7,43.7 72.0,37.3 60.4,30.2" fill="#FED976"/>
<polygon points="47.6,51.4 45.0,57.8 56.6,55.3 65.6,54.0 66.8,48.8 64.3,45.0 55.3,42.4 52.1,43.7" fill="#FFFFCC"/>
<polygon points="40.5,60.4 39.2,64.3 39.8,68.3 51.8,68.3 55.3,64.3 59.1,59.1 56.6,55.3 44.3,57.8" fill="#FED976"/>
<polygon points="78.4,57.8 82.3,59.8 86.1,57.8 86.8,53.3 82.3,51.4 78.4,54.0" fill="#FFFFFF"/>
<polygon points="69.7,61.7 75.8,59.4 74.3,54.1 67.5,54.8" fill="#FC4E2A"/>
<polygon points="90.2,49.3 95.6,49.3 95.6,43.8 89.4,43.8" fill="#FED976"/>
<polygon points="79.3,52.0 84.2,51.2 82.6,44.8 78.5,48.0" fill="#FED976"/>
<polygon points="90.2,30.6 94.9,31.4 95.7,26.6 89.4,25.0" fill="#FED976"/>
<polygon points="74.6,64.1 79.5,64.1 80.3,59.2 75.4,60.0" fill="#FED976"/>
<polygon points="96.0,56.5 100.3,55.7 100.3,50.2 95.2,51.0" fill="#FC4E2A"/>
<polygon points="93.4,62.9 98.2,62.1 98.2,57.3 92.6,57.3" fill="#FED976"/>
<polygon points="101.3,14.1 104.5,12.5 103.0,8.0 99.7,6.4 99.7,13.3" fill="#FFFFCC"/>
<polygon points="104.2,10.0 107.5,13.4 114.1,12.6 113.2,8.4 104.2,9.9" fill="#FC4E2A"/>
<polygon points="115.4,21.8 121.5,17.3 118.0,15.5 112.0,19.2" fill="#FED976"/>
<polygon points="106.4,25.1 112.3,21.4 110.4,18.6 103.7,22.4" fill="#FFFFCC"/>
<polygon points="123.9,18.6 127.5,17.7 127.5,11.7 123.9,11.7" fill="#FED976"/>
<polygon points="122.9,26.9 126.9,26.1 126.1,20.6 120.5,22.2" fill="#FED976"/>
<polygon points="128.9,20.4 131.9,20.4 132.7,15.6 128.4,15.6" fill="#FC4E2A"/>
<polygon points="100.6,38.0 100.7,38.1 105.6,35.7 107.1,29.6 102.1,30.4" fill="#FC4E2A"/>
<polygon points="115.7,37.9 120.5,36.3 119.7,29.8 114.2,29.0" fill="#FC4E2A"/>
<polygon points="125.9,48.6 129.8,49.5 130.1,40.1 125.2,39.2" fill="#FC4E2A"/>
<polygon points="108.7,44.3 114.7,42.8 113.2,36.1 106.4,36.8" fill="#FC4E2A"/>
<polygon points="104.1,50.6 112.6,50.6 113.4,45.8 103.3,45.1" fill="#FC4E2A"/>
<polygon points="112.5,46.2 118.6,45.4 117.1,39.2 110.9,40.8" fill="#FED976"/>
<polygon points="120.2,42.2 125.6,43.0 125.6,36.8 118.6,36.8" fill="#FED976"/>
<polygon points="118.9,48.1 124.4,48.1 123.6,43.2 117.3,43.2" fill="#FFFFCC"/>
<polygon points="105.4,55.1 113.4,55.1 113.4,50.2 103.8,51.0" fill="#FED976"/>
<polygon points="111.8,57.7 117.1,57.7 118.0,52.7 111.0,54.3" fill="#FED976"/>
<polygon points="104.4,55.5 103.7,48.5 99.7,46.9 99.7,58.6" fill="#FC4E2A"/>
<polygon points="113.7,52.5 118.3,53.3 120.0,48.4 112.9,47.6" fill="#FC4E2A"/>
<polygon points="131.8,62.9 141.8,61.5 140.2,56.6 130.2,58.1" fill="#FED976"/>
<polygon points="145.0,61.7 151.4,64.3 157.8,61.7 159.1,56.6 155.3,52.7 147.6,53.3 143.7,59.1" fill="#FC4E2A"/>
<polygon points="134.4,67.4 144.6,65.9 141.4,61.2 132.0,62.6" fill="#FC4E2A"/>
<polygon points="158.7,64.8 163.6,64.8 162.1,58.6 157.2,59.4" fill="#FC4E2A"/>
<polygon points="160.4,55.3 163.0,57.8 166.8,62.3 172.0,56.6 177.1,49.5 179.4,45.6 177.1,43.1 173.9,41.8 160.4,43.7 155.9,50.1" fill="#FED976"/>
<polygon points="103.5,67.4 109.6,65.9 108.1,60.5 101.9,61.3" fill="#FC4E2A"/>
<polygon points="113.8,64.9 120.0,63.3 118.3,59.2 112.2,60.0" fill="#FC4E2A"/>
<polygon points="121.1,62.8 124.3,62.8 124.3,57.3 120.7,57.3" fill="#FED976"/>
<polygon points="103.7,30.0 103.7,25.7 99.7,26.5 99.7,30.8" fill="#FED976"/>
<polygon points="41.1,71.2 45.0,74.4 50.8,71.9 51.4,68.0 39.8,68.0" fill="#FED976"/>
<polygon points="43.1,79.6 43.7,86.0 47.6,89.9 52.7,92.4 54.0,83.4 55.3,74.4 50.8,72.5 45.0,75.1" fill="#FC4E2A"/>
<polygon points="58.5,89.9 60.4,91.1 64.3,87.3 63.6,79.6 60.4,78.3" fill="#FC4E2A"/>
<polygon points="37.3,94.1 45.0,94.9 42.8,85.5 39.5,85.5" fill="#FED976"/>
<polygon points="24.4,98.8 28.9,98.8 30.8,93.7 28.9,89.2 25.1,91.8" fill="#FC4E2A"/>
<polygon points="38.3,102.8 44.3,99.1 42.7,94.4 36.0,96.6" fill="#FC4E2A"/>
<polygon points="32.3,107.6 37.1,108.4 37.8,102.9 31.5,102.1" fill="#FC4E2A"/>
<polygon points="39.5,107.2 44.9,105.6 44.1,100.1 37.9,102.4" fill="#FED976"/>
<polygon points="43.5,98.2 47.3,107.1 53.3,105.6 51.8,99.7 43.6,98.2" fill="#FED976"/>
<polygon points="35.6,112.8 39.6,112.8 40.4,106.6 34.8,107.4" fill="#FC4E2A"/>
<polygon points="64.5,96.1 68.6,96.1 69.3,90.1 63.7,89.3" fill="#FED976"/>
<polygon points="60.6,100.6 64.8,101.4 64.1,93.3 59.9,92.4" fill="#FC4E2A"/>
<polygon points="65.1,103.1 69.2,103.9 70.0,96.4 64.4,96.4" fill="#FED976"/>
<polygon points="72.8,111.6 78.9,110.9 78.9,104.1 72.1,104.8" fill="#FED976"/>
<polygon points="71.9,87.9 77.0,85.0 76.2,80.1 68.6,83.9" fill="#FC4E2A"/>
<polygon points="78.3,80.3 84.2,75.9 82.5,72.4 75.8,76.9" fill="#FED976"/>
<polygon points="82.2,87.9 88.1,83.5 86.3,80.8 79.5,85.3" fill="#FED976"/>
<polygon points="80.6,93.0 85.3,92.2 85.3,86.7 79.1,87.5" fill="#FC4E2A"/>
<polygon points="70.4,73.7 75.1,72.9 75.1,68.1 68.7,68.9" fill="#FC4E2A"/>
<polygon points="79.7,71.9 84.8,71.9 87.4,75.7 92.5,74.4 92.5,68.0 78.4,68.0" fill="#FC4E2A"/>
<polygon points="96.0,71.7 100.3,71.7 100.3,68.0 100.3,68.0 100.3,67.9 100.3,67.9 100.3,67.9 100.3,67.9 100.2,67.8 100.2,67.8 100.2,67.8 100.2,67.8 100.2,67.8 100.1,67.7 100.1,67.7 100.1,67.7 100.1,67.7 100.0,67.7 100.0,67.7 95.2,67.7" fill="#FED976"/>
<polygon points="88.9,104.5 93.0,104.5 93.0,96.4 88.1,96.4" fill="#FED976"/>
<polygon points="92.7,105.0 96.9,105.9 96.9,97.8 92.3,97.0" fill="#FC4E2A"/>
<polygon points="92.2,110.2 97.5,111.0 98.3,104.8 90.6,104.8" fill="#FC4E2A"/>
<polygon points="97.2,93.6 100.3,93.6 100.3,87.4 96.5,87.4" fill="#FED976"/>
<polygon points="34.3,119.1 38.6,122.0 41.8,119.5 38.8,114.3 32.7,115.9" fill="#FFFFCC"/>
<polygon points="26.6,122.4 30.9,123.8 34.7,120.9 32.4,115.5 25.8,118.5" fill="#FC4E2A"/>
<polygon points="44.1,123.2 50.2,122.4 47.8,116.9 41.7,118.4" fill="#FC4E2A"/>
<polygon points="43.4,129.0 49.6,127.5 46.5,122.1 40.4,122.9" fill="#FED976"/>
<polygon points="51.7,125.1 57.1,125.1 57.1,121.2 50.8,121.5" fill="#FFFFCC"/>
<polygon points="58.7,126.9 62.8,127.7 63.5,120.9 57.9,120.1" fill="#FED976"/>
<polygon points="68.3,128.3 73.2,128.3 72.4,123.4 67.5,123.4" fill="#FFFFCC"/>
<polygon points="72.6,122.0 74.6,125.8 79.7,123.3 77.1,117.5 72.0,116.8" fill="#FC4E2A"/>
<polygon points="80.6,115.4 85.3,115.4 86.1,110.6 79.7,110.6" fill="#FC4E2A"/>
<polygon points="84.5,120.6 90.5,119.9 90.5,114.4 82.9,115.1" fill="#FED976"/>
<polygon points="78.4,132.3 84.8,131.0 83.5,124.6 75.8,127.1" fill="#FC4E2A"/>
<polygon points="68.1,136.0 77.1,134.8 75.8,129.7 66.8,131.0" fill="#FC4E2A"/>
<polygon points="87.0,126.4 92.5,125.6 91.7,120.1 85.5,120.9" fill="#FED976"/>
<polygon points="93.4,125.1 98.2,125.1 98.2,118.9 92.6,118.9" fill="#FC4E2A"/>
<polygon points="5.4,128.0 11.5,126.9 10.7,122.4 4.6,123.5" fill="#FC4E2A"/>
<polygon points="2.6,134.2 10.3,134.8 10.9,129.4 6.4,128.2 1.9,131.0" fill="#FFFFCC"/>
<polygon points="18.0,130.7 20.6,131.0 21.2,128.4 17.4,128.2" fill="#FFFFFF"/>
<polygon points="63.9,116.7 69.9,116.7 69.9,113.1 63.0,113.1" fill="#FED976"/>
<polygon points="58.7,120.5 63.4,121.3 64.2,117.1 57.9,116.3" fill="#FC4E2A"/>
<polygon points="104.2,71.5 107.5,75.6 115.0,75.6 115.1,75.4 111.1,70.7 104.2,71.5" fill="#FFFFCC"/>
<polygon points="111.9,72.3 116.5,73.8 117.3,67.7 109.6,67.7" fill="#FC4E2A"/>
<polygon points="124.4,71.9 127.6,75.1 132.1,74.4 133.4,68.0 125.7,68.0" fill="#FC4E2A"/>
<polygon points="140.9,74.3 146.9,73.6 145.4,67.7 135.1,67.7" fill="#FC4E2A"/>
<polygon points="105.7,80.6 104.9,74.6 99.7,74.6 99.7,81.4" fill="#FC4E2A"/>
<polygon points="105.4,82.7 110.7,81.9 111.5,77.7 104.5,78.5" fill="#FED976"/>
<polygon points="115.1,80.8 121.8,79.3 121.0,75.1 113.5,76.6" fill="#FED976"/>
<polygon points="111.2,87.9 117.3,86.4 116.5,80.9 109.7,81.7" fill="#FC4E2A"/>
<polygon points="116.9,88.5 122.4,87.7 122.4,82.9 116.1,83.6" fill="#FED976"/>
<polygon points="104.1,92.9 109.4,92.9 110.2,86.8 103.3,86.8" fill="#FC4E2A"/>
<polygon points="125.4,82.0 134.1,81.3 132.5,76.4 123.0,77.9" fill="#FC4E2A"/>
<polygon points="133.2,86.5 143.8,85.1 141.4,80.3 130.7,82.4" fill="#FED976"/>
<polygon points="135.0,81.4 140.9,81.4 141.8,77.8 134.1,77.8" fill="#FC4E2A"/>
<polygon points="121.5,98.1 127.5,97.4 127.5,93.1 120.6,93.9" fill="#FED976"/>
<polygon points="126.6,105.2 130.7,104.4 130.7,97.6 125.8,98.4" fill="#FED976"/>
<polygon points="124.7,93.6 130.0,93.6 130.8,88.6 123.8,89.4" fill="#FC4E2A"/>
<polygon points="105.4,100.7 111.4,99.9 112.2,95.1 104.6,95.1" fill="#FC4E2A"/>
<polygon points="105.7,107.1 105.0,100.3 99.7,99.6 99.7,107.1" fill="#FC4E2A"/>
<polygon points="107.3,109.0 112.6,109.0 113.4,103.5 106.5,103.5" fill="#FC4E2A"/>
<polygon points="110.6,113.6 115.3,112.1 114.6,103.9 108.4,106.3" fill="#FED976"/>
<polygon points="136.0,110.4 139.2,111.7 141.8,105.3 140.5,99.5 136.0,103.3" fill="#FC4E2A"/>
<polygon points="142.4,113.6 151.0,107.2 147.6,104.7 139.1,110.3" fill="#FED976"/>
<polygon points="151.6,108.3 155.7,108.3 156.5,103.4 150.8,104.2" fill="#FED976"/>
<polygon points="149.1,118.1 154.6,117.3 153.8,111.8 148.3,112.6" fill="#FED976"/>
<polygon points="128.6,118.1 134.7,116.6 133.1,110.5 127.0,112.0" fill="#FED976"/>
<polygon points="123.4,121.9 129.6,121.1 128.0,115.6 121.8,117.1" fill="#FC4E2A"/>
<polygon points="129.2,123.8 134.6,123.0 133.8,118.2 128.3,119.0" fill="#FED976"/>
<polygon points="134.3,120.6 139.1,119.8 138.3,115.0 133.5,115.8" fill="#FC4E2A"/>
<polygon points="146.3,122.0 151.4,125.2 158.5,129.7 161.1,127.8 156.6,123.3 146.9,117.5 144.3,118.8" fill="#FED976"/>
<polygon points="138.8,125.1 145.0,124.3 143.4,118.9 137.3,119.6" fill="#FED976"/>
<polygon points="127.6,134.8 138.6,133.6 136.0,129.1 126.3,129.7" fill="#FED976"/>
<polygon points="118.2,133.5 124.3,132.7 123.6,126.6 117.4,127.3" fill="#FC4E2A"/>
<polygon points="109.9,125.8 114.6,125.0 114.6,118.8 109.1,119.6" fill="#FC4E2A"/>
<polygon points="100.9,122.5 104.9,122.5 105.7,117.0 100.1,117.0" fill="#FC4E2A"/>
<polygon points="101.5,133.5 107.6,132.7 106.9,127.2 100.7,128.0" fill="#FC4E2A"/>
<polygon points="116.3,127.0 121.1,127.0 121.1,122.8 115.5,122.8" fill="#FED976"/>
<polygon points="108.6,134.1 112.6,134.1 113.5,129.8 107.7,129.8" fill="#FFFFCC"/>
<polygon points="178.4,100.1 184.8,98.8 186.1,93.7 182.3,91.1 174.6,93.7" fill="#FC4E2A"/>
<polygon points="172.2,101.3 178.3,101.3 178.3,97.0 171.4,97.8" fill="#FED976"/>
<polygon points="166.8,120.7 171.3,120.7 173.9,115.6 172.0,109.8 165.6,110.4" fill="#FC4E2A"/>
<polygon points="172.8,120.6 179.7,119.8 177.5,113.8 172.1,113.8" fill="#FED976"/>
<polygon points="162.5,112.9 167.4,112.1 166.7,103.5 161.8,103.5" fill="#FC4E2A"/>
<polygon points="165.8,108.3 169.2,108.3 170.0,104.2 164.9,103.4" fill="#FED976"/>
<polygon points="174.8,107.8 180.3,107.0 179.5,101.6 173.3,101.6" fill="#FC4E2A"/>
<polygon points="179.9,112.3 184.8,111.5 184.0,106.6 179.1,107.4" fill="#FFFFCC"/>
<polygon points="184.8,110.4 190.0,112.3 190.3,112.5 190.3,102.3 190.0,102.1 183.5,105.3" fill="#FC4E2A"/>
<polygon points="187.4,129.7 182.6,136.3 190.0,136.3 190.0,136.3 190.1,136.3 190.1,136.3 190.1,136.3 190.1,136.3 190.2,136.2 190.2,136.2 190.2,136.2 190.2,136.2 190.2,136.2 190.3,136.1 190.3,136.1 190.3,136.1 190.3,136.1 190.3,136.0 190.3,136.0 190.3,128.5" fill="#FED976"/>
<polygon points="161.0,123.8 163.9,135.5 168.8,133.9 165.9,125.4 161.0,123.8" fill="#FC4E2A"/>
<polygon points="190.0,116.8 199.6,115.6 199.6,107.8 195.8,103.3 190.0,104.0" fill="#FC4E2A"/>
<polygon points="200.0,114.9 204.1,116.2 213.1,114.9 200.3,107.2" fill="#FED976"/>
<polygon points="193.6,120.3 203.7,120.3 202.9,116.8 193.2,117.5" fill="#FC4E2A"/>
<polygon points="224.6,120.3 229.7,120.3 224.7,118.8" fill="#FC4E2A"/>
<polygon points="190.0,120.3 193.5,120.3 193.2,118.8 190.0,119.4" fill="#FED976"/>
<polygon points="27.0,150.8 32.1,155.3 38.6,160.4 41.8,161.1 41.8,156.6 37.3,151.4 37.9,146.3 35.3,141.1 32.1,143.1 27.6,141.8 21.9,145.6" fill="#FC4E2A"/>
<polygon points="41.4,165.5 45.4,164.7 46.3,159.7 40.6,161.4" fill="#FC4E2A"/>
<polygon points="46.5,154.6 52.1,153.0 49.9,147.1 45.0,146.3" fill="#FED976"/>
<polygon points="54.2,148.1 59.0,147.3 58.3,141.8 53.4,143.4" fill="#FC4E2A"/>
<polygon points="52.5,158.4 59.2,157.6 56.8,152.0 50.0,155.1" fill="#FC4E2A"/>
<polygon points="49.7,141.0 53.8,141.0 54.6,136.1 48.9,136.9" fill="#FC4E2A"/>
<polygon points="79.3,144.3 84.7,143.5 84.0,136.8 77.8,136.8" fill="#FC4E2A"/>
<polygon points="44.6,139.1 49.2,139.1 50.1,135.7 43.8,135.7" fill="#FED976"/>
<polygon points="73.5,151.4 79.6,149.9 78.8,145.0 72.7,146.6" fill="#FFFFCC"/>
<polygon points="80.5,150.6 84.7,150.6 84.7,145.2 79.8,144.4" fill="#FED976"/>
<polygon points="75.2,164.3 81.1,159.2 78.4,156.5 71.8,161.7" fill="#FC4E2A"/>
<polygon points="68.7,163.7 74.7,159.2 72.0,156.5 66.1,161.0" fill="#FED976"/>
<polygon points="81.9,162.3 87.3,161.5 86.5,156.0 80.3,156.8" fill="#FC4E2A"/>
<polygon points="76.7,166.7 80.1,166.7 80.9,160.3 75.9,162.0" fill="#FED976"/>
<polygon points="65.8,171.8 71.2,171.8 71.2,166.3 65.0,166.3" fill="#FED976"/>
<polygon points="72.2,177.7 77.0,176.9 77.0,170.1 71.4,170.9" fill="#FED976"/>
<polygon points="62.5,179.7 66.7,178.8 66.7,172.1 61.8,172.1" fill="#FED976"/>
<polygon points="67.5,181.0 70.1,184.8 75.8,184.2 76.5,180.3 72.0,175.2 66.8,176.5" fill="#FC4E2A"/>
<polygon points="79.3,179.6 85.9,178.9 86.7,173.3 77.7,174.8" fill="#FC4E2A"/>
<polygon points="90.3,176.5 95.7,174.9 94.9,169.4 88.7,171.0" fill="#FC4E2A"/>
<polygon points="89.6,181.5 95.1,180.8 94.2,175.9 88.0,176.7" fill="#FC4E2A"/>
<polygon points="95.3,180.2 100.3,180.2 100.3,173.4 94.6,174.1" fill="#FED976"/>
<polygon points="96.0,166.8 100.3,166.0 100.3,160.5 95.2,161.3" fill="#FED976"/>
<polygon points="93.2,162.3 96.4,162.3 96.4,158.5 92.5,159.1" fill="#FFFFFF"/>
<polygon points="53.5,182.1 57.8,182.1 57.0,174.6 52.8,175.4" fill="#FED976"/>
<polygon points="55.3,188.7 61.1,190.0 61.1,181.6 57.2,181.6 54.6,184.2" fill="#FED976"/>
<polygon points="61.4,187.4 63.0,191.3 70.1,196.4 74.6,193.2 74.6,187.4 70.1,184.8 66.8,181.6 61.7,181.0" fill="#FED976"/>
<polygon points="54.5,188.7 57.5,196.2 63.3,198.3 64.9,194.3 59.4,190.2 54.6,188.6" fill="#FC4E2A"/>
<polygon points="91.9,194.5 100.0,194.5 100.0,183.6 91.9,184.8" fill="#FC4E2A"/>
<polygon points="77.1,199.6 81.8,204.3 95.2,204.3 96.4,199.0 90.0,195.8 79.7,195.1 72.0,196.4" fill="#FC4E2A"/>
<polygon points="87.6,139.7 92.3,139.7 93.1,135.7 86.8,135.7" fill="#FED976"/>
<polygon points="60.0,146.2 64.8,145.4 64.8,141.2 59.2,142.0" fill="#FC4E2A"/>
<polygon points="92.1,155.1 96.3,155.1 96.3,150.9 91.3,150.9" fill="#FED976"/>
<polygon points="149.5,146.9 155.3,148.2 162.3,148.9 163.0,141.1 157.8,137.3 151.4,137.9 148.2,144.4" fill="#FC4E2A"/>
<polygon points="182.9,140.5 187.4,143.7 190.3,142.3 190.3,136.0 181.6,136.0" fill="#FED976"/>
<polygon points="146.9,161.1 153.3,163.6 156.6,161.1 154.0,156.6 148.2,152.7 145.0,157.2" fill="#FED976"/>
<polygon points="134.5,159.7 139.8,158.2 138.3,152.0 131.4,155.1" fill="#FC4E2A"/>
<polygon points="130.2,163.6 130.8,170.1 136.0,172.0 141.1,170.7 138.6,166.8 137.9,161.1 133.4,157.2 127.6,157.9" fill="#FED976"/>
<polygon points="147.8,174.6 151.4,175.2 152.7,169.4 152.1,163.6 148.2,164.3" fill="#FC4E2A"/>
<polygon points="123.1,172.6 127.6,175.2 130.2,172.0 130.2,165.6 125.7,167.5 121.9,166.2" fill="#FC4E2A"/>
<polygon points="163.6,169.4 166.8,174.6 177.1,174.6 185.5,173.3 187.4,164.9 177.1,161.7 172.0,157.9 169.4,155.3 168.1,159.1 163.0,162.3" fill="#FED976"/>
<polygon points="190.3,167.8 190.3,164.2 187.4,164.9" fill="#FED976"/>
<polygon points="171.3,190.0 172.6,195.8 177.1,193.8 183.5,188.1 190.3,186.1 190.3,174.9 185.5,173.3 174.6,175.8 170.1,184.2" fill="#FED976"/>
<polygon points="177.8,201.6 182.3,202.2 190.0,199.0 190.3,198.7 190.3,186.1 183.5,188.1 177.1,194.5" fill="#FC4E2A"/>
<polygon points="171.8,202.1 178.3,202.1 177.6,195.3 172.4,195.3 168.0,199.0" fill="#FC4E2A"/>
<polygon points="117.4,189.3 122.5,192.6 127.6,193.2 130.2,187.4 131.5,179.7 125.7,174.6 119.3,175.8 116.7,187.4" fill="#FED976"/>
<polygon points="116.7,196.4 120.6,202.2 128.3,200.3 136.0,199.0 137.3,193.2 127.6,193.8 122.5,193.2 114.1,190.6" fill="#FED976"/>
<polygon points="105.8,199.0 112.9,198.3 115.4,191.3 114.1,186.1 104.5,188.7" fill="#FC4E2A"/>
<polygon points="103.7,192.8 103.7,185.1 99.7,183.5 99.7,195.2" fill="#FC4E2A"/>
<polygon points="104.8,183.5 110.3,182.0 108.7,176.6 103.2,177.4" fill="#FC4E2A"/>
<polygon points="101.5,177.8 107.0,176.2 106.2,171.4 100.7,172.2" fill="#FED976"/>
<polygon points="126.7,147.5 132.8,146.0 131.2,141.9 124.3,142.7" fill="#FFFFCC"/>
<polygon points="113.1,155.2 121.8,154.4 121.0,148.9 112.3,150.4" fill="#FC4E2A"/>
<polygon points="114.4,149.4 119.8,149.4 119.8,144.4 113.5,145.2" fill="#FC4E2A"/>
<polygon points="132.4,146.9 138.4,145.4 139.2,139.9 130.9,141.4" fill="#FC4E2A"/>
<polygon points="121.5,142.3 128.9,141.6 128.1,136.7 119.9,137.5" fill="#FED976"/>
<polygon points="112.5,144.4 116.7,142.7 115.2,136.7 111.0,137.5" fill="#FED976"/>
<polygon points="106.1,146.8 111.5,146.1 110.7,140.6 104.5,141.4" fill="#FC4E2A"/>
<polygon points="108.0,167.5 113.4,165.9 112.6,160.5 106.4,161.3" fill="#FC4E2A"/>
<polygon points="115.6,169.3 121.1,168.6 121.1,163.8 114.8,163.8" fill="#FC4E2A"/>
<polygon points="112.5,165.5 116.6,164.7 116.6,160.5 111.6,161.3" fill="#FC4E2A"/>
<polygon points="195.1,129.0 196.4,139.3 206.1,138.6 203.5,120.0 194.5,120.0" fill="#FC4E2A"/>
<polygon points="190.0,138.0 195.8,135.4 194.5,127.1 190.0,127.7" fill="#FED976"/>
<polygon points="224.1,127.7 226.0,136.7 223.4,139.3 224.7,143.8 238.8,145.1 241.4,141.9 251.7,132.9 254.3,127.7 231.1,120.0 224.1,120.0" fill="#FC4E2A"/>
<polygon points="251.7,132.9 246.6,139.9 241.4,145.7 243.3,163.1 249.1,166.3 265.8,149.6 278.7,136.7 282.5,131.6 263.3,131.3 254.3,127.7" fill="#FED976"/>
<polygon points="204.1,156.0 208.0,161.1 222.1,161.1 226.6,158.6 224.1,147.6 223.4,139.3 217.0,138.6 203.5,140.6 202.2,150.8" fill="#FED976"/>
<polygon points="193.9,167.6 202.9,171.4 209.3,174.6 212.5,170.8 217.6,172.7 220.8,174.0 222.1,161.8 208.0,161.1 197.7,163.1 190.0,164.3" fill="#FED976"/>
<polygon points="220.2,176.6 217.6,172.7 212.5,170.8 207.4,176.6 206.1,188.3 215.9,188.3" fill="#FC4E2A"/>
<polygon points="195.1,184.5 193.7,176.9 189.7,174.5 189.7,187.6" fill="#FED976"/>
<polygon points="88.6,207.3 93.7,210.5 96.3,208.6 94.3,204.7 94.8,203.7 82.6,203.7" fill="#FC4E2A"/>
<polygon points="101.4,213.4 109.1,213.1 109.8,206.6 106.6,206.0 101.4,208.6" fill="#FED976"/>
<polygon points="205.6,188.9 213.9,188.9 214.6,187.7 205.7,187.7" fill="#FC4E2A"/>
<polygon points="191.4,196.0 198.5,190.2 196.9,187.7 190.0,187.7 190.0,187.7 189.9,187.7 189.9,187.7 189.9,187.7 189.9,187.7 189.8,187.8 189.8,187.8 189.8,187.8 189.8,187.8 189.8,187.8 189.7,187.9 189.7,187.9 189.7,187.9 189.7,187.9 189.7,188.0 189.7,188.0 189.7,197.4" fill="#FC4E2A"/>
<polygon points="83.6,27.0 84.6,29.9 93.3,32.4 103.9,31.8 101.0,28.9" fill="#FED976"/>
<polygon points="104.8,37.6 104.8,45.3 110.6,47.2 116.4,43.4 114.5,38.6" fill="#FC4E2A"/>
<polygon points="96.2,48.2 97.1,55.9 104.8,54.9 103.9,46.3" fill="#FC4E2A"/>
<polygon points="66.3,50.1 68.2,54.9 79.8,54.0 77.8,49.2" fill="#FED976"/>
<polygon points="77.8,69.4 76.9,76.2 81.7,81.0 90.4,77.1 87.5,68.4" fill="#FC4E2A"/>
</g>
<polygon points="93.2,1.5 97.7,5.8 100.0,5.8 103.9,7.7 112.9,9.0 116.7,6.4 123.8,5.1 129.6,9.0 134.7,7.7 138.6,10.3 142.4,10.9 151.4,18.0 157.8,24.4 164.3,30.8 169.4,36.0 173.9,41.8 177.1,43.1 179.4,45.6 177.1,49.5 172.0,56.6 166.8,62.3 165.6,63.0 164.9,68.0 165.6,71.9 169.4,75.7 178.4,73.8 184.8,73.1 188.7,75.1 185.5,82.1 185.5,87.3 188.7,91.8 192.5,95.0 195.8,101.4 201.6,106.6 213.1,114.9 224.7,118.8 241.4,123.9 253.0,127.8 263.3,131.0 282.5,131.3 278.7,136.7 265.8,149.6 249.1,166.3 236.3,180.4 228.6,188.0 226.1,189.6 214.6,189.6 205.6,189.6 197.8,191.5 190.1,197.3 183.7,201.8 177.3,203.1 170.8,203.7 164.4,207.6 154.1,207.6 147.7,202.4 145.1,204.7 137.4,208.6 128.4,214.3 124.6,217.6 119.4,215.6 110.4,215.0 101.4,213.7 93.7,210.5 88.6,207.3 82.1,203.4 75.7,198.9 70.6,195.7 64.1,196.3 57.7,197.0 55.1,189.3 54.0,183.6 51.4,180.3 44.3,181.0 42.4,175.8 38.6,170.7 37.9,165.6 39.8,163.6 38.6,160.4 32.1,155.3 27.0,150.8 25.0,148.2 21.7,144.4 19.3,140.5 14.5,137.6 10.6,135.7 6.8,136.2 1.9,134.7 1.4,131.8 5.3,128.0 4.8,125.1 6.8,122.7 12.5,123.1 18.3,122.7 22.7,119.3 22.5,113.0 21.9,105.3 23.1,100.1 23.8,93.7 27.6,89.9 26.3,87.3 25.7,82.1 30.8,77.0 39.2,75.7 38.6,70.6 39.8,68.0 39.2,64.3 40.5,60.4 44.3,57.8 47.6,51.4 52.0,43.7 55.3,42.4 56.6,37.3 60.4,30.2 61.7,25.7 59.8,20.6 64.3,21.2 63.0,18.0 64.3,14.8 72.0,12.9 79.7,10.3 83.5,11.6 88.7,6.4" fill="none" stroke="#000" stroke-width="0.55" stroke-linejoin="round"/>
</g>
<g transform="translate(413.3,0)">
<polygon points="93.2,1.5 97.7,5.8 100.0,5.8 103.9,7.7 112.9,9.0 116.7,6.4 123.8,5.1 129.6,9.0 134.7,7.7 138.6,10.3 142.4,10.9 151.4,18.0 157.8,24.4 164.3,30.8 169.4,36.0 173.9,41.8 177.1,43.1 179.4,45.6 177.1,49.5 172.0,56.6 166.8,62.3 165.6,63.0 164.9,68.0 165.6,71.9 169.4,75.7 178.4,73.8 184.8,73.1 188.7,75.1 185.5,82.1 185.5,87.3 188.7,91.8 192.5,95.0 195.8,101.4 201.6,106.6 213.1,114.9 224.7,118.8 241.4,123.9 253.0,127.8 263.3,131.0 282.5,131.3 278.7,136.7 265.8,149.6 249.1,166.3 236.3,180.4 228.6,188.0 226.1,189.6 214.6,189.6 205.6,189.6 197.8,191.5 190.1,197.3 183.7,201.8 177.3,203.1 170.8,203.7 164.4,207.6 154.1,207.6 147.7,202.4 145.1,204.7 137.4,208.6 128.4,214.3 124.6,217.6 119.4,215.6 110.4,215.0 101.4,213.7 93.7,210.5 88.6,207.3 82.1,203.4 75.7,198.9 70.6,195.7 64.1,196.3 57.7,197.0 55.1,189.3 54.0,183.6 51.4,180.3 44.3,181.0 42.4,175.8 38.6,170.7 37.9,165.6 39.8,163.6 38.6,160.4 32.1,155.3 27.0,150.8 25.0,148.2 21.7,144.4 19.3,140.5 14.5,137.6 10.6,135.7 6.8,136.2 1.9,134.7 1.4,131.8 5.3,128.0 4.8,125.1 6.8,122.7 12.5,123.1 18.3,122.7 22.7,119.3 22.5,113.0 21.9,105.3 23.1,100.1 23.8,93.7 27.6,89.9 26.3,87.3 25.7,82.1 30.8,77.0 39.2,75.7 38.6,70.6 39.8,68.0 39.2,64.3 40.5,60.4 44.3,57.8 47.6,51.4 52.0,43.7 55.3,42.4 56.6,37.3 60.4,30.2 61.7,25.7 59.8,20.6 64.3,21.2 63.0,18.0 64.3,14.8 72.0,12.9 79.7,10.3 83.5,11.6 88.7,6.4" fill="#800026" stroke="#000" stroke-width="0.55" stroke-linejoin="round"/>
<g clip-path="url(#clipEth)">
<use href="#mesh"/>
<polygon points="107.5,92.5 107.4,93.1 109.7,93.5 111.4,92.3 110.7,90.4 110.6,90.3" fill="#FED976"/>
<polygon points="73.4,117.7 71.9,122.7 72.4,122.9 74.2,123.0 75.7,121.7 75.4,118.2 74.2,117.8" fill="#FC4E2A"/>
<polygon points="85.4,73.8 88.2,75.3 85.9,72.3" fill="#FC4E2A"/>
<polygon points="115.1,135.8 116.6,134.5 115.4,131.5 115.4,131.5 113.4,132.9 113.0,134.3 114.2,136.2" fill="#FC4E2A"/>
<polygon points="73.7,164.6 73.8,164.2 72.6,162.5 71.4,161.9 70.4,162.5 69.1,164.6 69.9,165.3" fill="#FC4E2A"/>
<polygon points="76.2,132.9 76.8,135.0 78.6,134.3 77.8,132.7 77.3,132.2" fill="#FFFFCC"/>
<polygon points="73.5,136.8 75.2,139.9 76.6,138.7 77.3,138.0 76.5,136.8" fill="#FC4E2A"/>
<polygon points="112.7,138.7 113.1,140.6 117.5,140.3 118.8,139.9 115.1,135.8 114.2,136.2" fill="#FC4E2A"/>
<polygon points="75.4,118.2 75.7,121.7 76.9,121.3 78.2,119.5 77.8,118.8 76.4,116.9 76.2,116.8" fill="#FC4E2A"/>
<polygon points="121.7,143.0 124.5,143.8 126.2,142.7 124.2,139.1 120.9,141.1" fill="#FC4E2A"/>
<polygon points="87.5,110.4 89.0,108.9 88.1,106.5 87.2,106.2 86.2,108.5 86.5,109.6" fill="#FC4E2A"/>
<polygon points="127.8,75.2 127.3,79.4 127.9,80.3 130.5,79.1 132.0,77.3 131.1,74.2 130.2,73.6" fill="#FC4E2A"/>
<polygon points="102.9,121.0 102.8,121.1 103.4,123.0 103.7,123.5 105.0,124.1 105.2,124.1 106.9,122.8 106.3,121.8" fill="#FED976"/>
<polygon points="137.9,92.4 136.6,88.9 134.6,88.5 133.8,90.4 134.0,92.0 137.3,93.4" fill="#FC4E2A"/>
<polygon points="111.6,97.8 110.7,95.8 107.9,96.4 108.1,97.2 110.0,98.0 111.5,98.0" fill="#FFFFCC"/>
<polygon points="68.2,106.4 66.2,107.3 66.0,107.7 66.7,111.3 68.3,111.0 69.1,107.6" fill="#FED976"/>
<polygon points="69.3,139.2 70.0,142.1 73.1,143.1 73.2,143.1 71.9,138.5" fill="#FC4E2A"/>
<polygon points="76.9,78.9 78.0,74.7 77.7,74.3 70.9,76.8 70.3,78.5 72.9,81.0 73.8,81.6" fill="#FC4E2A"/>
<polygon points="154.8,101.4 153.9,102.9 153.0,106.3 153.7,106.7 155.4,107.1 160.3,105.5 160.6,104.9 159.6,101.4 158.2,101.1" fill="#FC4E2A"/>
<polygon points="93.4,74.4 92.7,76.0 94.3,79.4 96.1,79.4 96.6,79.0 96.7,76.9 95.2,74.2 95.0,73.9" fill="#FC4E2A"/>
<polygon points="94.3,162.6 96.1,164.0 100.0,163.1 101.3,159.2 100.1,157.8 97.1,159.3 94.3,162.5" fill="#FC4E2A"/>
<polygon points="155.1,126.3 160.0,128.7 161.0,127.7 160.0,123.5 159.5,122.2 155.1,121.9 154.7,124.7" fill="#FED976"/>
<polygon points="60.7,102.8 61.9,102.7 59.7,99.5" fill="#FC4E2A"/>
<polygon points="110.8,81.4 109.1,81.8 109.0,81.9 111.1,84.1 111.4,83.8" fill="#FC4E2A"/>
<polygon points="45.1,128.2 45.0,129.5 45.3,130.0 47.6,127.4 45.8,125.0" fill="#FC4E2A"/>
<polygon points="66.3,130.8 59.7,130.4 60.6,131.3 63.0,133.0 64.7,131.9" fill="#FC4E2A"/>
<polygon points="81.7,66.0 81.6,66.7 83.7,68.8 86.1,65.7 86.2,65.4" fill="#FC4E2A"/>
<polygon points="98.9,55.2 96.1,53.8 92.7,57.7 92.7,57.7 98.0,57.9 98.2,57.7 99.8,55.9" fill="#FC4E2A"/>
<polygon points="141.7,132.3 142.4,133.8 148.2,132.5 148.4,131.9 147.6,129.4 143.6,129.9" fill="#FC4E2A"/>
<polygon points="90.8,87.8 89.7,90.4 90.1,91.4 90.5,91.8 93.9,92.2 94.8,90.9 91.4,87.5" fill="#FC4E2A"/>
<polygon points="107.5,110.7 106.1,110.6 104.7,111.7 104.6,111.8 105.6,114.0 107.3,114.6 107.8,113.0" fill="#FED976"/>
<polygon points="92.6,123.9 95.5,120.8 96.0,118.7 94.6,117.9 93.3,118.8 91.7,121.8 91.5,123.6" fill="#FC4E2A"/>
<polygon points="119.2,158.9 118.2,157.8 117.3,157.9 116.3,161.5 119.1,160.5" fill="#FC4E2A"/>
<polygon points="116.3,128.6 116.4,128.6 117.0,127.1 116.7,125.7 115.1,123.6 114.7,124.7 114.4,127.6" fill="#FC4E2A"/>
<polygon points="63.5,76.1 64.4,80.1 66.1,79.6 66.7,71.5 64.9,72.9" fill="#FC4E2A"/>
<polygon points="85.7,174.0 83.7,177.5 89.1,178.9 90.0,176.0" fill="#FC4E2A"/>
<polygon points="78.5,155.8 77.8,155.8 75.8,158.0 75.7,158.4 77.5,160.4 78.2,160.7 79.1,159.3 79.3,156.1" fill="#FC4E2A"/>
<polygon points="114.2,155.3 116.5,157.6 117.3,157.9 118.2,157.8 119.8,154.4 119.2,152.2 116.4,151.1 115.7,151.9" fill="#FC4E2A"/>
<polygon points="142.4,133.8 141.7,132.3 139.7,131.2 138.4,132.1 137.8,134.1 139.5,138.0 139.9,137.9 142.4,134.8" fill="#FC4E2A"/>
<polygon points="73.0,49.9 69.3,44.3 67.7,49.1 68.0,49.5 69.8,49.7" fill="#FC4E2A"/>
<polygon points="147.3,122.5 150.1,119.0 148.9,115.7 148.7,115.5 145.5,115.9 144.8,122.4" fill="#FC4E2A"/>
<polygon points="47.3,142.3 50.6,145.4 53.5,144.6 54.9,143.1 48.2,139.3" fill="#FC4E2A"/>
<polygon points="160.5,117.1 163.0,118.1 163.8,111.3 163.3,110.7 159.5,111.7" fill="#FC4E2A"/>
<polygon points="105.1,119.6 106.3,121.2 106.4,121.0 106.8,119.2 106.1,119.0" fill="#FC4E2A"/>
<polygon points="140.3,119.1 140.7,115.5 138.0,114.5 135.2,115.7 133.9,118.5 136.2,119.4" fill="#FC4E2A"/>
<polygon points="72.0,100.1 70.6,102.0 72.3,103.2 74.3,100.6" fill="#FC4E2A"/>
<polygon points="43.9,111.6 44.0,112.1 47.7,112.4 50.7,110.8 48.0,106.3" fill="#FC4E2A"/>
<polygon points="113.2,116.7 115.3,119.3 117.1,117.0 115.7,114.2" fill="#FC4E2A"/>
<polygon points="81.0,81.5 80.0,83.0 82.0,86.4 82.6,86.9 83.0,86.7 85.4,84.7 82.9,81.1" fill="#FC4E2A"/>
<polygon points="71.9,107.4 73.7,106.3 73.7,105.9 72.9,105.3 69.8,104.9 68.4,105.5 68.2,106.4 69.1,107.6 69.1,107.7" fill="#FC4E2A"/>
<polygon points="107.0,60.9 104.5,55.2 104.3,55.2 102.7,55.7 102.6,60.9 106.7,61.2" fill="#FC4E2A"/>
<polygon points="62.9,108.8 62.1,109.4 62.8,111.3 65.5,112.3 66.7,111.3 66.0,107.7" fill="#FC4E2A"/>
<polygon points="47.8,99.0 48.3,99.5 51.6,101.6 52.2,96.9 50.4,94.0 47.7,95.1" fill="#FC4E2A"/>
<polygon points="110.8,81.4 111.3,79.7 111.1,79.0 110.9,78.7 109.6,78.4 109.1,81.8" fill="#FED976"/>
<polygon points="128.4,94.9 130.4,96.5 132.6,95.7 132.6,94.4 130.1,93.0 128.8,93.6" fill="#FC4E2A"/>
<polygon points="115.7,114.2 117.1,117.0 119.1,117.5 119.0,112.3 118.0,111.5 117.3,111.6 115.8,113.1" fill="#FC4E2A"/>
<polygon points="130.9,139.2 126.7,142.2 126.5,142.6 129.3,143.9 130.9,141.7" fill="#FC4E2A"/>
<polygon points="61.4,98.5 59.6,99.3 59.7,99.5 61.9,102.7 62.2,102.8 61.9,99.1" fill="#FC4E2A"/>
<polygon points="155.3,135.5 157.5,131.9 153.4,129.3 152.5,131.2 154.8,135.7" fill="#FED976"/>
<polygon points="140.9,108.9 142.0,110.1 143.9,109.3 146.5,104.8 144.5,104.5 143.9,105.1" fill="#FC4E2A"/>
<polygon points="81.2,113.6 78.8,115.0 79.2,115.7 81.2,113.6" fill="#FC4E2A"/>
<polygon points="134.7,141.3 131.0,139.1 130.9,139.2 130.9,141.7 132.6,142.5" fill="#FC4E2A"/>
<polygon points="104.1,69.5 102.9,69.2 101.7,71.2 101.5,73.1 103.9,73.6 105.1,72.3" fill="#FC4E2A"/>
<polygon points="98.2,98.8 95.6,97.4 95.4,99.1" fill="#FC4E2A"/>
<polygon points="88.1,55.7 90.5,54.2 88.2,50.7 87.1,50.7 85.5,51.1 84.5,52.8 84.8,53.9 86.7,56.1" fill="#FC4E2A"/>
<polygon points="129.5,117.3 129.7,116.6 129.1,112.9 128.2,112.2 127.1,112.5 127.6,117.3 127.6,117.3" fill="#FED976"/>
<polygon points="75.0,155.3 74.4,154.4 71.2,156.6 72.0,157.9 74.6,158.5 75.7,158.4 75.8,158.0" fill="#FC4E2A"/>
<polygon points="100.1,85.6 99.9,84.2 99.0,83.8 96.4,83.6 95.9,85.0 96.9,85.3" fill="#FC4E2A"/>
<polygon points="109.0,81.9 106.5,82.7 105.9,83.2 106.1,83.9 107.1,86.2 110.6,84.5 110.9,84.3 111.1,84.1" fill="#FED976"/>
<polygon points="63.5,103.9 59.4,107.1 61.7,109.2 62.1,109.4 62.9,108.8 63.9,105.0" fill="#FC4E2A"/>
<polygon points="123.8,128.0 123.1,129.9 123.9,131.1 125.1,131.4 126.9,130.4" fill="#FC4E2A"/>
<polygon points="57.0,105.0 53.9,104.0 52.7,110.0 54.7,111.3 58.1,108.5 58.9,106.9" fill="#FC4E2A"/>
<polygon points="128.7,85.8 130.0,88.3 134.3,87.4 134.2,86.2 133.5,86.0" fill="#FC4E2A"/>
<polygon points="124.2,84.1 124.2,84.1 121.4,82.7 121.3,82.8 121.8,85.9" fill="#FED976"/>
<polygon points="101.4,134.6 101.6,134.9 104.0,135.3 104.6,134.7 104.2,134.1 103.8,133.5 101.4,134.4" fill="#FC4E2A"/>
<polygon points="89.5,148.9 88.4,149.6 88.4,149.9 90.1,151.8 91.0,149.4 90.3,148.7" fill="#FC4E2A"/>
<polygon points="87.6,76.8 87.7,76.7 84.7,74.6 84.9,76.7" fill="#FC4E2A"/>
<polygon points="63.9,105.0 62.9,108.8 66.0,107.7 66.2,107.3" fill="#FED976"/>
<polygon points="71.1,86.9 69.8,89.4 73.3,90.3 74.5,87.4" fill="#FC4E2A"/>
<polygon points="66.1,79.6 70.3,78.5 70.9,76.8 70.5,73.3 69.7,70.8 68.6,69.7 66.7,71.5" fill="#FED976"/>
<polygon points="101.0,149.7 100.8,149.7 99.5,151.5 99.4,152.0 101.1,154.8 101.2,154.8 103.6,153.0 103.2,149.8" fill="#FC4E2A"/>
<polygon points="92.2,135.7 91.9,136.6 92.6,137.9 93.4,137.5 93.6,136.6" fill="#FC4E2A"/>
<polygon points="107.5,143.4 104.7,143.5 104.4,143.6 104.8,144.4 106.3,145.0" fill="#FC4E2A"/>
<polygon points="90.7,147.3 89.4,147.0 89.3,147.0 89.5,148.9 90.3,148.7" fill="#FC4E2A"/>
<polygon points="89.3,132.7 89.6,133.3 90.1,133.4 90.8,133.1 89.9,130.8 89.4,131.8" fill="#FC4E2A"/>
<polygon points="101.8,146.3 102.1,145.8 102.2,145.5 102.0,144.8 101.0,144.4 99.1,144.9 99.6,146.2 101.5,146.4" fill="#FED976"/>
<polygon points="110.0,116.1 110.7,116.7 112.4,116.8 113.2,116.7 115.7,114.2 115.8,113.1 112.3,112.4 111.4,113.7" fill="#FC4E2A"/>
<polygon points="109.6,128.6 111.3,128.7 114.7,124.7 115.1,123.6 114.8,122.6 114.7,122.5 114.1,122.5 112.6,122.9 112.0,123.4" fill="#FC4E2A"/>
<polygon points="93.5,141.7 94.0,144.3 96.0,141.8 93.9,140.6" fill="#FC4E2A"/>
<polygon points="117.3,146.5 117.0,145.9 112.4,141.7 112.1,141.9 112.4,144.6 116.2,149.6" fill="#FED976"/>
<polygon points="120.4,97.3 120.3,95.3 118.9,94.8 117.7,96.1 119.9,98.2" fill="#FC4E2A"/>
<polygon points="101.6,94.0 101.3,93.3 99.5,93.1 99.0,93.7 98.7,96.8 98.9,97.1 99.8,97.0" fill="#FC4E2A"/>
<polygon points="122.1,101.6 123.8,100.9 124.1,97.4 123.9,97.3 120.4,97.3 119.9,98.2 119.7,98.7" fill="#FC4E2A"/>
<polygon points="95.3,90.5 94.8,90.9 93.9,92.2 94.5,93.9 99.0,93.7 99.5,93.1 99.1,92.1 98.9,91.7 96.1,90.6" fill="#FED976"/>
<polygon points="126.9,130.4 125.1,131.4 125.7,133.5 129.4,131.2 129.5,130.3" fill="#FC4E2A"/>
<polygon points="140.6,93.5 139.7,96.2 141.9,97.5 142.6,94.1 142.5,93.7 141.2,93.0" fill="#FC4E2A"/>
<polygon points="90.5,109.8 87.7,111.1 87.7,111.7 91.1,110.0 91.1,110.0" fill="#FED976"/>
<polygon points="123.7,113.6 122.2,114.2 121.6,116.0 123.7,117.7 124.7,117.5 125.6,116.7" fill="#FC4E2A"/>
<polygon points="100.0,116.2 100.5,115.9 100.5,114.9 98.7,112.4 97.7,112.1 95.7,113.4 95.5,114.1" fill="#FC4E2A"/>
<polygon points="101.0,138.4 99.6,138.7 99.5,139.1 99.2,140.3 99.2,140.3 100.5,140.7 101.2,140.5 102.0,139.0" fill="#FC4E2A"/>
<polygon points="79.4,116.2 78.9,119.1 80.5,119.3 80.6,116.5 80.1,116.2 79.5,116.1" fill="#FC4E2A"/>
<polygon points="80.3,106.1 79.7,109.0 79.9,109.1 82.2,107.8 80.9,105.8 80.7,105.8" fill="#FC4E2A"/>
<polygon points="88.5,121.0 86.9,120.2 86.9,123.2 88.5,121.2" fill="#FC4E2A"/>
<polygon points="90.5,112.6 91.1,110.0 87.7,111.7 87.7,113.1 88.6,113.2" fill="#FC4E2A"/>
<polygon points="57.8,116.5 60.7,119.9 63.4,119.2 64.0,118.4 58.8,115.6" fill="#FC4E2A"/>
<polygon points="82.6,139.1 79.9,141.8 80.2,143.1 83.2,142.7 82.9,139.4" fill="#FC4E2A"/>
<polygon points="67.4,148.7 67.5,145.7 67.4,145.7 63.7,146.5 63.7,146.5 65.9,148.5" fill="#FC4E2A"/>
<polygon points="111.4,111.0 111.3,110.8 107.7,110.4 107.5,110.7 107.8,113.0 108.7,112.6" fill="#FC4E2A"/>
<polygon points="59.5,121.7 57.8,122.9 56.6,126.9 57.5,129.8 58.0,129.6 58.2,129.4 60.3,123.1" fill="#FC4E2A"/>
<polygon points="73.8,114.2 75.2,115.7 76.1,116.6 78.3,114.3 78.0,113.5 74.4,113.1 74.1,113.3" fill="#FC4E2A"/>
<polygon points="75.2,124.5 74.2,123.0 72.4,122.9 72.3,128.2 75.4,127.5" fill="#FED976"/>
<polygon points="77.8,118.8 78.2,119.5 78.9,119.1 79.4,116.2 78.0,116.7" fill="#FC4E2A"/>
<polygon points="95.9,85.0 96.4,83.6 96.3,83.1 91.5,82.7 91.4,83.1 93.0,85.9 94.9,86.2" fill="#FC4E2A"/>
<polygon points="96.3,69.4 96.9,69.9 101.7,71.2 102.9,69.2 102.1,68.3 96.2,69.0" fill="#FFFFCC"/>
<polygon points="106.2,87.3 107.0,86.3 107.1,86.2 106.1,83.9 102.2,85.2 101.0,86.8 104.1,88.1" fill="#FC4E2A"/>
<polygon points="112.8,68.3 113.6,65.9 113.4,65.2 112.1,65.1 111.1,65.7 110.8,66.4" fill="#FC4E2A"/>
<polygon points="94.6,117.9 96.0,118.7 97.3,118.9 100.0,116.2 95.5,114.1 94.3,116.4" fill="#FED976"/>
<polygon points="78.5,46.6 76.3,47.4 74.3,50.8 74.5,53.2 75.1,53.3 79.0,53.4 80.0,50.7" fill="#FC4E2A"/>
<polygon points="90.5,95.4 90.1,94.3 87.9,95.0 87.1,96.8 88.4,97.3" fill="#FC4E2A"/>
<polygon points="96.1,79.4 94.3,79.4 91.9,80.4 91.5,82.7 96.3,83.1 96.4,81.4" fill="#FED976"/>
<polygon points="115.9,89.3 116.4,89.2 117.3,88.4 115.4,83.6 114.5,83.7 113.9,87.2 114.4,88.0" fill="#FC4E2A"/>
<polygon points="67.5,145.7 70.6,146.8 72.2,145.9 73.0,143.7 67.5,145.2 67.4,145.7" fill="#FC4E2A"/>
<polygon points="70.0,168.2 73.7,166.4 74.3,165.5 73.7,164.6 69.9,165.3" fill="#FC4E2A"/>
<polygon points="68.5,132.2 68.0,132.4 67.8,133.6 67.8,134.7 68.4,135.3 72.2,136.9 72.6,136.7 72.6,136.5 71.1,132.1" fill="#FC4E2A"/>
<polygon points="88.7,6.4 83.5,11.6 90.0,16.7 95.1,11.6 97.7,5.8 93.2,1.5" fill="#FED976"/>
<polygon points="94.6,11.5 95.4,14.6 100.3,14.6 100.3,4.4 97.3,6.1" fill="#FED976"/>
<polygon points="61.7,25.7 60.4,30.2 61.7,30.8 72.0,37.3 73.3,36.0 66.8,27.0 64.3,21.9 59.8,20.6" fill="#FC4E2A"/>
<polygon points="69.4,30.8 74.6,30.8 81.0,32.1 82.3,27.6 77.1,24.4 66.8,25.7" fill="#FED976"/>
<polygon points="56.6,37.3 55.3,42.4 64.3,45.0 66.8,48.8 70.7,43.7 72.0,37.3 60.4,30.2" fill="#FED976"/>
<polygon points="47.6,51.4 45.0,57.8 56.6,55.3 65.6,54.0 66.8,48.8 64.3,45.0 55.3,42.4 52.1,43.7" fill="#FED976"/>
<polygon points="40.5,60.4 39.2,64.3 39.8,68.3 51.8,68.3 55.3,64.3 59.1,59.1 56.6,55.3 44.3,57.8" fill="#FED976"/>
<polygon points="78.4,57.8 82.3,59.8 86.1,57.8 86.8,53.3 82.3,51.4 78.4,54.0" fill="#FFFFFF"/>
<polygon points="67.5,56.6 70.1,61.1 77.8,59.1 77.1,50.8 66.8,50.1" fill="#FC4E2A"/>
<polygon points="79.3,52.0 84.2,51.2 82.6,44.8 78.5,48.0" fill="#FED976"/>
<polygon points="90.2,49.3 95.6,49.3 95.6,43.8 89.4,43.8" fill="#FC4E2A"/>
<polygon points="75.8,39.2 84.8,37.3 82.3,33.4 73.3,34.1" fill="#FED976"/>
<polygon points="90.4,26.4 93.5,32.6 100.3,32.6 100.3,27.8 90.5,26.4" fill="#FC4E2A"/>
<polygon points="74.1,64.2 79.0,63.4 78.2,58.6 73.3,59.4" fill="#FED976"/>
<polygon points="79.9,65.3 83.9,66.1 85.5,60.6 79.1,59.8" fill="#FC4E2A"/>
<polygon points="88.3,65.4 93.0,65.4 93.0,59.8 87.5,60.6" fill="#FC4E2A"/>
<polygon points="103.8,13.3 103.0,8.0 99.7,6.4 99.7,14.1" fill="#FED976"/>
<polygon points="104.2,10.0 107.5,13.4 114.1,12.6 113.2,8.4 104.2,9.9" fill="#FC4E2A"/>
<polygon points="114.8,22.5 121.5,17.3 118.0,15.5 111.3,19.9" fill="#FC4E2A"/>
<polygon points="106.4,25.1 112.3,21.4 110.4,18.6 103.7,22.4" fill="#FC4E2A"/>
<polygon points="123.9,18.5 127.7,18.5 127.7,11.7 123.6,11.7" fill="#FC4E2A"/>
<polygon points="128.8,21.1 131.9,21.1 132.7,15.6 128.4,15.6" fill="#FC4E2A"/>
<polygon points="132.8,25.1 135.3,25.1 139.8,19.3 140.5,14.8 137.3,14.8 131.5,21.2" fill="#FC4E2A"/>
<polygon points="134.1,36.0 137.3,40.5 141.1,37.3 138.6,34.1 136.6,28.9 132.8,27.6" fill="#FC4E2A"/>
<polygon points="115.7,37.9 120.5,36.3 119.7,29.8 114.2,29.0" fill="#FC4E2A"/>
<polygon points="106.4,31.3 105.6,27.1 99.7,27.1 99.7,32.0" fill="#FED976"/>
<polygon points="108.7,44.3 113.4,42.8 112.7,36.1 106.4,36.9" fill="#FC4E2A"/>
<polygon points="120.2,40.3 125.6,40.3 125.6,36.1 118.5,36.1" fill="#FED976"/>
<polygon points="112.9,49.5 116.7,50.8 118.6,45.0 117.4,39.8 111.6,41.1" fill="#FED976"/>
<polygon points="118.9,48.1 125.1,48.1 123.5,43.2 117.3,43.2" fill="#FFFFCC"/>
<polygon points="103.9,50.1 112.2,50.1 112.9,45.6 103.2,45.6" fill="#FED976"/>
<polygon points="125.9,48.6 129.8,49.5 130.1,40.1 125.2,39.2" fill="#FC4E2A"/>
<polygon points="104.4,56.8 103.7,48.5 99.7,46.9 99.7,59.9" fill="#FC4E2A"/>
<polygon points="105.4,55.1 113.4,55.1 113.4,50.2 103.8,51.0" fill="#FC4E2A"/>
<polygon points="116.3,57.8 121.7,57.0 122.4,50.8 115.5,51.6" fill="#FC4E2A"/>
<polygon points="131.8,62.9 141.8,61.5 140.2,56.6 130.2,58.1" fill="#FC4E2A"/>
<polygon points="145.0,61.7 151.4,64.3 157.8,61.7 159.1,56.6 155.3,52.7 147.6,53.3 143.7,59.1" fill="#FC4E2A"/>
<polygon points="158.7,64.8 163.6,64.8 162.1,58.6 157.2,59.4" fill="#FC4E2A"/>
<polygon points="103.5,67.4 109.6,65.9 108.1,60.5 101.9,61.3" fill="#FC4E2A"/>
<polygon points="112.6,65.5 119.9,63.3 118.3,59.2 110.2,61.4" fill="#FC4E2A"/>
<polygon points="134.7,68.3 144.1,68.3 142.7,65.0 134.1,65.7" fill="#FC4E2A"/>
<polygon points="41.1,71.2 45.0,74.4 50.8,71.9 51.4,68.0 39.8,68.0" fill="#FED976"/>
<polygon points="43.1,79.6 43.7,86.0 47.6,89.9 52.7,92.4 54.0,83.4 55.3,74.4 50.8,72.5 45.0,75.1" fill="#FC4E2A"/>
<polygon points="37.3,94.1 45.0,94.9 42.8,85.5 39.5,85.5" fill="#FC4E2A"/>
<polygon points="61.1,100.1 64.9,102.7 68.8,102.7 68.8,90.5 64.3,89.9 60.4,93.1" fill="#FC4E2A"/>
<polygon points="31.7,108.3 37.1,108.3 37.8,102.3 30.2,101.5" fill="#FC4E2A"/>
<polygon points="35.6,112.8 39.6,112.8 40.4,106.6 34.8,107.4" fill="#FC4E2A"/>
<polygon points="42.7,104.6 47.5,103.8 46.7,97.6 41.2,98.4" fill="#FC4E2A"/>
<polygon points="42.7,112.2 47.4,112.2 47.4,108.7 41.0,107.9" fill="#FED976"/>
<polygon points="71.9,87.9 77.0,85.0 76.2,80.1 68.6,83.9" fill="#FC4E2A"/>
<polygon points="80.6,93.0 85.3,92.2 85.3,86.7 79.1,87.5" fill="#FC4E2A"/>
<polygon points="89.5,87.3 93.1,86.4 92.3,80.4 88.8,80.4" fill="#FED976"/>
<polygon points="70.4,73.7 75.1,72.9 75.1,68.1 68.7,68.9" fill="#FC4E2A"/>
<polygon points="79.7,71.9 84.8,71.9 90.0,73.1 90.0,68.0 78.4,68.0" fill="#FC4E2A"/>
<polygon points="92.1,71.7 98.7,71.7 99.5,67.7 91.3,67.7" fill="#FED976"/>
<polygon points="75.4,78.9 80.2,78.1 80.2,73.2 74.6,74.0" fill="#FC4E2A"/>
<polygon points="72.9,112.3 79.6,110.8 78.8,104.1 71.4,104.8" fill="#FED976"/>
<polygon points="76.7,103.3 80.8,102.5 80.8,97.0 75.9,97.8" fill="#FED976"/>
<polygon points="88.9,105.8 93.0,105.8 93.0,96.4 88.1,96.4" fill="#FC4E2A"/>
<polygon points="81.9,107.7 88.6,107.0 87.8,102.2 80.3,102.9" fill="#FC4E2A"/>
<polygon points="95.3,109.6 100.3,109.6 100.3,103.5 94.5,103.5" fill="#FC4E2A"/>
<polygon points="91.5,111.6 96.3,111.6 96.3,106.6 90.7,107.4" fill="#FED976"/>
<polygon points="80.6,115.4 85.9,115.4 86.7,110.6 79.7,110.6" fill="#FC4E2A"/>
<polygon points="63.9,116.7 69.9,116.7 69.9,112.5 63.0,112.5" fill="#FC4E2A"/>
<polygon points="33.7,118.7 39.8,117.9 38.9,114.4 32.8,115.1" fill="#FED976"/>
<polygon points="26.6,122.4 30.9,123.8 34.7,120.9 32.4,115.5 25.8,118.5" fill="#FC4E2A"/>
<polygon points="17.6,126.4 22.4,125.6 21.6,121.4 16.8,122.2" fill="#FC4E2A"/>
<polygon points="18.0,130.7 20.6,131.0 21.2,128.4 17.4,128.2" fill="#FFFFFF"/>
<polygon points="2.6,134.2 10.3,134.8 10.9,129.4 6.4,128.2 1.9,131.0" fill="#FED976"/>
<polygon points="52.4,122.5 61.1,121.8 59.5,116.9 50.7,118.4" fill="#FC4E2A"/>
<polygon points="51.6,125.1 57.1,125.1 57.1,121.2 51.6,121.5" fill="#FFFFCC"/>
<polygon points="58.7,126.9 62.8,127.7 63.5,121.6 57.9,120.8" fill="#FED976"/>
<polygon points="78.7,127.7 85.4,126.9 83.9,120.2 77.2,120.9" fill="#FC4E2A"/>
<polygon points="72.9,134.1 80.3,132.7 78.8,127.2 71.4,128.0" fill="#FC4E2A"/>
<polygon points="79.9,134.7 86.0,134.7 86.0,128.5 79.1,129.3" fill="#FED976"/>
<polygon points="87.6,122.5 93.0,122.5 93.0,116.3 86.8,116.3" fill="#FC4E2A"/>
<polygon points="87.1,128.3 92.5,127.5 91.7,122.7 85.5,123.5" fill="#FED976"/>
<polygon points="94.7,123.8 99.5,123.8 99.5,118.3 93.9,118.3" fill="#FC4E2A"/>
<polygon points="33.0,125.7 37.0,125.7 37.9,121.6 32.2,120.8" fill="#FC4E2A"/>
<polygon points="51.6,115.4 55.8,115.4 55.8,111.2 50.8,111.2" fill="#FC4E2A"/>
<polygon points="69.0,128.3 73.1,128.3 73.1,124.1 68.2,124.1" fill="#FC4E2A"/>
<polygon points="144.3,82.1 145.6,89.2 144.3,93.1 147.6,97.6 151.4,104.0 158.5,102.7 163.6,101.4 161.7,95.6 157.2,89.9 155.9,82.1 154.0,71.2 146.9,71.9 142.4,75.7" fill="#FC4E2A"/>
<polygon points="141.0,74.4 146.2,72.9 145.4,67.7 135.1,67.7" fill="#FC4E2A"/>
<polygon points="104.6,76.0 107.6,78.2 115.0,75.3 111.1,70.7 104.6,71.4" fill="#FED976"/>
<polygon points="111.9,72.3 116.5,73.8 117.3,67.7 109.6,67.7" fill="#FC4E2A"/>
<polygon points="105.7,80.6 104.9,74.6 99.7,74.6 99.7,81.4" fill="#FC4E2A"/>
<polygon points="113.8,80.1 121.7,79.4 121.7,74.5 112.2,75.3" fill="#FC4E2A"/>
<polygon points="116.3,88.5 121.7,87.7 121.7,82.2 115.5,83.0" fill="#FC4E2A"/>
<polygon points="127.8,74.9 132.5,74.9 134.0,67.7 127.1,67.7" fill="#FC4E2A"/>
<polygon points="135.0,83.3 141.6,82.6 141.6,77.8 133.4,77.8" fill="#FC4E2A"/>
<polygon points="132.3,89.7 136.5,89.7 136.5,82.8 131.6,83.7" fill="#FED976"/>
<polygon points="103.4,97.4 108.8,97.4 109.6,91.9 102.6,91.9" fill="#FC4E2A"/>
<polygon points="121.5,98.1 128.1,97.4 128.1,93.2 120.6,93.9" fill="#FED976"/>
<polygon points="125.9,104.5 130.7,104.5 130.7,97.6 125.1,98.4" fill="#FED976"/>
<polygon points="132.4,107.2 138.5,105.6 137.0,99.6 130.2,100.3" fill="#FC4E2A"/>
<polygon points="141.1,104.0 144.3,107.2 148.8,105.3 146.3,100.1 143.7,95.6 140.5,96.9" fill="#FED976"/>
<polygon points="136.9,113.0 142.3,111.4 141.6,104.7 135.4,106.2" fill="#FC4E2A"/>
<polygon points="151.6,111.7 155.7,110.8 156.5,103.4 150.9,104.2" fill="#FC4E2A"/>
<polygon points="101.5,107.7 105.6,107.7 105.6,101.6 100.7,101.6" fill="#FED976"/>
<polygon points="109.6,110.4 112.9,112.3 116.1,109.1 115.4,103.3 107.7,105.3" fill="#FED976"/>
<polygon points="115.6,112.2 119.8,112.2 119.8,106.1 114.9,106.1" fill="#FC4E2A"/>
<polygon points="110.5,123.8 115.3,123.1 115.3,118.2 109.7,119.0" fill="#FED976"/>
<polygon points="100.9,121.8 105.0,121.8 105.0,117.6 100.0,117.6" fill="#FED976"/>
<polygon points="123.4,121.9 129.5,121.1 128.0,115.0 121.9,116.5" fill="#FC4E2A"/>
<polygon points="128.5,123.2 133.4,122.4 132.5,117.6 127.7,118.4" fill="#FED976"/>
<polygon points="135.3,129.1 141.1,128.4 145.6,123.3 142.4,120.1 137.3,121.3 132.8,125.8" fill="#FED976"/>
<polygon points="119.5,127.7 125.6,126.9 124.8,121.4 118.7,122.2" fill="#FC4E2A"/>
<polygon points="101.5,133.5 107.6,132.7 106.9,127.2 100.7,128.0" fill="#FC4E2A"/>
<polygon points="115.6,134.1 122.4,133.3 121.6,127.9 114.9,128.6" fill="#FC4E2A"/>
<polygon points="108.8,133.8 112.6,134.1 113.5,129.8 108.5,129.8" fill="#FFFFCC"/>
<polygon points="136.2,134.8 142.4,134.0 141.5,129.1 135.4,129.9" fill="#FED976"/>
<polygon points="125.9,125.7 129.4,125.7 129.4,120.8 125.1,120.8" fill="#FC4E2A"/>
<polygon points="161.7,124.6 165.6,122.0 165.6,114.9 160.4,115.6 157.2,123.3" fill="#FED976"/>
<polygon points="166.4,121.9 173.2,121.1 172.4,114.4 165.6,115.1" fill="#FC4E2A"/>
<polygon points="173.5,120.6 179.7,119.8 178.2,113.8 172.7,113.8" fill="#FC4E2A"/>
<polygon points="163.2,113.6 168.7,112.8 167.9,105.3 162.4,106.1" fill="#FC4E2A"/>
<polygon points="178.4,100.1 184.8,98.8 186.1,93.7 182.3,91.1 174.6,93.7" fill="#FC4E2A"/>
<polygon points="172.2,101.3 178.3,100.6 178.3,97.0 171.4,97.8" fill="#FED976"/>
<polygon points="174.1,106.4 177.6,106.4 177.6,101.6 173.3,101.6" fill="#FC4E2A"/>
<polygon points="243.3,163.1 249.1,166.3 252.3,162.7 243.3,162.7" fill="#FC4E2A"/>
<polygon points="263.9,149.6 261.7,148.3 261.7,152.1" fill="#FC4E2A"/>
<polygon points="193.9,167.6 202.9,171.4 209.3,174.6 212.5,170.8 208.7,162.7 199.6,162.7 197.7,163.1 190.0,164.3" fill="#FC4E2A"/>
<polygon points="212.5,170.8 217.6,172.7 220.8,174.0 222.0,162.7 208.7,162.7" fill="#FC4E2A"/>
<polygon points="226.0,179.1 220.2,176.6 217.7,188.3 223.5,188.3" fill="#FC4E2A"/>
<polygon points="195.1,184.5 193.7,176.9 189.7,174.5 189.7,187.6" fill="#FC4E2A"/>
<polygon points="21.9,145.6 27.6,141.8 32.1,141.8 30.8,136.0 20.6,136.0 19.3,142.4" fill="#FC4E2A"/>
<polygon points="27.0,150.8 32.1,155.3 38.6,160.4 41.8,161.1 41.8,156.6 37.3,151.4 37.9,146.3 35.3,141.1 32.1,143.1 27.6,141.8 21.9,145.6" fill="#FC4E2A"/>
<polygon points="38.6,170.7 42.4,175.8 44.3,181.0 48.8,179.7 48.2,170.7 46.3,163.0 42.4,161.1 38.6,165.6" fill="#FED976"/>
<polygon points="48.2,170.7 49.5,179.7 54.0,179.7 56.6,175.8 56.6,169.4 52.7,163.0 47.6,163.6" fill="#FC4E2A"/>
<polygon points="56.6,175.8 57.2,181.6 61.1,181.0 64.3,172.6 65.6,164.9 64.3,161.1 59.1,163.0 57.8,169.4" fill="#FC4E2A"/>
<polygon points="55.3,188.7 60.4,190.0 61.1,181.0 55.3,179.7 54.6,187.4" fill="#FC4E2A"/>
<polygon points="54.5,188.7 57.5,196.2 63.3,198.3 64.9,194.3 59.4,190.2 54.6,188.6" fill="#FED976"/>
<polygon points="61.4,187.4 63.0,191.3 70.1,196.4 74.6,193.2 74.6,187.4 70.1,184.8 66.8,181.6 61.7,181.0" fill="#FED976"/>
<polygon points="62.3,181.0 66.8,181.6 70.1,184.8 74.6,184.8 77.1,179.7 71.3,174.6 70.7,167.5 68.1,166.8 64.3,172.0 61.7,175.8" fill="#FED976"/>
<polygon points="72.2,177.7 77.0,176.9 77.0,169.5 71.4,170.3" fill="#FC4E2A"/>
<polygon points="77.1,180.3 78.4,184.2 87.4,182.9 88.7,178.4 82.3,174.6 77.1,176.5" fill="#FC4E2A"/>
<polygon points="90.3,176.5 95.7,174.9 94.9,169.4 88.7,171.0" fill="#FC4E2A"/>
<polygon points="91.9,194.5 100.0,194.5 100.0,183.6 91.9,184.8" fill="#FC4E2A"/>
<polygon points="46.5,155.9 50.6,155.0 50.6,150.9 45.7,150.9" fill="#FED976"/>
<polygon points="68.8,163.6 75.4,158.5 72.0,155.9 65.4,161.1" fill="#FED976"/>
<polygon points="75.9,165.5 81.1,161.1 78.4,158.5 72.4,163.7" fill="#FC4E2A"/>
<polygon points="81.9,162.9 88.6,162.1 87.8,156.0 80.4,156.8" fill="#FC4E2A"/>
<polygon points="73.5,151.4 79.6,149.9 78.8,145.0 72.7,146.6" fill="#FC4E2A"/>
<polygon points="80.5,150.6 84.7,150.6 84.7,145.2 79.8,144.4" fill="#FC4E2A"/>
<polygon points="54.8,143.0 59.6,142.2 59.6,136.7 54.1,137.5" fill="#FC4E2A"/>
<polygon points="60.6,144.2 66.1,144.2 66.1,138.6 59.8,139.4" fill="#FC4E2A"/>
<polygon points="44.6,139.1 49.2,139.1 50.1,135.7 43.8,135.7" fill="#FED976"/>
<polygon points="93.2,162.3 96.4,162.3 96.4,158.5 92.5,159.1" fill="#FFFFFF"/>
<polygon points="95.3,167.4 99.5,166.6 99.5,161.1 94.6,161.9" fill="#FED976"/>
<polygon points="76.1,139.7 80.2,139.7 80.2,135.7 75.3,135.7" fill="#FC4E2A"/>
<polygon points="65.1,166.1 69.9,165.3 69.9,160.5 64.3,161.3" fill="#FC4E2A"/>
<polygon points="88.9,143.0 93.8,142.2 93.0,137.4 88.1,138.2" fill="#FC4E2A"/>
<polygon points="149.5,146.9 155.3,148.2 162.3,148.9 163.0,141.1 157.8,137.3 151.4,137.9 148.2,144.4" fill="#FC4E2A"/>
<polygon points="182.9,140.5 183.3,140.8 183.3,136.0 181.6,136.0" fill="#FC4E2A"/>
<polygon points="146.9,161.1 153.3,163.6 156.6,161.1 154.0,156.6 148.2,152.7 145.0,157.2" fill="#FED976"/>
<polygon points="130.2,163.6 130.8,170.1 136.0,172.0 141.1,170.7 138.6,166.8 137.9,161.1 133.4,157.2 127.6,157.9" fill="#FED976"/>
<polygon points="138.6,165.6 141.1,168.1 146.3,166.8 146.9,161.1 145.0,157.2 141.8,154.0 139.2,157.2" fill="#FC4E2A"/>
<polygon points="147.8,174.6 151.4,175.2 152.7,169.4 152.1,163.6 148.2,164.3" fill="#FC4E2A"/>
<polygon points="130.2,179.7 136.0,181.6 143.7,179.1 147.6,174.6 146.3,168.8 141.1,170.7 136.0,172.0 130.8,170.7 128.9,175.8" fill="#FC4E2A"/>
<polygon points="130.8,192.6 137.3,191.3 141.1,192.6 148.8,199.0 156.6,196.4 163.0,192.6 157.2,186.1 155.3,178.4 151.4,175.8 143.7,179.1 136.0,181.6 130.8,184.8" fill="#FC4E2A"/>
<polygon points="117.4,189.3 122.5,192.6 127.6,193.2 130.2,187.4 131.5,179.7 125.7,174.6 119.3,175.8 116.7,187.4" fill="#FC4E2A"/>
<polygon points="116.7,196.4 120.6,202.2 128.3,200.3 136.0,199.0 137.3,193.2 127.6,193.8 122.5,193.2 114.1,190.6" fill="#FED976"/>
<polygon points="105.8,199.0 112.9,198.3 115.4,191.3 114.1,186.1 104.5,188.7" fill="#FC4E2A"/>
<polygon points="103.7,192.8 103.7,185.1 99.7,183.5 99.7,195.2" fill="#FC4E2A"/>
<polygon points="123.1,172.6 127.6,175.2 130.2,172.0 130.2,165.6 125.7,167.5 121.9,166.2" fill="#FC4E2A"/>
<polygon points="177.1,163.6 185.5,165.6 187.4,162.7 183.3,162.7 183.3,152.5 175.8,152.1 172.0,157.9" fill="#FC4E2A"/>
<polygon points="168.1,163.6 177.1,166.2 184.8,166.8 185.5,165.6 177.1,163.6 172.0,157.9 169.4,155.3 168.1,159.1 164.3,162.3" fill="#FC4E2A"/>
<polygon points="163.6,169.4 166.8,174.6 177.1,174.6 185.5,173.3 185.5,166.8 177.1,166.2 168.1,163.6 163.0,163.6" fill="#FED976"/>
<polygon points="190.3,167.8 190.3,164.2 187.4,164.9" fill="#FC4E2A"/>
<polygon points="171.3,190.0 172.6,195.8 177.1,193.8 183.5,188.1 190.3,186.1 190.3,174.9 185.5,173.3 174.6,175.8 170.1,184.2" fill="#FC4E2A"/>
<polygon points="177.8,201.6 182.3,202.2 190.0,199.0 190.3,198.7 190.3,186.1 183.5,188.1 177.1,194.5" fill="#FC4E2A"/>
<polygon points="171.8,202.1 178.3,202.1 177.6,195.3 172.4,195.3 168.0,199.0" fill="#FC4E2A"/>
<polygon points="108.0,167.5 113.4,165.9 112.6,160.5 106.4,161.3" fill="#FC4E2A"/>
<polygon points="115.6,169.3 121.1,168.6 121.1,163.8 114.8,163.8" fill="#FC4E2A"/>
<polygon points="112.5,165.5 116.6,164.7 116.6,160.5 111.6,161.3" fill="#FC4E2A"/>
<polygon points="102.8,171.9 108.2,171.1 108.2,165.0 102.0,165.8" fill="#FC4E2A"/>
<polygon points="111.1,173.8 116.6,173.1 115.8,167.6 110.4,168.4" fill="#FC4E2A"/>
<polygon points="101.5,177.8 107.0,176.2 106.2,171.4 100.7,172.2" fill="#FC4E2A"/>
<polygon points="113.1,155.2 121.8,154.4 121.0,148.9 112.3,150.4" fill="#FC4E2A"/>
<polygon points="109.2,155.9 113.4,155.0 113.4,150.2 108.4,151.0" fill="#FED976"/>
<polygon points="126.7,147.5 132.8,146.0 131.2,141.9 124.3,142.7" fill="#FED976"/>
<polygon points="125.9,151.3 130.7,151.3 130.7,146.3 125.1,147.1" fill="#FC4E2A"/>
<polygon points="104.1,143.0 110.2,142.2 109.4,136.7 103.3,137.5" fill="#FC4E2A"/>
<polygon points="100.9,146.2 105.7,145.4 104.9,141.2 100.1,142.0" fill="#FED976"/>
<polygon points="115.6,141.0 124.4,140.3 123.6,135.7 120.7,135.7 114.8,136.2" fill="#FC4E2A"/>
<polygon points="104.8,183.5 110.3,182.0 108.7,176.6 103.2,177.4" fill="#FC4E2A"/>
<polygon points="111.2,182.2 116.6,181.4 115.8,175.9 109.6,176.7" fill="#FC4E2A"/>
<polygon points="101.4,213.4 109.1,213.1 109.8,206.6 106.6,206.0 101.4,208.6" fill="#FED976"/>
<polygon points="104.0,204.7 106.6,206.6 111.7,208.6 116.6,203.7 104.0,203.7" fill="#FC4E2A"/>
<polygon points="191.4,196.0 198.5,190.2 196.9,187.7 190.0,187.7 190.0,187.7 189.9,187.7 189.9,187.7 189.9,187.7 189.9,187.7 189.8,187.8 189.8,187.8 189.8,187.8 189.8,187.8 189.8,187.8 189.7,187.9 189.7,187.9 189.7,187.9 189.7,187.9 189.7,188.0 189.7,188.0 189.7,197.4" fill="#FC4E2A"/>
<polygon points="222.3,189.6 222.7,187.7 215.7,187.7 215.2,188.9" fill="#FC4E2A"/>
<polygon points="187.6,116.2 198.6,115.6 199.8,109.1 198.6,104.6 192.1,106.6 184.4,112.4" fill="#FC4E2A"/>
<polygon points="201.1,115.6 211.4,116.9 211.4,113.6 202.4,107.2 199.8,109.1" fill="#FC4E2A"/>
<polygon points="194.7,132.3 197.3,138.1 205.0,138.1 205.6,132.3 203.7,116.9 194.1,117.5" fill="#FC4E2A"/>
<polygon points="224.3,131.0 225.6,135.5 238.4,136.8 245.5,128.4 243.5,124.6 232.0,120.7 223.6,118.8" fill="#FED976"/>
<polygon points="238.4,136.8 225.6,135.5 224.9,139.3 226.8,143.8 242.3,144.5 250.0,136.1 252.5,127.8 245.5,128.4" fill="#FC4E2A"/>
<polygon points="208.8,161.2 218.3,163.3 220.9,163.3 226.8,158.0 224.3,145.1 223.6,138.7 216.6,139.3 211.4,145.8 202.4,152.8" fill="#FED976"/>
<polygon points="203.1,151.6 211.4,145.8 215.9,141.3 216.6,138.7 203.1,142.6" fill="#FC4E2A"/>
<polygon points="183.1,141.3 187.6,143.8 194.1,139.3 184.4,132.3 182.7,132.8 182.7,140.0" fill="#FC4E2A"/>
<polygon points="241.6,150.3 244.7,163.3 255.6,163.3 260.0,159.3 260.0,146.4 250.0,141.3 242.3,144.5" fill="#FC4E2A"/>
<polygon points="187.0,152.8 182.7,152.1 182.7,163.0 182.7,163.0 182.7,163.1 182.7,163.1 182.7,163.1 182.7,163.1 182.8,163.2 182.8,163.2 182.8,163.2 182.8,163.2 182.8,163.2 182.9,163.3 182.9,163.3 182.9,163.3 182.9,163.3 183.0,163.3 183.0,163.3 187.6,163.3" fill="#FC4E2A"/>
</g>
<polygon points="93.2,1.5 97.7,5.8 100.0,5.8 103.9,7.7 112.9,9.0 116.7,6.4 123.8,5.1 129.6,9.0 134.7,7.7 138.6,10.3 142.4,10.9 151.4,18.0 157.8,24.4 164.3,30.8 169.4,36.0 173.9,41.8 177.1,43.1 179.4,45.6 177.1,49.5 172.0,56.6 166.8,62.3 165.6,63.0 164.9,68.0 165.6,71.9 169.4,75.7 178.4,73.8 184.8,73.1 188.7,75.1 185.5,82.1 185.5,87.3 188.7,91.8 192.5,95.0 195.8,101.4 201.6,106.6 213.1,114.9 224.7,118.8 241.4,123.9 253.0,127.8 263.3,131.0 282.5,131.3 278.7,136.7 265.8,149.6 249.1,166.3 236.3,180.4 228.6,188.0 226.1,189.6 214.6,189.6 205.6,189.6 197.8,191.5 190.1,197.3 183.7,201.8 177.3,203.1 170.8,203.7 164.4,207.6 154.1,207.6 147.7,202.4 145.1,204.7 137.4,208.6 128.4,214.3 124.6,217.6 119.4,215.6 110.4,215.0 101.4,213.7 93.7,210.5 88.6,207.3 82.1,203.4 75.7,198.9 70.6,195.7 64.1,196.3 57.7,197.0 55.1,189.3 54.0,183.6 51.4,180.3 44.3,181.0 42.4,175.8 38.6,170.7 37.9,165.6 39.8,163.6 38.6,160.4 32.1,155.3 27.0,150.8 25.0,148.2 21.7,144.4 19.3,140.5 14.5,137.6 10.6,135.7 6.8,136.2 1.9,134.7 1.4,131.8 5.3,128.0 4.8,125.1 6.8,122.7 12.5,123.1 18.3,122.7 22.7,119.3 22.5,113.0 21.9,105.3 23.1,100.1 23.8,93.7 27.6,89.9 26.3,87.3 25.7,82.1 30.8,77.0 39.2,75.7 38.6,70.6 39.8,68.0 39.2,64.3 40.5,60.4 44.3,57.8 47.6,51.4 52.0,43.7 55.3,42.4 56.6,37.3 60.4,30.2 61.7,25.7 59.8,20.6 64.3,21.2 63.0,18.0 64.3,14.8 72.0,12.9 79.7,10.3 83.5,11.6 88.7,6.4" fill="none" stroke="#000" stroke-width="0.55" stroke-linejoin="round"/>
</g>
<g transform="translate(0,290)">
<polygon points="93.2,1.5 97.7,5.8 100.0,5.8 103.9,7.7 112.9,9.0 116.7,6.4 123.8,5.1 129.6,9.0 134.7,7.7 138.6,10.3 142.4,10.9 151.4,18.0 157.8,24.4 164.3,30.8 169.4,36.0 173.9,41.8 177.1,43.1 179.4,45.6 177.1,49.5 172.0,56.6 166.8,62.3 165.6,63.0 164.9,68.0 165.6,71.9 169.4,75.7 178.4,73.8 184.8,73.1 188.7,75.1 185.5,82.1 185.5,87.3 188.7,91.8 192.5,95.0 195.8,101.4 201.6,106.6 213.1,114.9 224.7,118.8 241.4,123.9 253.0,127.8 263.3,131.0 282.5,131.3 278.7,136.7 265.8,149.6 249.1,166.3 236.3,180.4 228.6,188.0 226.1,189.6 214.6,189.6 205.6,189.6 197.8,191.5 190.1,197.3 183.7,201.8 177.3,203.1 170.8,203.7 164.4,207.6 154.1,207.6 147.7,202.4 145.1,204.7 137.4,208.6 128.4,214.3 124.6,217.6 119.4,215.6 110.4,215.0 101.4,213.7 93.7,210.5 88.6,207.3 82.1,203.4 75.7,198.9 70.6,195.7 64.1,196.3 57.7,197.0 55.1,189.3 54.0,183.6 51.4,180.3 44.3,181.0 42.4,175.8 38.6,170.7 37.9,165.6 39.8,163.6 38.6,160.4 32.1,155.3 27.0,150.8 25.0,148.2 21.7,144.4 19.3,140.5 14.5,137.6 10.6,135.7 6.8,136.2 1.9,134.7 1.4,131.8 5.3,128.0 4.8,125.1 6.8,122.7 12.5,123.1 18.3,122.7 22.7,119.3 22.5,113.0 21.9,105.3 23.1,100.1 23.8,93.7 27.6,89.9 26.3,87.3 25.7,82.1 30.8,77.0 39.2,75.7 38.6,70.6 39.8,68.0 39.2,64.3 40.5,60.4 44.3,57.8 47.6,51.4 52.0,43.7 55.3,42.4 56.6,37.3 60.4,30.2 61.7,25.7 59.8,20.6 64.3,21.2 63.0,18.0 64.3,14.8 72.0,12.9 79.7,10.3 83.5,11.6 88.7,6.4" fill="#800026" stroke="#000" stroke-width="0.55" stroke-linejoin="round"/>
<g clip-path="url(#clipEth)">
<use href="#mesh"/>
<polygon points="121.8,163.1 119.3,165.7 120.5,167.2 124.8,166.2 124.0,162.7 122.5,162.8" fill="#FC4E2A"/>
<polygon points="67.7,49.1 63.5,49.9 67.8,58.2 68.2,58.3 69.4,57.7 68.0,49.5" fill="#FC4E2A"/>
<polygon points="94.2,103.1 94.2,103.0 90.7,103.6 91.0,105.1 94.2,104.0" fill="#FC4E2A"/>
<polygon points="73.7,164.6 73.8,164.2 72.6,162.5 71.4,161.9 70.4,162.5 69.1,164.6 69.9,165.3" fill="#FC4E2A"/>
<polygon points="123.8,100.9 126.8,101.6 128.5,100.1 128.5,99.2 126.8,97.2 126.5,97.1 124.1,97.4" fill="#FC4E2A"/>
<polygon points="130.9,129.9 134.1,128.6 135.3,127.3 131.6,125.7 128.7,127.7 129.6,130.1" fill="#FC4E2A"/>
<polygon points="90.6,106.2 88.1,106.5 89.0,108.9 90.5,109.8 91.1,110.0 92.3,109.2 91.5,107.1" fill="#FED976"/>
<polygon points="97.3,131.3 96.9,131.8 98.1,132.2" fill="#FC4E2A"/>
<polygon points="142.5,93.7 145.3,91.1 141.3,88.0 141.0,88.2 140.4,90.9 141.2,93.0" fill="#FC4E2A"/>
<polygon points="101.7,64.1 101.8,63.7 102.2,61.5 100.6,60.8 97.4,61.7 96.0,64.4 96.2,64.7" fill="#FC4E2A"/>
<polygon points="72.9,81.0 70.3,78.5 66.1,79.6 64.4,80.1 64.0,80.6 64.1,82.0 68.2,85.7 68.6,85.6" fill="#FED976"/>
<polygon points="59.6,99.3 59.4,99.3 59.1,103.2 60.7,102.8 59.7,99.5" fill="#FC4E2A"/>
<polygon points="121.3,127.5 120.1,130.9 120.1,130.9 123.1,129.9 123.8,128.0 123.8,127.6" fill="#FC4E2A"/>
<polygon points="47.3,70.0 47.0,69.1 45.5,68.7 44.8,69.5 45.1,76.4 46.0,76.8 46.7,76.8" fill="#FC4E2A"/>
<polygon points="119.2,152.2 119.8,154.4 122.6,156.9 123.9,156.9 123.7,150.9 123.0,150.6" fill="#FC4E2A"/>
<polygon points="94.9,86.2 93.0,85.9 91.4,87.5 94.8,90.9 95.3,90.5 95.4,87.4" fill="#FC4E2A"/>
<polygon points="133.0,110.7 132.6,113.1 132.6,113.2 135.2,115.7 138.0,114.5 137.2,109.9" fill="#FC4E2A"/>
<polygon points="140.5,99.6 141.9,98.7 142.2,98.2 141.9,97.5 139.7,96.2 138.0,95.8 137.7,99.7" fill="#FC4E2A"/>
<polygon points="76.9,78.9 78.0,74.7 77.7,74.3 70.9,76.8 70.3,78.5 72.9,81.0 73.8,81.6" fill="#FED976"/>
<polygon points="166.5,105.4 167.6,102.7 165.7,101.9 164.5,102.9" fill="#FC4E2A"/>
<polygon points="61.2,161.0 60.8,162.6 60.8,162.7 62.5,163.5 65.1,160.2 65.1,160.1" fill="#FC4E2A"/>
<polygon points="70.7,159.8 72.0,157.9 71.2,156.6 70.4,155.9 69.7,155.6 68.0,156.8 67.4,160.4" fill="#FED976"/>
<polygon points="80.5,77.7 80.2,76.3 78.0,74.7 76.9,78.9 78.5,79.1" fill="#FC4E2A"/>
<polygon points="146.8,162.0 149.6,162.3 153.1,159.1 152.9,153.3 151.4,152.7" fill="#FC4E2A"/>
<polygon points="73.2,136.8 72.6,136.7 72.2,136.9 71.9,138.5 73.2,143.1 74.1,142.1 75.2,139.9 73.5,136.8" fill="#FC4E2A"/>
<polygon points="43.7,126.6 45.1,128.2 45.8,125.0 45.7,124.6" fill="#FC4E2A"/>
<polygon points="118.9,82.2 119.8,82.8 121.3,82.8 121.4,82.7 122.6,81.0 122.7,78.5 122.1,77.6 119.5,78.1 118.6,79.3" fill="#FC4E2A"/>
<polygon points="82.4,104.7 86.4,105.1 86.5,105.1 86.5,105.0 84.6,101.5 82.9,102.1 82.5,102.9" fill="#FC4E2A"/>
<polygon points="49.9,88.9 45.9,93.8 47.7,95.1 50.4,94.0 51.4,92.0" fill="#FC4E2A"/>
<polygon points="101.4,167.3 97.7,167.0 98.8,174.8 101.6,173.0" fill="#FC4E2A"/>
<polygon points="88.6,97.5 92.5,98.6 92.9,96.9 90.5,95.4 88.4,97.3" fill="#FED976"/>
<polygon points="134.4,103.4 132.9,102.6 131.0,104.6 132.1,108.0 134.0,106.8" fill="#FED976"/>
<polygon points="63.5,103.9 63.9,105.0 66.2,107.3 68.2,106.4 68.4,105.5 66.0,102.0 65.9,102.0 63.5,103.6" fill="#FC4E2A"/>
<polygon points="138.4,132.1 139.7,131.2 137.5,126.7 136.1,126.8 135.3,127.3 134.1,128.6 135.2,132.9" fill="#FC4E2A"/>
<polygon points="94.9,155.1 92.8,152.9 90.7,153.3 90.5,153.5 90.3,156.7 92.6,158.9" fill="#FC4E2A"/>
<polygon points="129.9,90.4 133.8,90.4 134.6,88.5 134.3,87.4 130.0,88.3 129.7,90.3" fill="#FC4E2A"/>
<polygon points="76.2,102.9 76.0,103.3 77.9,106.5 79.0,106.5 80.3,106.1 80.7,105.8 78.8,103.1" fill="#FC4E2A"/>
<polygon points="100.5,114.9 100.5,115.9 102.0,116.6 102.8,116.7 104.3,114.6 102.7,113.3 102.2,113.3" fill="#FC4E2A"/>
<polygon points="100.9,129.6 101.0,129.8 101.5,130.3 102.3,130.4 102.2,129.0" fill="#FC4E2A"/>
<polygon points="172.7,125.7 174.6,124.8 177.5,121.4 169.3,117.0 168.4,118.1 171.9,124.6" fill="#FC4E2A"/>
<polygon points="96.1,90.6 98.9,91.7 99.5,90.2 98.4,88.8" fill="#FC4E2A"/>
<polygon points="102.3,129.0 100.4,127.4 99.7,128.6 99.8,129.0 100.9,129.6 102.2,129.0" fill="#FC4E2A"/>
<polygon points="97.1,159.3 95.5,155.2 94.9,155.1 92.6,158.9 93.4,161.7 94.3,162.5" fill="#FC4E2A"/>
<polygon points="70.4,162.5 71.4,161.9 70.7,159.8 67.4,160.4 67.3,160.5" fill="#FC4E2A"/>
<polygon points="69.8,89.4 68.4,89.7 68.4,89.8 69.2,93.1 70.5,94.6 74.5,92.8 73.3,90.3" fill="#FED976"/>
<polygon points="114.2,155.3 116.5,157.6 117.3,157.9 118.2,157.8 119.8,154.4 119.2,152.2 116.4,151.1 115.7,151.9" fill="#FC4E2A"/>
<polygon points="57.1,85.4 54.7,88.1 57.7,92.4 58.2,91.8 59.3,87.4" fill="#FC4E2A"/>
<polygon points="130.7,137.0 131.0,139.1 134.7,141.3 136.4,141.4 136.5,140.9 132.8,136.0 130.9,136.5" fill="#FC4E2A"/>
<polygon points="153.7,106.7 153.0,106.3 150.4,107.0 149.8,108.7 149.8,112.2 154.8,113.6" fill="#FC4E2A"/>
<polygon points="140.4,90.9 137.9,92.4 137.3,93.4 137.5,94.0 140.6,93.5 141.2,93.0" fill="#FC4E2A"/>
<polygon points="128.3,94.9 126.8,97.2 128.5,99.2 130.4,96.5 128.4,94.9" fill="#FC4E2A"/>
<polygon points="88.4,102.4 86.5,105.0 86.5,105.1 87.2,106.2 88.1,106.5 90.6,106.2 91.0,105.1 90.7,103.6 89.8,102.4" fill="#FC4E2A"/>
<polygon points="78.2,89.8 82.0,89.5 82.6,86.9 82.0,86.4 77.0,87.2" fill="#FC4E2A"/>
<polygon points="86.1,59.5 87.9,60.9 89.2,59.8 88.1,55.7 86.7,56.1" fill="#FC4E2A"/>
<polygon points="86.0,71.0 83.7,70.2 81.8,71.5 83.1,74.3 84.6,74.4 85.4,73.8 85.9,72.3" fill="#FC4E2A"/>
<polygon points="108.7,128.0 109.4,128.7 109.6,128.6 112.0,123.4 107.7,123.5 108.3,126.9 108.6,127.9" fill="#FC4E2A"/>
<polygon points="85.9,90.6 87.3,89.5 87.2,89.3 83.0,86.7 82.6,86.9 82.0,89.5 82.4,90.5" fill="#FC4E2A"/>
<polygon points="107.0,60.9 104.5,55.2 104.3,55.2 102.7,55.7 102.6,60.9 106.7,61.2" fill="#FC4E2A"/>
<polygon points="106.5,94.9 107.9,96.4 110.7,95.8 111.2,95.1 109.7,93.5 107.4,93.1 106.5,94.2 106.5,94.8" fill="#FC4E2A"/>
<polygon points="135.8,82.9 138.1,78.5 136.5,77.4 133.3,78.1 133.6,81.5" fill="#FC4E2A"/>
<polygon points="58.8,137.7 56.5,141.1 62.0,141.6 62.7,139.1" fill="#FC4E2A"/>
<polygon points="56.3,68.3 52.6,62.3 52.3,62.3 48.3,68.8 49.0,69.3 54.8,68.9" fill="#FC4E2A"/>
<polygon points="125.5,151.1 123.7,150.9 123.9,156.9 124.0,157.0 129.2,153.6 127.4,151.9" fill="#FC4E2A"/>
<polygon points="106.9,122.8 107.7,123.5 112.0,123.4 112.6,122.9 109.5,120.6 109.2,120.6" fill="#FC4E2A"/>
<polygon points="79.0,112.1 78.0,113.5 78.3,114.3 78.8,115.0 81.2,113.6 80.0,112.0" fill="#FC4E2A"/>
<polygon points="140.9,108.9 142.0,110.1 143.9,109.3 146.5,104.8 144.5,104.5 143.9,105.1" fill="#FC4E2A"/>
<polygon points="134.7,141.3 131.0,139.1 130.9,139.2 130.9,141.7 132.6,142.5" fill="#FC4E2A"/>
<polygon points="88.1,55.7 90.5,54.2 88.2,50.7 87.1,50.7 85.5,51.1 84.5,52.8 84.8,53.9 86.7,56.1" fill="#FED976"/>
<polygon points="119.5,91.7 118.2,91.8 117.7,93.5 118.9,94.8 120.3,95.3 122.0,93.9 121.9,92.7" fill="#FED976"/>
<polygon points="50.4,94.0 52.2,96.9 53.2,96.2 56.1,92.9 51.4,92.0" fill="#FED976"/>
<polygon points="75.0,155.3 74.4,154.4 71.2,156.6 72.0,157.9 74.6,158.5 75.7,158.4 75.8,158.0" fill="#FC4E2A"/>
<polygon points="126.3,93.5 126.5,94.4 128.3,94.9 128.4,94.9 128.8,93.6 127.2,92.2" fill="#FC4E2A"/>
<polygon points="121.9,71.0 123.1,74.2 127.8,75.2 130.2,73.6 129.9,70.8 129.7,70.8" fill="#FC4E2A"/>
<polygon points="119.5,130.3 119.6,130.6 120.1,130.9 121.3,127.5 120.9,127.3" fill="#FC4E2A"/>
<polygon points="131.0,104.6 127.3,105.5 126.9,106.4 129.5,109.1 131.6,109.0 132.1,108.0" fill="#FC4E2A"/>
<polygon points="84.6,152.9 83.7,152.0 81.1,153.3 80.9,153.9 81.6,156.8 81.7,156.9 85.0,154.4 85.0,153.7" fill="#FED976"/>
<polygon points="86.7,64.6 81.5,62.8 81.0,63.2 81.7,66.0 86.2,65.4" fill="#FC4E2A"/>
<polygon points="99.8,123.0 101.0,124.8 101.5,123.7 101.5,121.4 99.8,122.7" fill="#FED976"/>
<polygon points="122.3,56.4 122.0,56.9 122.1,60.1 127.2,60.1 129.0,58.5 129.1,58.3 127.3,54.8 125.5,55.2 123.2,55.9" fill="#FC4E2A"/>
<polygon points="137.6,99.7 137.4,100.6 138.6,102.4 140.1,102.2 140.5,99.6 137.7,99.7" fill="#FC4E2A"/>
<polygon points="111.6,77.8 112.1,76.0 111.2,74.7 108.9,77.5 108.8,78.1 109.6,78.4 110.9,78.7" fill="#FC4E2A"/>
<polygon points="106.7,68.7 107.1,69.9 108.8,72.7 110.1,72.3 108.7,68.7" fill="#FC4E2A"/>
<polygon points="116.3,161.5 114.1,163.6 117.0,165.8 119.3,165.7 121.8,163.1 119.1,160.5" fill="#FC4E2A"/>
<polygon points="105.0,108.6 106.1,110.6 107.5,110.7 107.7,110.4 108.1,106.6 105.9,106.1 105.5,106.4" fill="#FC4E2A"/>
<polygon points="43.2,76.2 45.1,76.4 44.8,69.5 38.6,70.6 39.0,74.2" fill="#FC4E2A"/>
<polygon points="81.8,71.5 79.2,71.5 78.1,72.0 77.7,74.3 78.0,74.7 80.2,76.3 82.6,75.5 83.1,74.3" fill="#FC4E2A"/>
<polygon points="87.7,113.1 86.6,113.7 88.1,116.5 89.0,116.6 89.6,116.5 90.0,115.9 88.6,113.2" fill="#FC4E2A"/>
<polygon points="145.6,110.6 149.8,108.7 150.4,107.0 147.0,104.8 146.5,104.8 143.9,109.3" fill="#FC4E2A"/>
<polygon points="124.2,84.1 124.2,84.1 121.4,82.7 121.3,82.8 121.8,85.9" fill="#FC4E2A"/>
<polygon points="120.0,126.8 119.1,127.7 119.1,129.6 119.5,130.3 120.9,127.3" fill="#FC4E2A"/>
<polygon points="130.5,79.1 127.9,80.3 128.0,81.7 128.0,81.8 131.7,82.1 133.2,81.5" fill="#FC4E2A"/>
<polygon points="73.0,143.7 73.2,143.4 73.1,143.1 70.0,142.1 66.8,142.3 66.7,142.5 67.5,145.2" fill="#FED976"/>
<polygon points="63.9,105.0 62.9,108.8 66.0,107.7 66.2,107.3" fill="#FED976"/>
<polygon points="71.1,109.5 71.9,107.4 69.1,107.7" fill="#FC4E2A"/>
<polygon points="77.7,109.8 77.1,107.0 74.2,107.0 74.3,107.9 75.9,109.9" fill="#FC4E2A"/>
<polygon points="107.5,143.4 104.7,143.5 104.4,143.6 104.8,144.4 106.3,145.0" fill="#FC4E2A"/>
<polygon points="90.7,147.3 89.4,147.0 89.3,147.0 89.5,148.9 90.3,148.7" fill="#FED976"/>
<polygon points="95.7,113.4 97.7,112.1 97.4,110.9 95.8,109.3 94.2,109.0 93.3,109.5 93.9,111.6" fill="#FC4E2A"/>
<polygon points="88.2,147.6 85.2,145.9 83.6,148.3 87.9,149.1" fill="#FC4E2A"/>
<polygon points="99.7,143.0 98.9,142.3 97.7,142.7 97.9,144.0 98.8,144.7 98.8,144.7" fill="#FC4E2A"/>
<polygon points="110.0,116.1 110.7,116.7 112.4,116.8 113.2,116.7 115.7,114.2 115.8,113.1 112.3,112.4 111.4,113.7" fill="#FC4E2A"/>
<polygon points="87.3,128.2 85.1,126.7 84.8,128.6 87.5,128.8" fill="#FC4E2A"/>
<polygon points="106.4,142.4 105.8,141.3 105.5,141.3 104.6,141.4 104.1,143.2 104.4,143.6 104.7,143.5" fill="#FFFFCC"/>
<polygon points="101.0,138.4 102.0,139.0 102.7,138.6 102.9,138.2 102.3,137.1 101.4,136.3 100.7,136.8" fill="#FED976"/>
<polygon points="105.8,161.4 106.0,161.3 107.3,158.8 105.2,156.1 104.5,156.3 103.7,159.8" fill="#FC4E2A"/>
<polygon points="104.8,144.4 104.4,143.6 104.1,143.2 102.9,143.3 102.4,143.8 102.0,144.8 102.2,145.5 103.8,145.5" fill="#FC4E2A"/>
<polygon points="89.5,143.8 87.5,143.3 85.2,145.1 85.2,145.8 87.7,145.6 89.3,144.6 89.7,144.1" fill="#FC4E2A"/>
<polygon points="101.4,140.7 101.2,140.5 100.5,140.7 100.4,142.5 101.3,142.5 102.3,142.1" fill="#FED976"/>
<polygon points="91.0,149.4 90.1,151.8 90.7,153.3 92.8,152.9 94.2,150.8 94.3,150.3 92.4,149.0" fill="#FC4E2A"/>
<polygon points="103.9,94.8 101.7,93.0 101.3,93.3 101.6,94.0 102.2,95.1" fill="#FED976"/>
<polygon points="85.8,114.9 83.7,116.9 84.2,117.8 85.9,117.6 86.4,117.1" fill="#FC4E2A"/>
<polygon points="101.5,121.4 101.8,121.0 101.3,120.5 97.5,119.1 98.0,121.7 99.8,122.7" fill="#FC4E2A"/>
<polygon points="121.8,86.0 126.6,86.1 126.9,85.5 124.2,84.1 121.8,85.9" fill="#FC4E2A"/>
<polygon points="115.7,108.9 115.8,109.3 117.3,111.6 118.0,111.5 119.7,109.5 118.5,107.6 116.9,106.8 116.4,107.3" fill="#FC4E2A"/>
<polygon points="94.5,93.9 94.5,95.1 98.7,96.8 99.0,93.7" fill="#FC4E2A"/>
<polygon points="88.4,102.4 89.8,102.4 92.8,99.9 92.7,99.8 88.6,99.7 87.8,100.9" fill="#FC4E2A"/>
<polygon points="100.7,102.7 100.5,104.0 100.7,104.4 101.9,104.3 103.0,103.5 103.0,101.5" fill="#FED976"/>
<polygon points="126.9,130.4 125.1,131.4 125.7,133.5 129.4,131.2 129.5,130.3" fill="#FC4E2A"/>
<polygon points="101.8,126.9 103.5,126.3 103.5,125.9 102.3,124.8 101.0,124.8 100.4,125.8 100.7,126.4" fill="#FC4E2A"/>
<polygon points="103.2,101.1 101.9,99.8 99.5,100.1 100.7,102.7 103.0,101.5" fill="#FC4E2A"/>
<polygon points="121.9,123.6 122.1,121.4 119.8,119.1 118.3,122.0 121.0,123.7" fill="#FC4E2A"/>
<polygon points="64.9,125.5 65.2,125.5 63.4,119.2 60.7,119.9 59.6,121.5 59.5,121.7 60.3,123.1" fill="#FC4E2A"/>
<polygon points="95.5,120.8 95.5,122.4 97.1,123.7 98.0,121.7 97.5,119.1 97.3,118.9 96.0,118.7" fill="#FC4E2A"/>
<polygon points="73.1,130.2 75.2,129.2 75.6,128.3 75.4,127.5 72.3,128.2 72.2,128.5" fill="#FC4E2A"/>
<polygon points="74.1,142.1 73.2,143.1 73.1,143.1 73.2,143.4 76.8,145.0 79.4,144.7 80.2,143.1 79.9,141.8 79.3,141.0 77.3,141.2" fill="#FC4E2A"/>
<polygon points="84.5,124.7 84.9,125.3 87.4,126.5 88.4,126.0 86.5,123.6 84.5,124.4" fill="#FC4E2A"/>
<polygon points="78.7,126.6 80.0,127.0 80.2,126.9 80.6,123.8 80.5,123.7 77.1,125.2" fill="#FC4E2A"/>
<polygon points="111.4,111.0 111.3,110.8 107.7,110.4 107.5,110.7 107.8,113.0 108.7,112.6" fill="#FC4E2A"/>
<polygon points="81.0,109.8 82.3,107.9 82.2,107.8 79.9,109.1" fill="#FC4E2A"/>
<polygon points="77.3,131.7 77.3,132.2 77.8,132.7 80.1,131.2 80.3,130.8 79.7,130.3" fill="#FC4E2A"/>
<polygon points="103.2,76.3 104.4,75.7 103.9,73.6 101.5,73.1 101.5,73.2 100.7,74.7" fill="#FC4E2A"/>
<polygon points="99.8,97.0 98.9,97.1 98.4,98.8 98.7,99.7 99.5,100.1 101.9,99.8 102.6,98.1 101.6,96.9" fill="#FED976"/>
<polygon points="96.3,69.4 96.9,69.9 101.7,71.2 102.9,69.2 102.1,68.3 96.2,69.0" fill="#FC4E2A"/>
<polygon points="112.8,68.3 113.6,65.9 113.4,65.2 112.1,65.1 111.1,65.7 110.8,66.4" fill="#FC4E2A"/>
<polygon points="104.1,69.5 105.1,72.3 105.2,72.3 107.1,69.9 106.7,68.7 106.0,68.3" fill="#FC4E2A"/>
<polygon points="108.9,68.5 108.7,68.7 110.1,72.3 110.3,72.3 110.7,68.6 110.3,68.3" fill="#FC4E2A"/>
<polygon points="109.6,78.4 108.8,78.1 108.3,78.3 106.5,82.7 109.0,81.9 109.1,81.8" fill="#FC4E2A"/>
<polygon points="95.6,64.2 94.7,63.2 88.0,62.2 87.5,63.9 95.3,64.3" fill="#FC4E2A"/>
<polygon points="68.8,66.0 68.4,69.0 68.6,69.7 69.7,70.8 75.7,69.5 75.6,65.7" fill="#FC4E2A"/>
<polygon points="105.2,72.3 108.3,73.1 108.8,72.7 107.1,69.9" fill="#FC4E2A"/>
<polygon points="60.6,145.7 60.4,145.7 58.7,148.6 60.5,152.4 61.4,151.5 62.2,147.8 62.2,146.7" fill="#FC4E2A"/>
<polygon points="70.4,155.9 71.2,156.6 74.4,154.4 74.0,152.6 73.5,152.5" fill="#FC4E2A"/>
<polygon points="69.5,170.4 69.8,175.4 71.2,175.1 73.7,166.4 70.0,168.2" fill="#FC4E2A"/>
<polygon points="64.3,21.2 66.8,22.5 72.0,24.4 79.7,20.6 85.5,16.7 83.5,11.6 79.7,10.3 72.0,12.9 64.3,14.8 63.0,18.0" fill="#FC4E2A"/>
<polygon points="61.7,25.7 60.4,30.2 61.7,30.8 72.0,37.3 73.3,36.0 66.8,27.0 64.3,21.9 59.8,20.6" fill="#FED976"/>
<polygon points="70.1,32.8 75.8,32.1 82.3,35.3 85.5,36.0 84.8,32.1 77.1,28.9 69.4,29.6 66.8,27.0" fill="#FED976"/>
<polygon points="47.6,51.4 45.0,57.8 56.6,55.3 65.6,54.0 66.8,48.8 64.3,45.0 55.3,42.4 52.1,43.7" fill="#FED976"/>
<polygon points="61.7,60.4 65.6,66.2 69.4,66.8 68.1,60.4 65.6,55.3 57.8,56.6" fill="#FED976"/>
<polygon points="68.1,56.6 72.0,61.1 75.8,59.1 77.1,51.4 78.4,47.6 80.3,41.8 75.8,41.1 70.1,44.3 66.8,49.5" fill="#FC4E2A"/>
<polygon points="81.9,45.6 86.0,44.8 86.0,38.0 80.4,38.8" fill="#FC4E2A"/>
<polygon points="86.8,34.1 90.0,37.3 95.1,39.8 100.0,38.6 100.0,24.4 92.5,21.9 87.4,29.6" fill="#FC4E2A"/>
<polygon points="86.1,50.1 88.7,55.3 92.5,56.6 94.5,52.7 90.0,50.1 88.0,44.3 84.8,43.7" fill="#FED976"/>
<polygon points="91.5,51.3 96.3,51.3 96.3,43.1 90.0,43.9" fill="#FC4E2A"/>
<polygon points="78.4,57.8 82.3,59.8 86.1,57.8 86.8,53.3 82.3,51.4 78.4,54.0" fill="#FFFFFF"/>
<polygon points="77.2,68.3 82.8,68.3 82.8,64.4 76.5,64.4" fill="#FC4E2A"/>
<polygon points="123.1,5.1 124.7,11.4 129.3,12.1 130.1,8.7 123.3,4.9" fill="#FED976"/>
<polygon points="130.8,16.7 137.9,15.4 138.6,10.9 134.7,8.4 128.9,12.2" fill="#FC4E2A"/>
<polygon points="114.4,15.5 118.5,13.8 117.8,6.5 112.9,7.3" fill="#FC4E2A"/>
<polygon points="107.1,23.8 111.6,23.8 119.3,20.6 120.6,16.1 114.1,16.7 107.7,20.6" fill="#FC4E2A"/>
<polygon points="104.7,20.5 108.3,19.7 107.5,14.3 103.9,14.3" fill="#FED976"/>
<polygon points="122.9,26.9 126.9,26.1 126.1,20.6 120.5,22.2" fill="#FFFFCC"/>
<polygon points="126.5,26.3 130.1,25.4 129.4,18.1 125.8,18.1" fill="#FED976"/>
<polygon points="116.9,28.1 121.6,28.1 122.4,23.3 116.1,23.3" fill="#FC4E2A"/>
<polygon points="105.6,28.1 106.4,23.3 99.7,23.3 99.7,28.8" fill="#FC4E2A"/>
<polygon points="106.3,35.1 105.6,29.7 99.7,29.7 99.7,36.6" fill="#FC4E2A"/>
<polygon points="105.8,43.7 112.2,42.4 111.6,36.6 103.9,37.3" fill="#FC4E2A"/>
<polygon points="109.3,36.4 113.9,39.0 119.3,40.6 118.4,36.3 111.7,31.6 106.9,32.4" fill="#FED976"/>
<polygon points="120.8,44.9 125.6,44.1 125.6,39.3 120.0,40.1" fill="#FED976"/>
<polygon points="129.6,46.3 130.8,51.4 134.1,49.5 134.1,42.4 132.8,36.6 129.6,36.6" fill="#FED976"/>
<polygon points="160.4,55.3 163.0,57.8 166.8,62.3 172.0,56.6 177.1,49.5 179.4,45.6 177.1,43.1 173.9,41.8 160.4,43.7 155.9,50.1" fill="#FED976"/>
<polygon points="147.6,52.7 155.3,52.7 156.6,47.6 155.3,42.4 150.1,43.1 148.2,49.5" fill="#FED976"/>
<polygon points="151.4,41.1 155.3,42.4 160.4,43.7 164.3,40.5 159.1,37.3 154.0,34.7 143.7,37.9" fill="#FC4E2A"/>
<polygon points="133.4,58.5 142.4,59.1 145.0,56.6 143.7,51.4 132.1,52.7" fill="#FC4E2A"/>
<polygon points="145.0,61.7 151.4,64.3 157.8,61.7 159.1,56.6 155.3,52.7 147.6,53.3 143.7,59.1" fill="#FC4E2A"/>
<polygon points="134.7,66.8 144.3,65.6 142.4,59.8 132.8,60.4" fill="#FC4E2A"/>
<polygon points="158.7,64.8 163.6,64.8 162.1,58.6 157.2,59.4" fill="#FC4E2A"/>
<polygon points="105.4,55.1 113.4,55.1 113.4,50.2 103.8,51.0" fill="#FC4E2A"/>
<polygon points="110.5,59.7 117.2,58.9 117.2,54.1 109.7,54.8" fill="#FC4E2A"/>
<polygon points="103.5,67.5 108.9,65.9 108.1,60.5 101.9,61.3" fill="#FED976"/>
<polygon points="118.9,65.0 125.0,62.0 124.2,56.5 117.4,58.8" fill="#FED976"/>
<polygon points="101.5,50.7 106.9,49.9 106.9,44.4 100.7,45.2" fill="#FC4E2A"/>
<polygon points="112.9,68.3 120.4,68.3 119.7,63.1 112.3,63.8" fill="#FC4E2A"/>
<polygon points="43.1,79.6 43.7,86.0 47.6,89.9 52.7,92.4 56.6,92.4 58.5,83.4 59.1,77.0 55.3,74.4 50.8,72.5 45.0,75.1" fill="#FC4E2A"/>
<polygon points="63.0,91.1 66.8,86.0 70.1,78.3 68.1,73.8 63.0,77.0 60.4,83.4 58.5,89.9" fill="#FED976"/>
<polygon points="24.4,98.8 30.8,101.4 38.6,102.1 43.7,99.5 45.0,93.7 44.3,88.6 41.1,84.7 33.4,84.7 27.6,89.9 25.7,93.7" fill="#FC4E2A"/>
<polygon points="22.9,113.0 26.3,112.3 28.9,106.6 28.3,100.1 23.1,100.8" fill="#FED976"/>
<polygon points="23.1,118.8 29.6,118.8 33.4,114.9 30.8,111.7 23.1,113.6" fill="#FC4E2A"/>
<polygon points="35.6,113.5 40.2,113.5 41.8,106.6 34.1,107.4" fill="#FC4E2A"/>
<polygon points="39.5,107.8 44.9,107.0 44.1,101.5 37.9,102.3" fill="#FED976"/>
<polygon points="45.9,105.2 51.9,104.4 51.9,100.3 44.3,99.6" fill="#FED976"/>
<polygon points="40.7,118.1 45.5,117.3 44.8,109.9 39.2,109.9" fill="#FED976"/>
<polygon points="37.0,122.6 43.3,121.0 40.0,116.9 34.6,118.5" fill="#FFFFCC"/>
<polygon points="44.6,123.2 51.2,121.8 52.0,115.6 43.1,117.1" fill="#FED976"/>
<polygon points="24.4,129.7 29.6,127.1 28.9,122.0 25.1,119.4 21.9,123.3" fill="#FED976"/>
<polygon points="30.8,132.3 37.3,134.8 43.7,133.6 42.4,128.4 36.0,124.6 29.6,125.8 24.4,129.7" fill="#FED976"/>
<polygon points="36.9,127.7 42.4,126.9 41.5,122.1 36.1,122.8" fill="#FC4E2A"/>
<polygon points="5.4,128.0 11.5,126.9 10.7,122.4 4.6,123.5" fill="#FC4E2A"/>
<polygon points="11.2,128.3 16.8,128.3 15.2,123.5 9.6,122.7" fill="#FED976"/>
<polygon points="2.6,134.8 12.3,136.3 15.8,136.3 19.3,132.3 15.4,128.4 6.4,128.2 1.9,131.0" fill="#FC4E2A"/>
<polygon points="44.6,131.5 50.1,130.8 49.3,125.9 43.0,126.7" fill="#FFFFCC"/>
<polygon points="48.5,135.3 55.8,135.3 55.8,129.8 46.9,130.5" fill="#FED976"/>
<polygon points="64.9,102.1 70.1,101.4 69.4,91.8 64.3,91.1" fill="#FC4E2A"/>
<polygon points="73.9,104.0 79.7,101.4 82.3,94.3 77.1,93.7 72.0,100.1" fill="#FC4E2A"/>
<polygon points="76.1,95.6 81.6,94.1 80.1,88.8 74.6,88.0" fill="#FED976"/>
<polygon points="82.2,88.5 90.1,83.6 87.5,80.2 78.1,85.3" fill="#FED976"/>
<polygon points="86.1,94.3 92.5,93.7 93.8,88.6 90.0,86.0 83.5,89.9" fill="#FC4E2A"/>
<polygon points="83.2,101.3 89.2,100.6 89.2,94.4 81.6,95.2" fill="#FC4E2A"/>
<polygon points="92.7,102.6 98.2,102.6 98.2,96.5 92.0,95.7" fill="#FC4E2A"/>
<polygon points="72.0,74.4 81.0,71.9 82.3,68.0 72.0,68.0 66.8,71.9" fill="#FC4E2A"/>
<polygon points="72.2,76.3 78.9,75.5 78.9,71.2 71.4,72.8" fill="#FED976"/>
<polygon points="86.1,80.2 92.5,80.9 100.0,78.3 100.0,71.2 90.0,71.9 83.5,75.7" fill="#FC4E2A"/>
<polygon points="84.4,112.3 89.9,111.5 89.1,106.0 83.6,106.8" fill="#FC4E2A"/>
<polygon points="87.6,121.3 93.7,120.5 93.0,114.4 86.8,115.1" fill="#FC4E2A"/>
<polygon points="61.9,114.8 67.4,114.1 66.6,108.6 61.1,109.3" fill="#FC4E2A"/>
<polygon points="61.9,121.2 66.1,121.2 65.4,115.1 61.1,114.3" fill="#FED976"/>
<polygon points="66.4,119.3 69.9,119.3 69.9,114.4 65.6,114.4" fill="#FED976"/>
<polygon points="75.8,125.8 79.7,119.4 78.4,116.2 73.9,119.4 71.3,127.1" fill="#FED976"/>
<polygon points="68.4,128.9 72.5,128.9 72.5,124.7 67.5,124.7" fill="#FFFFCC"/>
<polygon points="79.9,120.0 85.3,119.2 85.3,114.3 79.1,115.1" fill="#FC4E2A"/>
<polygon points="60.0,131.5 64.8,131.5 64.8,126.0 59.2,126.0" fill="#FC4E2A"/>
<polygon points="64.5,135.3 70.6,135.3 70.6,130.5 63.7,130.5" fill="#FC4E2A"/>
<polygon points="87.6,132.1 93.0,132.1 93.0,127.2 86.8,128.0" fill="#FED976"/>
<polygon points="53.6,111.6 57.7,111.6 57.7,106.7 52.8,106.7" fill="#FC4E2A"/>
<polygon points="18.0,130.7 20.6,131.0 21.2,128.4 17.4,128.2" fill="#FFFFFF"/>
<polygon points="155.9,79.6 157.8,86.0 163.0,91.1 164.3,97.6 169.4,98.8 174.6,96.9 177.1,93.1 184.2,89.9 185.5,82.1 188.7,75.1 184.8,73.1 178.4,73.8 169.4,75.7 165.6,75.7 160.4,71.2 155.3,70.6" fill="#FC4E2A"/>
<polygon points="178.4,100.1 184.8,98.8 186.1,93.7 184.2,91.1 177.1,93.1 174.6,96.9" fill="#FC4E2A"/>
<polygon points="190.0,102.7 190.3,102.8 190.3,93.1 188.7,91.8 185.5,89.9 184.2,98.2" fill="#FED976"/>
<polygon points="184.2,111.1 188.7,110.4 190.3,108.8 190.3,104.0 188.7,103.3 182.3,107.8" fill="#FC4E2A"/>
<polygon points="179.9,112.9 184.8,112.1 184.0,106.6 179.1,107.4" fill="#FFFFCC"/>
<polygon points="166.4,116.1 171.2,115.3 171.2,109.2 165.6,110.0" fill="#FFFFCC"/>
<polygon points="173.5,120.6 179.6,119.9 178.9,111.8 172.0,112.5" fill="#FC4E2A"/>
<polygon points="154.0,111.7 159.8,109.1 160.4,104.6 154.0,104.0 150.1,107.8" fill="#FC4E2A"/>
<polygon points="160.6,109.6 164.8,109.6 164.8,102.8 159.9,102.8" fill="#FED976"/>
<polygon points="139.8,116.8 148.2,114.3 147.6,110.4 142.4,109.1 137.3,113.6" fill="#FC4E2A"/>
<polygon points="149.7,118.0 154.5,118.0 154.5,111.8 148.9,112.6" fill="#FED976"/>
<polygon points="142.4,132.3 151.4,133.6 160.4,132.3 161.1,127.8 156.6,123.3 146.9,116.8 142.4,118.8 140.5,128.4" fill="#FED976"/>
<polygon points="161.0,123.8 163.9,135.5 168.8,133.9 165.9,125.4 161.0,123.8" fill="#FC4E2A"/>
<polygon points="148.6,73.1 155.6,71.0 157.3,67.7 145.5,67.7" fill="#FC4E2A"/>
<polygon points="136.2,78.1 141.6,78.1 141.6,71.9 135.4,72.7" fill="#FED976"/>
<polygon points="131.8,72.4 137.6,71.7 139.2,67.7 130.2,67.7" fill="#FC4E2A"/>
<polygon points="122.1,71.7 127.5,71.7 127.5,67.7 121.3,67.7" fill="#FED976"/>
<polygon points="116.2,76.2 120.5,76.2 119.8,67.7 115.5,67.7" fill="#FC4E2A"/>
<polygon points="114.1,86.6 119.3,80.9 119.3,77.0 114.1,78.3 110.3,84.7" fill="#FED976"/>
<polygon points="105.7,81.2 104.9,74.5 99.7,75.2 99.7,82.7" fill="#FC4E2A"/>
<polygon points="103.9,93.1 112.2,91.8 112.9,87.3 106.4,86.0 102.6,89.9" fill="#FC4E2A"/>
<polygon points="103.8,92.2 103.0,85.0 99.7,84.1 99.7,93.0" fill="#FC4E2A"/>
<polygon points="109.9,95.5 117.2,94.8 117.2,90.6 109.0,91.3" fill="#FED976"/>
<polygon points="116.9,89.1 122.4,88.4 122.4,82.9 116.1,83.6" fill="#FC4E2A"/>
<polygon points="136.2,88.5 142.3,87.7 141.6,81.6 135.4,81.6" fill="#FC4E2A"/>
<polygon points="129.1,98.1 134.0,97.3 133.2,91.8 128.4,92.7" fill="#FED976"/>
<polygon points="134.3,99.3 139.1,99.3 139.1,92.6 133.5,92.6" fill="#FC4E2A"/>
<polygon points="114.4,104.5 122.4,103.8 122.4,98.9 113.6,99.7" fill="#FC4E2A"/>
<polygon points="121.4,114.2 130.8,112.8 130.0,107.3 120.6,108.7" fill="#FC4E2A"/>
<polygon points="128.5,118.0 134.6,117.3 133.9,111.1 127.7,111.9" fill="#FED976"/>
<polygon points="121.5,122.6 129.6,121.1 128.0,115.6 119.9,117.1" fill="#FC4E2A"/>
<polygon points="116.9,116.1 121.7,115.3 121.7,110.5 116.1,111.3" fill="#FED976"/>
<polygon points="123.3,129.6 129.5,128.8 128.7,122.1 122.6,122.8" fill="#FC4E2A"/>
<polygon points="127.6,134.8 138.6,133.6 136.0,129.1 126.3,129.7" fill="#FED976"/>
<polygon points="104.1,119.3 108.9,118.5 108.1,113.7 103.3,114.5" fill="#FED976"/>
<polygon points="102.8,126.4 108.2,125.6 108.2,120.1 102.0,120.9" fill="#FC4E2A"/>
<polygon points="111.8,129.0 117.9,128.2 117.1,123.4 111.0,124.1" fill="#FC4E2A"/>
<polygon points="133.0,123.1 137.1,123.1 137.1,118.2 132.2,119.0" fill="#FED976"/>
<polygon points="100.9,109.6 105.6,109.6 105.6,104.1 100.1,104.1" fill="#FC4E2A"/>
<polygon points="105.4,101.3 111.4,101.3 111.4,96.4 104.6,96.4" fill="#FC4E2A"/>
<polygon points="108.8,133.8 112.6,134.1 113.5,129.8 108.5,129.8" fill="#FFFFCC"/>
<polygon points="189.7,92.1 189.7,103.8 195.5,104.5 196.3,101.3 193.0,95.3 189.7,92.1" fill="#FED976"/>
<polygon points="189.7,110.1 194.8,105.1 189.7,103.4 189.7,110.1" fill="#FC4E2A"/>
<polygon points="200.0,114.9 204.1,116.2 213.1,114.9 200.3,107.2" fill="#FC4E2A"/>
<polygon points="190.0,138.0 192.9,136.7 190.0,136.7" fill="#FED976"/>
<polygon points="206.1,138.6 217.0,138.6 224.7,136.1 223.4,130.9 205.4,131.6" fill="#FED976"/>
<polygon points="251.7,132.9 246.6,139.9 263.9,149.6 278.7,136.7 282.5,131.6 263.3,131.3 254.3,127.7" fill="#FED976"/>
<polygon points="241.4,145.7 243.3,163.1 249.1,166.3 263.9,149.6 246.6,139.9" fill="#FC4E2A"/>
<polygon points="202.9,151.5 214.4,143.8 217.0,138.6 203.5,140.6 202.2,150.8" fill="#FC4E2A"/>
<polygon points="190.0,163.1 202.9,161.8 204.1,158.6 199.0,152.8 190.0,152.8" fill="#FED976"/>
<polygon points="193.9,167.6 202.9,171.4 209.3,174.6 212.5,170.8 206.7,161.1 197.7,163.1 190.0,164.3" fill="#FC4E2A"/>
<polygon points="228.6,178.5 236.3,180.4 249.1,166.3 242.7,163.7 227.3,158.6 223.4,163.7 221.5,175.3" fill="#FC4E2A"/>
<polygon points="193.9,180.4 196.3,188.3 205.5,188.3 206.7,175.3 196.4,170.8 190.0,171.4" fill="#FC4E2A"/>
<polygon points="220.2,176.6 217.6,172.7 212.5,170.8 207.4,176.6 206.1,188.3 215.9,188.3" fill="#FED976"/>
<polygon points="233.7,181.7 226.0,180.4 224.2,188.3 228.9,188.3" fill="#FC4E2A"/>
<polygon points="195.1,184.5 193.7,176.9 189.7,174.5 189.7,187.6" fill="#FC4E2A"/>
<polygon points="5.4,136.1 12.7,139.1 18.3,139.8 19.9,135.7 5.5,135.7" fill="#FC4E2A"/>
<polygon points="27.0,150.8 32.1,155.3 38.6,160.4 41.8,161.1 41.8,156.6 37.3,151.4 37.9,146.3 35.3,141.1 32.1,143.1 27.6,141.8 21.9,145.6" fill="#FC4E2A"/>
<polygon points="48.8,161.7 55.3,164.9 57.8,161.7 58.5,157.2 56.6,152.7 50.8,155.3 45.0,159.1" fill="#FC4E2A"/>
<polygon points="64.3,159.1 68.1,157.2 72.6,150.1 70.7,145.6 65.6,145.0 62.3,151.4" fill="#FC4E2A"/>
<polygon points="57.6,149.5 59.1,143.3 55.0,142.5 51.9,147.9" fill="#FED976"/>
<polygon points="45.2,151.3 50.7,151.3 49.9,147.1 44.4,146.3" fill="#FED976"/>
<polygon points="51.0,154.5 55.1,154.5 55.1,149.5 50.2,150.4" fill="#FED976"/>
<polygon points="39.5,146.3 45.0,144.0 42.7,138.0 37.3,138.8" fill="#FC4E2A"/>
<polygon points="31.7,139.7 37.7,139.7 38.5,135.7 30.9,135.7" fill="#FED976"/>
<polygon points="79.3,144.3 84.7,143.5 84.0,137.5 77.8,136.7" fill="#FED976"/>
<polygon points="73.5,151.4 79.6,149.9 78.8,145.0 72.7,146.6" fill="#FED976"/>
<polygon points="49.7,141.0 53.8,141.0 54.6,136.1 48.9,136.9" fill="#FC4E2A"/>
<polygon points="64.5,142.9 69.9,142.9 69.9,138.0 63.7,138.8" fill="#FC4E2A"/>
<polygon points="72.2,177.6 77.0,177.6 77.0,170.1 70.7,170.9" fill="#FC4E2A"/>
<polygon points="76.7,168.0 80.1,168.0 80.9,160.3 75.9,162.0" fill="#FC4E2A"/>
<polygon points="80.5,175.2 84.7,174.3 84.7,168.2 79.8,169.0" fill="#FC4E2A"/>
<polygon points="89.0,181.5 94.4,180.8 93.6,175.3 87.4,176.1" fill="#FC4E2A"/>
<polygon points="92.8,173.2 98.9,172.4 98.1,166.3 91.3,167.1" fill="#FED976"/>
<polygon points="92.8,184.7 100.3,184.7 100.3,178.5 92.0,180.6" fill="#FED976"/>
<polygon points="74.6,195.1 82.3,195.8 91.3,194.5 90.0,184.2 74.6,186.1" fill="#FC4E2A"/>
<polygon points="91.9,194.5 100.0,194.5 100.0,183.6 91.9,184.8" fill="#FC4E2A"/>
<polygon points="77.1,199.6 81.8,204.3 95.2,204.3 96.4,199.0 90.0,195.8 79.7,195.1 72.0,196.4" fill="#FED976"/>
<polygon points="93.2,162.3 96.4,162.3 96.4,158.5 92.5,159.1" fill="#FFFFFF"/>
<polygon points="97.3,151.3 100.3,151.3 100.3,146.4 96.5,146.4" fill="#FED976"/>
<polygon points="87.6,162.3 92.4,161.5 92.4,156.0 86.8,156.8" fill="#FC4E2A"/>
<polygon points="149.5,146.9 155.3,148.2 162.3,148.9 163.0,141.1 157.8,137.3 151.4,137.9 148.2,144.4" fill="#FC4E2A"/>
<polygon points="163.6,146.3 165.6,151.4 169.4,154.0 173.9,150.8 174.6,145.0 172.0,138.6 166.8,137.3 163.6,140.5" fill="#FC4E2A"/>
<polygon points="154.0,155.3 156.6,159.8 161.7,160.4 165.6,157.2 166.2,152.1 162.3,148.9 155.3,148.2 152.1,150.1" fill="#FC4E2A"/>
<polygon points="137.9,141.8 142.4,145.0 148.8,142.4 147.6,136.0 138.6,137.3" fill="#FC4E2A"/>
<polygon points="157.5,139.0 163.3,140.5 164.9,135.7 155.8,135.7" fill="#FED976"/>
<polygon points="173.9,143.7 179.7,143.7 182.9,140.5 181.6,136.0 172.6,136.0" fill="#FED976"/>
<polygon points="182.9,140.5 187.4,143.7 190.3,142.3 190.3,137.0 190.3,137.0 190.3,136.9 190.3,136.9 190.3,136.9 190.3,136.9 190.2,136.8 190.2,136.8 190.2,136.8 190.2,136.8 190.2,136.8 190.1,136.7 190.1,136.7 190.1,136.7 190.1,136.7 190.0,136.7 190.0,136.7 183.3,136.7 183.3,136.0 181.6,136.0" fill="#FED976"/>
<polygon points="175.8,151.4 188.0,151.4 187.4,143.7 179.7,143.7 174.6,145.0" fill="#FED976"/>
<polygon points="188.7,162.3 190.3,162.9 190.3,153.3 188.7,153.4" fill="#FED976"/>
<polygon points="190.3,167.8 190.3,164.2 187.4,164.9" fill="#FC4E2A"/>
<polygon points="168.1,164.3 177.1,166.8 187.4,168.1 185.5,165.6 177.1,163.6 172.0,157.9 168.1,159.1 164.3,162.3" fill="#FC4E2A"/>
<polygon points="190.3,173.8 190.3,169.7 187.4,169.4" fill="#FC4E2A"/>
<polygon points="171.3,190.0 172.6,195.8 177.1,193.8 183.5,188.1 190.3,186.1 190.3,174.9 185.5,173.3 174.6,175.8 170.1,184.2" fill="#FC4E2A"/>
<polygon points="163.0,192.6 168.8,196.4 172.6,195.8 171.3,190.0 170.1,184.2 173.9,175.8 161.7,172.0 157.2,178.4" fill="#FC4E2A"/>
<polygon points="154.0,175.8 157.2,179.1 162.3,172.0 161.7,161.1 156.6,160.4 153.3,163.6" fill="#FC4E2A"/>
<polygon points="147.8,174.6 151.4,175.2 153.3,169.4 152.1,163.6 148.2,164.3" fill="#FC4E2A"/>
<polygon points="151.2,204.3 170.0,204.3 169.4,199.0 164.3,194.5 156.6,196.4 148.8,199.0" fill="#FC4E2A"/>
<polygon points="117.4,189.3 122.5,192.6 127.6,193.2 130.2,187.4 131.5,179.7 125.7,174.6 119.3,175.8 116.7,187.4" fill="#FC4E2A"/>
<polygon points="105.8,199.0 112.9,198.3 115.4,191.3 114.1,186.1 104.5,188.7" fill="#FC4E2A"/>
<polygon points="123.1,172.6 127.6,175.2 130.2,172.0 130.2,165.6 125.7,167.5 121.9,166.2" fill="#FC4E2A"/>
<polygon points="134.5,159.7 139.8,158.2 138.3,152.0 131.4,155.1" fill="#FC4E2A"/>
<polygon points="110.3,185.5 116.7,184.8 118.0,178.4 114.1,174.6 107.7,177.1" fill="#FC4E2A"/>
<polygon points="104.8,184.1 109.6,183.3 108.1,177.2 103.2,178.0" fill="#FC4E2A"/>
<polygon points="103.7,184.0 103.7,179.9 99.7,179.1 99.7,184.8" fill="#FED976"/>
<polygon points="103.7,192.8 103.7,185.1 99.7,183.5 99.7,195.2" fill="#FC4E2A"/>
<polygon points="103.7,203.3 103.7,195.9 99.7,195.9 99.7,203.3" fill="#FED976"/>
<polygon points="115.0,150.0 121.8,149.3 121.0,144.4 114.2,145.2" fill="#FED976"/>
<polygon points="111.2,144.3 117.3,143.5 116.5,138.0 109.6,138.8" fill="#FC4E2A"/>
<polygon points="122.8,144.3 130.8,142.8 130.0,137.4 121.2,138.8" fill="#FC4E2A"/>
<polygon points="132.4,147.5 138.4,146.0 139.1,140.6 130.9,141.3" fill="#FC4E2A"/>
<polygon points="129.1,153.3 136.6,152.5 135.8,147.7 128.3,148.4" fill="#FC4E2A"/>
<polygon points="108.0,167.5 113.4,165.9 112.6,160.5 106.4,161.3" fill="#FC4E2A"/>
<polygon points="115.6,169.3 121.1,168.6 121.1,163.8 114.8,163.8" fill="#FC4E2A"/>
<polygon points="119.5,175.1 124.3,174.3 123.6,168.8 118.7,169.6" fill="#FC4E2A"/>
<polygon points="102.2,173.2 107.0,172.4 106.2,167.6 101.4,168.4" fill="#FED976"/>
<polygon points="88.6,207.3 93.7,210.5 100.8,213.4 101.4,208.6 103.2,203.7 82.6,203.7" fill="#FED976"/>
<polygon points="110.0,215.5 114.8,215.5 114.1,207.9 109.2,209.5" fill="#FC4E2A"/>
<polygon points="198.5,190.2 205.6,188.9 205.7,187.7 196.9,187.7" fill="#FC4E2A"/>
<polygon points="205.6,188.9 213.9,188.9 214.6,187.7 205.7,187.7" fill="#FED976"/>
<polygon points="228.7,189.6 229.8,187.7 223.9,187.7 223.5,188.9" fill="#FC4E2A"/>
<polygon points="154.1,207.6 164.4,207.6 171.5,203.7 171.5,203.7 150.7,203.7" fill="#FC4E2A"/>
<polygon points="190.9,134.8 195.4,136.1 194.1,120.1 192.1,126.5 184.4,132.3" fill="#FED976"/>
<polygon points="95.0,22.0 97.0,33.0 107.0,30.0 105.0,20.0" fill="#FC4E2A"/>
<polygon points="108.0,30.0 110.0,40.0 120.0,38.0 118.0,28.0" fill="#FC4E2A"/>
<polygon points="100.0,36.0 101.0,46.0 110.0,45.0 108.0,35.0" fill="#FC4E2A"/>
<polygon points="88.0,30.0 89.0,39.0 96.0,38.0 95.0,29.0" fill="#FC4E2A"/>
</g>
<polygon points="93.2,1.5 97.7,5.8 100.0,5.8 103.9,7.7 112.9,9.0 116.7,6.4 123.8,5.1 129.6,9.0 134.7,7.7 138.6,10.3 142.4,10.9 151.4,18.0 157.8,24.4 164.3,30.8 169.4,36.0 173.9,41.8 177.1,43.1 179.4,45.6 177.1,49.5 172.0,56.6 166.8,62.3 165.6,63.0 164.9,68.0 165.6,71.9 169.4,75.7 178.4,73.8 184.8,73.1 188.7,75.1 185.5,82.1 185.5,87.3 188.7,91.8 192.5,95.0 195.8,101.4 201.6,106.6 213.1,114.9 224.7,118.8 241.4,123.9 253.0,127.8 263.3,131.0 282.5,131.3 278.7,136.7 265.8,149.6 249.1,166.3 236.3,180.4 228.6,188.0 226.1,189.6 214.6,189.6 205.6,189.6 197.8,191.5 190.1,197.3 183.7,201.8 177.3,203.1 170.8,203.7 164.4,207.6 154.1,207.6 147.7,202.4 145.1,204.7 137.4,208.6 128.4,214.3 124.6,217.6 119.4,215.6 110.4,215.0 101.4,213.7 93.7,210.5 88.6,207.3 82.1,203.4 75.7,198.9 70.6,195.7 64.1,196.3 57.7,197.0 55.1,189.3 54.0,183.6 51.4,180.3 44.3,181.0 42.4,175.8 38.6,170.7 37.9,165.6 39.8,163.6 38.6,160.4 32.1,155.3 27.0,150.8 25.0,148.2 21.7,144.4 19.3,140.5 14.5,137.6 10.6,135.7 6.8,136.2 1.9,134.7 1.4,131.8 5.3,128.0 4.8,125.1 6.8,122.7 12.5,123.1 18.3,122.7 22.7,119.3 22.5,113.0 21.9,105.3 23.1,100.1 23.8,93.7 27.6,89.9 26.3,87.3 25.7,82.1 30.8,77.0 39.2,75.7 38.6,70.6 39.8,68.0 39.2,64.3 40.5,60.4 44.3,57.8 47.6,51.4 52.0,43.7 55.3,42.4 56.6,37.3 60.4,30.2 61.7,25.7 59.8,20.6 64.3,21.2 63.0,18.0 64.3,14.8 72.0,12.9 79.7,10.3 83.5,11.6 88.7,6.4" fill="none" stroke="#000" stroke-width="0.55" stroke-linejoin="round"/>
</g>
</g>
<rect x="289.1" y="1.5" width="19.2" height="54.6" fill="#800026"/>
<text x="316.3" y="32.6" class="lab">&gt;1.00</text>
<rect x="289.1" y="55.8" width="19.2" height="54.6" fill="#FC4E2A"/>
<text x="316.3" y="86.9" class="lab">0.71–1.00</text>
<rect x="289.1" y="110.1" width="19.2" height="54.6" fill="#FEB24C"/>
<text x="316.3" y="141.2" class="lab">0.41–0.70</text>
<rect x="289.1" y="164.4" width="19.2" height="54.3" fill="#FFFFCC"/>
<text x="316.3" y="195.5" class="lab">0.00–0.40</text>
<rect x="702.3" y="1.5" width="19.2" height="54.6" fill="#800026"/>
<text x="729.5" y="32.6" class="lab">&gt;1.00</text>
<rect x="702.3" y="55.8" width="19.2" height="54.6" fill="#FC4E2A"/>
<text x="729.5" y="86.9" class="lab">0.71–1.00</text>
<rect x="702.3" y="110.1" width="19.2" height="54.6" fill="#FEB24C"/>
<text x="729.5" y="141.2" class="lab">0.41–0.70</text>
<rect x="702.3" y="164.4" width="19.2" height="54.3" fill="#FFFFCC"/>
<text x="729.5" y="195.5" class="lab">0.00–0.40</text>
<rect x="289.1" y="291.6" width="19.2" height="54.6" fill="#800026"/>
<text x="316.3" y="322.7" class="lab">&gt;1.00</text>
<rect x="289.1" y="345.9" width="19.2" height="54.6" fill="#FC4E2A"/>
<text x="316.3" y="377.0" class="lab">0.71–1.00</text>
<rect x="289.1" y="400.2" width="19.2" height="54.6" fill="#FEB24C"/>
<text x="316.3" y="431.3" class="lab">0.41–0.70</text>
<rect x="289.1" y="454.5" width="19.2" height="54.3" fill="#FFFFCC"/>
<text x="316.3" y="485.6" class="lab">0.00–0.40</text>
<text x="100" y="233.5" class="cap1">(a)</text><text x="125.5" y="233.5" class="cap2">SHARED</text>
<text x="528.2" y="233.5" class="cap1">(b)</text><text x="554" y="233.5" class="cap2">HIV</text>
<text x="120.8" y="523.5" class="cap1 bd">(c)</text><text x="143.4" y="523.5" class="cap2">TB</text>
</svg></body></html>
